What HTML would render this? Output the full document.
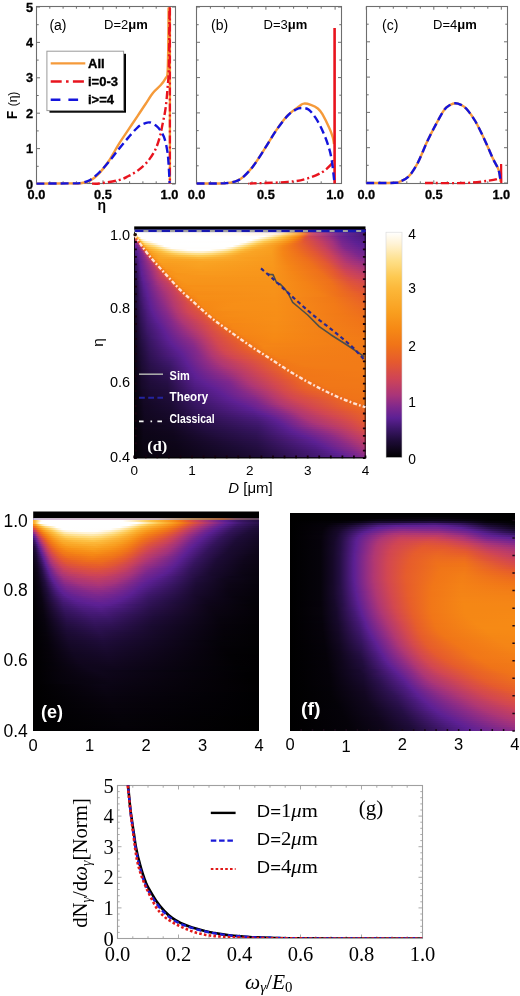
<!DOCTYPE html>
<html><head><meta charset="utf-8"><style>html,body{margin:0;padding:0;background:#fff;width:520px;height:996px;overflow:hidden}svg{display:block}</style></head>
<body><svg width="520" height="996" viewBox="0 0 520 996">
<defs><linearGradient id="d0" gradientUnits="userSpaceOnUse" x1="134.2" x2="365.5"><stop offset="0" stop-color="#ffffff"/><stop offset="0.64" stop-color="#ffffff"/><stop offset="0.644" stop-color="#fffdf9"/><stop offset="0.662" stop-color="#ffeec1"/><stop offset="0.679" stop-color="#fedb7e"/><stop offset="0.692" stop-color="#fdc952"/><stop offset="0.709" stop-color="#fbb031"/><stop offset="0.731" stop-color="#f68c16"/><stop offset="0.744" stop-color="#f07418"/><stop offset="0.756" stop-color="#e35831"/><stop offset="0.774" stop-color="#c5405f"/><stop offset="0.791" stop-color="#b4396f"/><stop offset="0.834" stop-color="#972f82"/><stop offset="0.886" stop-color="#6b2391"/><stop offset="0.916" stop-color="#5b2093"/><stop offset="0.985" stop-color="#4c1b7e"/><stop offset="1" stop-color="#4b1b7d"/></linearGradient>
<linearGradient id="d1" gradientUnits="userSpaceOnUse" x1="134.2" x2="365.5"><stop offset="0" stop-color="#fff3d7"/><stop offset="0.006" stop-color="#ffffff"/><stop offset="0.623" stop-color="#ffffff"/><stop offset="0.644" stop-color="#ffefc4"/><stop offset="0.666" stop-color="#feda7c"/><stop offset="0.683" stop-color="#fdc54c"/><stop offset="0.7" stop-color="#fbb031"/><stop offset="0.722" stop-color="#f79118"/><stop offset="0.735" stop-color="#f27a17"/><stop offset="0.744" stop-color="#eb6921"/><stop offset="0.752" stop-color="#e35832"/><stop offset="0.765" stop-color="#cf4456"/><stop offset="0.778" stop-color="#bd3c67"/><stop offset="0.83" stop-color="#9b3080"/><stop offset="0.881" stop-color="#6e2490"/><stop offset="0.916" stop-color="#5b2093"/><stop offset="0.985" stop-color="#4c1b7e"/><stop offset="1" stop-color="#4b1b7d"/></linearGradient>
<linearGradient id="d2" gradientUnits="userSpaceOnUse" x1="134.2" x2="365.5"><stop offset="0" stop-color="#fcba3c"/><stop offset="0.006" stop-color="#feda7b"/><stop offset="0.011" stop-color="#fff6e1"/><stop offset="0.015" stop-color="#ffffff"/><stop offset="0.597" stop-color="#fffffe"/><stop offset="0.619" stop-color="#fff1cd"/><stop offset="0.644" stop-color="#fedc81"/><stop offset="0.666" stop-color="#fdc64d"/><stop offset="0.688" stop-color="#fbb031"/><stop offset="0.713" stop-color="#f79219"/><stop offset="0.726" stop-color="#f27d17"/><stop offset="0.735" stop-color="#ed6e1d"/><stop offset="0.748" stop-color="#e15636"/><stop offset="0.761" stop-color="#cf4456"/><stop offset="0.778" stop-color="#bd3c67"/><stop offset="0.83" stop-color="#9b3080"/><stop offset="0.881" stop-color="#6e2490"/><stop offset="0.92" stop-color="#5a1f91"/><stop offset="0.989" stop-color="#4c1b7e"/><stop offset="1" stop-color="#4b1b7d"/></linearGradient>
<linearGradient id="d3" gradientUnits="userSpaceOnUse" x1="134.2" x2="365.5"><stop offset="0" stop-color="#f48416"/><stop offset="0.006" stop-color="#f9a121"/><stop offset="0.011" stop-color="#fdc349"/><stop offset="0.015" stop-color="#fee7a5"/><stop offset="0.019" stop-color="#fffbf1"/><stop offset="0.024" stop-color="#ffffff"/><stop offset="0.562" stop-color="#ffffff"/><stop offset="0.593" stop-color="#ffefc7"/><stop offset="0.627" stop-color="#fed775"/><stop offset="0.644" stop-color="#fdc850"/><stop offset="0.67" stop-color="#fbb133"/><stop offset="0.705" stop-color="#f79018"/><stop offset="0.722" stop-color="#f17817"/><stop offset="0.739" stop-color="#e55a2e"/><stop offset="0.756" stop-color="#d14653"/><stop offset="0.8" stop-color="#b4396f"/><stop offset="0.838" stop-color="#9a3080"/><stop offset="0.886" stop-color="#6f2490"/><stop offset="0.925" stop-color="#5b2092"/><stop offset="0.989" stop-color="#4d1b7f"/><stop offset="1" stop-color="#4c1b7f"/></linearGradient>
<linearGradient id="d4" gradientUnits="userSpaceOnUse" x1="134.2" x2="365.5"><stop offset="0" stop-color="#d94e43"/><stop offset="0.006" stop-color="#e96426"/><stop offset="0.011" stop-color="#f58815"/><stop offset="0.015" stop-color="#fbad2f"/><stop offset="0.019" stop-color="#fdd167"/><stop offset="0.024" stop-color="#ffebb4"/><stop offset="0.028" stop-color="#fff8e6"/><stop offset="0.032" stop-color="#ffffff"/><stop offset="0.532" stop-color="#ffffff"/><stop offset="0.593" stop-color="#fedd83"/><stop offset="0.627" stop-color="#fdc34a"/><stop offset="0.657" stop-color="#fbad2f"/><stop offset="0.696" stop-color="#f68d16"/><stop offset="0.718" stop-color="#ef7319"/><stop offset="0.739" stop-color="#de533a"/><stop offset="0.761" stop-color="#d24751"/><stop offset="0.843" stop-color="#a1327d"/><stop offset="0.89" stop-color="#72258f"/><stop offset="0.938" stop-color="#5b2092"/><stop offset="0.994" stop-color="#4e1c82"/><stop offset="1" stop-color="#4e1c81"/></linearGradient>
<linearGradient id="d5" gradientUnits="userSpaceOnUse" x1="134.2" x2="365.5"><stop offset="0" stop-color="#af3773"/><stop offset="0.006" stop-color="#c03e64"/><stop offset="0.011" stop-color="#db5041"/><stop offset="0.015" stop-color="#f07418"/><stop offset="0.019" stop-color="#f89b1d"/><stop offset="0.024" stop-color="#fcba3d"/><stop offset="0.028" stop-color="#fed775"/><stop offset="0.032" stop-color="#fee8a9"/><stop offset="0.037" stop-color="#fff0cc"/><stop offset="0.041" stop-color="#fff6df"/><stop offset="0.054" stop-color="#ffffff"/><stop offset="0.506" stop-color="#ffffff"/><stop offset="0.554" stop-color="#fee18d"/><stop offset="0.597" stop-color="#fdc64d"/><stop offset="0.636" stop-color="#fbae2f"/><stop offset="0.683" stop-color="#f68c16"/><stop offset="0.709" stop-color="#ef7219"/><stop offset="0.735" stop-color="#e05536"/><stop offset="0.791" stop-color="#c8415d"/><stop offset="0.851" stop-color="#a1327d"/><stop offset="0.894" stop-color="#75258f"/><stop offset="0.95" stop-color="#5a1f91"/><stop offset="1" stop-color="#511d85"/></linearGradient>
<linearGradient id="d6" gradientUnits="userSpaceOnUse" x1="134.2" x2="365.5"><stop offset="0" stop-color="#892b88"/><stop offset="0.006" stop-color="#932e83"/><stop offset="0.011" stop-color="#ab3577"/><stop offset="0.015" stop-color="#cb425a"/><stop offset="0.019" stop-color="#e75f2a"/><stop offset="0.024" stop-color="#f58616"/><stop offset="0.028" stop-color="#faa728"/><stop offset="0.032" stop-color="#fdc146"/><stop offset="0.037" stop-color="#fed56f"/><stop offset="0.041" stop-color="#fee18d"/><stop offset="0.045" stop-color="#fee6a3"/><stop offset="0.058" stop-color="#fff0ca"/><stop offset="0.084" stop-color="#ffffff"/><stop offset="0.481" stop-color="#fffefd"/><stop offset="0.502" stop-color="#fff0cb"/><stop offset="0.528" stop-color="#fedf87"/><stop offset="0.562" stop-color="#fdc74f"/><stop offset="0.601" stop-color="#fbb234"/><stop offset="0.666" stop-color="#f68d16"/><stop offset="0.7" stop-color="#ef711b"/><stop offset="0.731" stop-color="#e45930"/><stop offset="0.808" stop-color="#c43f61"/><stop offset="0.856" stop-color="#a4337c"/><stop offset="0.899" stop-color="#76268e"/><stop offset="0.959" stop-color="#5b2093"/><stop offset="1" stop-color="#551e8a"/></linearGradient>
<linearGradient id="d7" gradientUnits="userSpaceOnUse" x1="134.2" x2="365.5"><stop offset="0" stop-color="#71258f"/><stop offset="0.011" stop-color="#80288c"/><stop offset="0.015" stop-color="#972f82"/><stop offset="0.019" stop-color="#b93b6b"/><stop offset="0.024" stop-color="#db5041"/><stop offset="0.028" stop-color="#f07319"/><stop offset="0.032" stop-color="#f7941a"/><stop offset="0.037" stop-color="#fbae2f"/><stop offset="0.045" stop-color="#fdcd5c"/><stop offset="0.05" stop-color="#fed56f"/><stop offset="0.084" stop-color="#ffeec2"/><stop offset="0.106" stop-color="#fffefb"/><stop offset="0.123" stop-color="#ffffff"/><stop offset="0.45" stop-color="#ffffff"/><stop offset="0.468" stop-color="#fff5dc"/><stop offset="0.506" stop-color="#fedb7d"/><stop offset="0.532" stop-color="#fdc74f"/><stop offset="0.562" stop-color="#fcb537"/><stop offset="0.636" stop-color="#f7941a"/><stop offset="0.666" stop-color="#f48116"/><stop offset="0.696" stop-color="#ed6d1e"/><stop offset="0.752" stop-color="#de533a"/><stop offset="0.813" stop-color="#c6405e"/><stop offset="0.86" stop-color="#a6337b"/><stop offset="0.899" stop-color="#7c278d"/><stop offset="0.968" stop-color="#5d2094"/><stop offset="1" stop-color="#591f8f"/></linearGradient>
<linearGradient id="d8" gradientUnits="userSpaceOnUse" x1="134.2" x2="365.5"><stop offset="0" stop-color="#602193"/><stop offset="0.011" stop-color="#6c2490"/><stop offset="0.015" stop-color="#77268e"/><stop offset="0.019" stop-color="#8b2b87"/><stop offset="0.024" stop-color="#ad3676"/><stop offset="0.028" stop-color="#d04554"/><stop offset="0.032" stop-color="#e86128"/><stop offset="0.037" stop-color="#f48116"/><stop offset="0.041" stop-color="#f99d1e"/><stop offset="0.045" stop-color="#fbae2f"/><stop offset="0.054" stop-color="#fdc248"/><stop offset="0.088" stop-color="#fedf89"/><stop offset="0.123" stop-color="#fff8e9"/><stop offset="0.131" stop-color="#fffffe"/><stop offset="0.425" stop-color="#fffffe"/><stop offset="0.45" stop-color="#ffeec3"/><stop offset="0.476" stop-color="#fedd83"/><stop offset="0.506" stop-color="#fdc74e"/><stop offset="0.537" stop-color="#fbb335"/><stop offset="0.61" stop-color="#f89a1d"/><stop offset="0.649" stop-color="#f48416"/><stop offset="0.692" stop-color="#ee6f1c"/><stop offset="0.752" stop-color="#e15635"/><stop offset="0.821" stop-color="#c6405e"/><stop offset="0.869" stop-color="#a3337c"/><stop offset="0.903" stop-color="#7e288c"/><stop offset="0.972" stop-color="#612193"/><stop offset="1" stop-color="#5d2094"/></linearGradient>
<linearGradient id="d9" gradientUnits="userSpaceOnUse" x1="134.2" x2="365.5"><stop offset="0" stop-color="#541e89"/><stop offset="0.011" stop-color="#612193"/><stop offset="0.019" stop-color="#75268e"/><stop offset="0.024" stop-color="#862a89"/><stop offset="0.028" stop-color="#a3327c"/><stop offset="0.032" stop-color="#c23f62"/><stop offset="0.037" stop-color="#de533a"/><stop offset="0.041" stop-color="#ef711a"/><stop offset="0.045" stop-color="#f68b15"/><stop offset="0.05" stop-color="#f99f1f"/><stop offset="0.058" stop-color="#fbb234"/><stop offset="0.088" stop-color="#fdcb57"/><stop offset="0.119" stop-color="#fee498"/><stop offset="0.144" stop-color="#fff5dd"/><stop offset="0.162" stop-color="#fffefd"/><stop offset="0.39" stop-color="#fffefd"/><stop offset="0.416" stop-color="#fff2d1"/><stop offset="0.45" stop-color="#fedc80"/><stop offset="0.481" stop-color="#fdc64d"/><stop offset="0.511" stop-color="#fbb334"/><stop offset="0.554" stop-color="#faa627"/><stop offset="0.601" stop-color="#f89c1e"/><stop offset="0.644" stop-color="#f48416"/><stop offset="0.696" stop-color="#ee6f1c"/><stop offset="0.761" stop-color="#e15635"/><stop offset="0.825" stop-color="#c9425c"/><stop offset="0.877" stop-color="#a0327d"/><stop offset="0.912" stop-color="#7f288c"/><stop offset="0.981" stop-color="#642292"/><stop offset="1" stop-color="#612193"/></linearGradient>
<linearGradient id="d10" gradientUnits="userSpaceOnUse" x1="134.2" x2="365.5"><stop offset="0" stop-color="#4a1b7b"/><stop offset="0.011" stop-color="#581f8f"/><stop offset="0.019" stop-color="#6b2391"/><stop offset="0.028" stop-color="#84298a"/><stop offset="0.032" stop-color="#9b3080"/><stop offset="0.037" stop-color="#b73a6c"/><stop offset="0.041" stop-color="#d4494c"/><stop offset="0.045" stop-color="#e86128"/><stop offset="0.05" stop-color="#f27b17"/><stop offset="0.054" stop-color="#f78f17"/><stop offset="0.063" stop-color="#faa626"/><stop offset="0.101" stop-color="#fdc247"/><stop offset="0.114" stop-color="#fdcc5a"/><stop offset="0.162" stop-color="#ffecbb"/><stop offset="0.183" stop-color="#fff4da"/><stop offset="0.231" stop-color="#ffffff"/><stop offset="0.325" stop-color="#fffffe"/><stop offset="0.377" stop-color="#fff1cd"/><stop offset="0.403" stop-color="#fee7a5"/><stop offset="0.45" stop-color="#fdc84f"/><stop offset="0.481" stop-color="#fcb436"/><stop offset="0.524" stop-color="#faa626"/><stop offset="0.593" stop-color="#f99e1f"/><stop offset="0.644" stop-color="#f48416"/><stop offset="0.705" stop-color="#ee6e1d"/><stop offset="0.769" stop-color="#e15635"/><stop offset="0.834" stop-color="#c9415c"/><stop offset="0.886" stop-color="#9f317e"/><stop offset="0.92" stop-color="#82298b"/><stop offset="0.985" stop-color="#682391"/><stop offset="1" stop-color="#662292"/></linearGradient>
<linearGradient id="d11" gradientUnits="userSpaceOnUse" x1="134.2" x2="365.5"><stop offset="0" stop-color="#411870"/><stop offset="0.015" stop-color="#5b2093"/><stop offset="0.032" stop-color="#84298a"/><stop offset="0.037" stop-color="#962f82"/><stop offset="0.041" stop-color="#ae3774"/><stop offset="0.045" stop-color="#c9425b"/><stop offset="0.05" stop-color="#df5438"/><stop offset="0.054" stop-color="#ed6d1e"/><stop offset="0.058" stop-color="#f48216"/><stop offset="0.067" stop-color="#f89c1e"/><stop offset="0.084" stop-color="#faaa2a"/><stop offset="0.119" stop-color="#fcbc40"/><stop offset="0.14" stop-color="#fdcc5a"/><stop offset="0.17" stop-color="#fede85"/><stop offset="0.231" stop-color="#ffedbe"/><stop offset="0.269" stop-color="#fff2d1"/><stop offset="0.3" stop-color="#fff1ce"/><stop offset="0.338" stop-color="#ffeab1"/><stop offset="0.403" stop-color="#fdd36b"/><stop offset="0.429" stop-color="#fdc349"/><stop offset="0.459" stop-color="#fbb233"/><stop offset="0.506" stop-color="#faa425"/><stop offset="0.593" stop-color="#f99d1e"/><stop offset="0.644" stop-color="#f58516"/><stop offset="0.709" stop-color="#ee6f1c"/><stop offset="0.778" stop-color="#e25734"/><stop offset="0.843" stop-color="#c8415c"/><stop offset="0.899" stop-color="#9a3080"/><stop offset="0.955" stop-color="#78268e"/><stop offset="1" stop-color="#6b2391"/></linearGradient>
<linearGradient id="d12" gradientUnits="userSpaceOnUse" x1="134.2" x2="365.5"><stop offset="0" stop-color="#3a1665"/><stop offset="0.015" stop-color="#561e8c"/><stop offset="0.019" stop-color="#602193"/><stop offset="0.037" stop-color="#852a8a"/><stop offset="0.041" stop-color="#932e83"/><stop offset="0.045" stop-color="#a8347a"/><stop offset="0.05" stop-color="#bd3d66"/><stop offset="0.054" stop-color="#d54a4b"/><stop offset="0.058" stop-color="#e75e2a"/><stop offset="0.063" stop-color="#f07618"/><stop offset="0.067" stop-color="#f58715"/><stop offset="0.075" stop-color="#f89c1e"/><stop offset="0.101" stop-color="#faaa2b"/><stop offset="0.144" stop-color="#fcbc3f"/><stop offset="0.196" stop-color="#fdd268"/><stop offset="0.252" stop-color="#fede86"/><stop offset="0.291" stop-color="#fee08a"/><stop offset="0.334" stop-color="#fed876"/><stop offset="0.412" stop-color="#fcbb3e"/><stop offset="0.468" stop-color="#faa626"/><stop offset="0.593" stop-color="#f89c1e"/><stop offset="0.644" stop-color="#f58516"/><stop offset="0.718" stop-color="#ee6f1c"/><stop offset="0.787" stop-color="#e25733"/><stop offset="0.847" stop-color="#cb425a"/><stop offset="0.903" stop-color="#9f317e"/><stop offset="0.968" stop-color="#79268e"/><stop offset="1" stop-color="#71258f"/></linearGradient>
<linearGradient id="d13" gradientUnits="userSpaceOnUse" x1="134.2" x2="365.5"><stop offset="0" stop-color="#34145c"/><stop offset="0.019" stop-color="#5b2093"/><stop offset="0.041" stop-color="#872a89"/><stop offset="0.05" stop-color="#a3327c"/><stop offset="0.054" stop-color="#b4396f"/><stop offset="0.058" stop-color="#cb425a"/><stop offset="0.067" stop-color="#eb6822"/><stop offset="0.071" stop-color="#f27c17"/><stop offset="0.075" stop-color="#f68b15"/><stop offset="0.084" stop-color="#f89c1e"/><stop offset="0.114" stop-color="#faa92a"/><stop offset="0.183" stop-color="#fcbb3e"/><stop offset="0.274" stop-color="#fdcc59"/><stop offset="0.317" stop-color="#fdc850"/><stop offset="0.446" stop-color="#faa526"/><stop offset="0.597" stop-color="#f89a1d"/><stop offset="0.649" stop-color="#f48416"/><stop offset="0.726" stop-color="#ee6f1c"/><stop offset="0.8" stop-color="#e15635"/><stop offset="0.856" stop-color="#cb425a"/><stop offset="0.907" stop-color="#a3337c"/><stop offset="0.972" stop-color="#7e288c"/><stop offset="1" stop-color="#78268e"/></linearGradient>
<linearGradient id="d14" gradientUnits="userSpaceOnUse" x1="134.2" x2="365.5"><stop offset="0" stop-color="#2f1253"/><stop offset="0.019" stop-color="#571e8d"/><stop offset="0.024" stop-color="#612193"/><stop offset="0.05" stop-color="#932e83"/><stop offset="0.058" stop-color="#ae3674"/><stop offset="0.063" stop-color="#bf3e65"/><stop offset="0.067" stop-color="#d4494d"/><stop offset="0.071" stop-color="#e55a2e"/><stop offset="0.075" stop-color="#ee6f1c"/><stop offset="0.08" stop-color="#f48116"/><stop offset="0.088" stop-color="#f8971b"/><stop offset="0.106" stop-color="#f9a424"/><stop offset="0.287" stop-color="#fcb83b"/><stop offset="0.481" stop-color="#f99f20"/><stop offset="0.597" stop-color="#f8991d"/><stop offset="0.653" stop-color="#f48416"/><stop offset="0.739" stop-color="#ee6f1c"/><stop offset="0.808" stop-color="#e25734"/><stop offset="0.864" stop-color="#ca425b"/><stop offset="0.916" stop-color="#a5337b"/><stop offset="0.981" stop-color="#83298b"/><stop offset="1" stop-color="#80288c"/></linearGradient>
<linearGradient id="d15" gradientUnits="userSpaceOnUse" x1="134.2" x2="365.5"><stop offset="0" stop-color="#2a104c"/><stop offset="0.024" stop-color="#5d2094"/><stop offset="0.054" stop-color="#952e83"/><stop offset="0.063" stop-color="#aa3578"/><stop offset="0.071" stop-color="#ca425b"/><stop offset="0.08" stop-color="#e86228"/><stop offset="0.084" stop-color="#f07618"/><stop offset="0.093" stop-color="#f79018"/><stop offset="0.106" stop-color="#f9a020"/><stop offset="0.3" stop-color="#faab2c"/><stop offset="0.528" stop-color="#f99d1e"/><stop offset="0.597" stop-color="#f8991c"/><stop offset="0.657" stop-color="#f48416"/><stop offset="0.748" stop-color="#ee6f1c"/><stop offset="0.817" stop-color="#e25733"/><stop offset="0.869" stop-color="#cc4359"/><stop offset="0.916" stop-color="#ab3577"/><stop offset="0.985" stop-color="#8a2b87"/><stop offset="1" stop-color="#882a88"/></linearGradient>
<linearGradient id="d16" gradientUnits="userSpaceOnUse" x1="134.2" x2="365.5"><stop offset="0" stop-color="#270f47"/><stop offset="0.024" stop-color="#5a1f91"/><stop offset="0.054" stop-color="#8f2d85"/><stop offset="0.067" stop-color="#a93479"/><stop offset="0.075" stop-color="#c03e64"/><stop offset="0.08" stop-color="#d24751"/><stop offset="0.084" stop-color="#e15636"/><stop offset="0.088" stop-color="#eb6822"/><stop offset="0.093" stop-color="#f27b17"/><stop offset="0.101" stop-color="#f79219"/><stop offset="0.114" stop-color="#f99f1f"/><stop offset="0.321" stop-color="#faa424"/><stop offset="0.597" stop-color="#f8981c"/><stop offset="0.662" stop-color="#f48416"/><stop offset="0.756" stop-color="#ee701c"/><stop offset="0.825" stop-color="#e35832"/><stop offset="0.877" stop-color="#cb425a"/><stop offset="0.92" stop-color="#af3773"/><stop offset="0.994" stop-color="#912d84"/><stop offset="1" stop-color="#912d85"/></linearGradient>
<linearGradient id="d17" gradientUnits="userSpaceOnUse" x1="134.2" x2="365.5"><stop offset="0" stop-color="#240e43"/><stop offset="0.024" stop-color="#581f8e"/><stop offset="0.028" stop-color="#612193"/><stop offset="0.067" stop-color="#9f317e"/><stop offset="0.08" stop-color="#ba3b6a"/><stop offset="0.084" stop-color="#c9415c"/><stop offset="0.093" stop-color="#e55b2d"/><stop offset="0.097" stop-color="#ee6e1d"/><stop offset="0.106" stop-color="#f68a15"/><stop offset="0.119" stop-color="#f89b1e"/><stop offset="0.287" stop-color="#f9a323"/><stop offset="0.597" stop-color="#f8981c"/><stop offset="0.666" stop-color="#f48416"/><stop offset="0.765" stop-color="#ee701b"/><stop offset="0.838" stop-color="#e25734"/><stop offset="0.89" stop-color="#c7415e"/><stop offset="0.946" stop-color="#ab3577"/><stop offset="1" stop-color="#993081"/></linearGradient>
<linearGradient id="d18" gradientUnits="userSpaceOnUse" x1="134.2" x2="365.5"><stop offset="0" stop-color="#220d3f"/><stop offset="0.024" stop-color="#551e8b"/><stop offset="0.028" stop-color="#5e2094"/><stop offset="0.063" stop-color="#922e84"/><stop offset="0.08" stop-color="#ae3774"/><stop offset="0.088" stop-color="#c13e63"/><stop offset="0.093" stop-color="#d04554"/><stop offset="0.101" stop-color="#e86029"/><stop offset="0.106" stop-color="#ef7219"/><stop offset="0.114" stop-color="#f68b16"/><stop offset="0.127" stop-color="#f8991d"/><stop offset="0.282" stop-color="#f9a121"/><stop offset="0.601" stop-color="#f8971b"/><stop offset="0.67" stop-color="#f58516"/><stop offset="0.774" stop-color="#ee701b"/><stop offset="0.843" stop-color="#e35831"/><stop offset="0.907" stop-color="#c23f62"/><stop offset="0.985" stop-color="#a5337b"/><stop offset="1" stop-color="#a2327d"/></linearGradient>
<linearGradient id="d19" gradientUnits="userSpaceOnUse" x1="134.2" x2="365.5"><stop offset="0" stop-color="#200d3b"/><stop offset="0.024" stop-color="#531d88"/><stop offset="0.028" stop-color="#5c2094"/><stop offset="0.067" stop-color="#942e83"/><stop offset="0.088" stop-color="#b5396e"/><stop offset="0.097" stop-color="#c9425b"/><stop offset="0.106" stop-color="#e05536"/><stop offset="0.114" stop-color="#f07518"/><stop offset="0.123" stop-color="#f68b16"/><stop offset="0.136" stop-color="#f8971c"/><stop offset="0.282" stop-color="#f99f20"/><stop offset="0.601" stop-color="#f8961b"/><stop offset="0.679" stop-color="#f48416"/><stop offset="0.782" stop-color="#ee701b"/><stop offset="0.851" stop-color="#e35831"/><stop offset="0.907" stop-color="#c8415c"/><stop offset="0.985" stop-color="#ac3676"/><stop offset="1" stop-color="#aa3578"/></linearGradient>
<linearGradient id="d20" gradientUnits="userSpaceOnUse" x1="134.2" x2="365.5"><stop offset="0" stop-color="#1e0c38"/><stop offset="0.024" stop-color="#511d86"/><stop offset="0.028" stop-color="#5a1f91"/><stop offset="0.058" stop-color="#82298b"/><stop offset="0.088" stop-color="#b03773"/><stop offset="0.101" stop-color="#c54060"/><stop offset="0.11" stop-color="#d94e45"/><stop offset="0.114" stop-color="#e45930"/><stop offset="0.123" stop-color="#f17718"/><stop offset="0.136" stop-color="#f79018"/><stop offset="0.17" stop-color="#f8991c"/><stop offset="0.304" stop-color="#f99d1e"/><stop offset="0.601" stop-color="#f8961b"/><stop offset="0.683" stop-color="#f48416"/><stop offset="0.791" stop-color="#ef711b"/><stop offset="0.86" stop-color="#e35832"/><stop offset="0.912" stop-color="#cd4358"/><stop offset="0.989" stop-color="#b13871"/><stop offset="1" stop-color="#b03772"/></linearGradient>
<linearGradient id="d21" gradientUnits="userSpaceOnUse" x1="134.2" x2="365.5"><stop offset="0" stop-color="#1d0c36"/><stop offset="0.024" stop-color="#4f1c83"/><stop offset="0.032" stop-color="#5e2193"/><stop offset="0.067" stop-color="#8a2b87"/><stop offset="0.093" stop-color="#b23871"/><stop offset="0.11" stop-color="#cb4259"/><stop offset="0.119" stop-color="#dc513e"/><stop offset="0.127" stop-color="#ec6b1f"/><stop offset="0.131" stop-color="#f17917"/><stop offset="0.144" stop-color="#f79018"/><stop offset="0.188" stop-color="#f8991c"/><stop offset="0.334" stop-color="#f89a1d"/><stop offset="0.601" stop-color="#f8951b"/><stop offset="0.688" stop-color="#f58516"/><stop offset="0.8" stop-color="#ef711b"/><stop offset="0.864" stop-color="#e45930"/><stop offset="0.916" stop-color="#d04554"/><stop offset="0.994" stop-color="#b73a6c"/><stop offset="1" stop-color="#b63a6d"/></linearGradient>
<linearGradient id="d22" gradientUnits="userSpaceOnUse" x1="134.2" x2="365.5"><stop offset="0" stop-color="#1b0b33"/><stop offset="0.011" stop-color="#2e1252"/><stop offset="0.024" stop-color="#4d1c80"/><stop offset="0.032" stop-color="#5c2094"/><stop offset="0.071" stop-color="#8d2c86"/><stop offset="0.093" stop-color="#ae3774"/><stop offset="0.119" stop-color="#d04555"/><stop offset="0.127" stop-color="#df543a"/><stop offset="0.136" stop-color="#ee6e1d"/><stop offset="0.144" stop-color="#f58516"/><stop offset="0.157" stop-color="#f79319"/><stop offset="0.282" stop-color="#f89a1d"/><stop offset="0.601" stop-color="#f8951b"/><stop offset="0.696" stop-color="#f48416"/><stop offset="0.813" stop-color="#ee701c"/><stop offset="0.873" stop-color="#e35831"/><stop offset="0.925" stop-color="#d14652"/><stop offset="1" stop-color="#bd3c67"/></linearGradient>
<linearGradient id="d23" gradientUnits="userSpaceOnUse" x1="134.2" x2="365.5"><stop offset="0" stop-color="#1a0a31"/><stop offset="0.011" stop-color="#2c114f"/><stop offset="0.024" stop-color="#4b1b7d"/><stop offset="0.032" stop-color="#5a1f91"/><stop offset="0.054" stop-color="#72258f"/><stop offset="0.08" stop-color="#962f82"/><stop offset="0.101" stop-color="#b4396f"/><stop offset="0.127" stop-color="#d14652"/><stop offset="0.136" stop-color="#e05536"/><stop offset="0.144" stop-color="#ef711b"/><stop offset="0.157" stop-color="#f68d16"/><stop offset="0.179" stop-color="#f8951b"/><stop offset="0.356" stop-color="#f8971b"/><stop offset="0.601" stop-color="#f7951a"/><stop offset="0.705" stop-color="#f48416"/><stop offset="0.821" stop-color="#ee701b"/><stop offset="0.881" stop-color="#e35832"/><stop offset="0.933" stop-color="#d3484f"/><stop offset="1" stop-color="#c33f61"/></linearGradient>
<linearGradient id="d24" gradientUnits="userSpaceOnUse" x1="134.2" x2="365.5"><stop offset="0" stop-color="#190a2f"/><stop offset="0.011" stop-color="#2a104c"/><stop offset="0.024" stop-color="#491a7a"/><stop offset="0.037" stop-color="#5d2094"/><stop offset="0.075" stop-color="#8b2b87"/><stop offset="0.097" stop-color="#ac3577"/><stop offset="0.131" stop-color="#cc4359"/><stop offset="0.14" stop-color="#d94e44"/><stop offset="0.153" stop-color="#f07319"/><stop offset="0.166" stop-color="#f68d16"/><stop offset="0.192" stop-color="#f8951b"/><stop offset="0.601" stop-color="#f7941a"/><stop offset="0.709" stop-color="#f48416"/><stop offset="0.83" stop-color="#ee701b"/><stop offset="0.89" stop-color="#e35832"/><stop offset="0.959" stop-color="#d14652"/><stop offset="1" stop-color="#ca425b"/></linearGradient>
<linearGradient id="d25" gradientUnits="userSpaceOnUse" x1="134.2" x2="365.5"><stop offset="0" stop-color="#180a2c"/><stop offset="0.006" stop-color="#1e0c38"/><stop offset="0.019" stop-color="#3e176b"/><stop offset="0.032" stop-color="#551e8a"/><stop offset="0.041" stop-color="#5f2193"/><stop offset="0.075" stop-color="#862a89"/><stop offset="0.101" stop-color="#ab3577"/><stop offset="0.14" stop-color="#cd4358"/><stop offset="0.149" stop-color="#da4f42"/><stop offset="0.157" stop-color="#ea6723"/><stop offset="0.162" stop-color="#f07518"/><stop offset="0.175" stop-color="#f68d17"/><stop offset="0.205" stop-color="#f7951a"/><stop offset="0.601" stop-color="#f7941a"/><stop offset="0.722" stop-color="#f48316"/><stop offset="0.843" stop-color="#ee701c"/><stop offset="0.925" stop-color="#dc513e"/><stop offset="1" stop-color="#d04555"/></linearGradient>
<linearGradient id="d26" gradientUnits="userSpaceOnUse" x1="134.2" x2="365.5"><stop offset="0" stop-color="#17092a"/><stop offset="0.011" stop-color="#270f47"/><stop offset="0.024" stop-color="#451975"/><stop offset="0.041" stop-color="#5c2094"/><stop offset="0.08" stop-color="#872a89"/><stop offset="0.106" stop-color="#ab3577"/><stop offset="0.144" stop-color="#c7415d"/><stop offset="0.153" stop-color="#d4494e"/><stop offset="0.162" stop-color="#e55b2d"/><stop offset="0.17" stop-color="#f17718"/><stop offset="0.183" stop-color="#f68d17"/><stop offset="0.218" stop-color="#f7941a"/><stop offset="0.606" stop-color="#f79319"/><stop offset="0.735" stop-color="#f48316"/><stop offset="0.847" stop-color="#ef711b"/><stop offset="0.929" stop-color="#df543a"/><stop offset="1" stop-color="#d3484f"/></linearGradient>
<linearGradient id="d27" gradientUnits="userSpaceOnUse" x1="134.2" x2="365.5"><stop offset="0" stop-color="#160929"/><stop offset="0.011" stop-color="#260f45"/><stop offset="0.024" stop-color="#431972"/><stop offset="0.041" stop-color="#5a1f91"/><stop offset="0.063" stop-color="#6e2490"/><stop offset="0.101" stop-color="#a0327e"/><stop offset="0.131" stop-color="#b83b6b"/><stop offset="0.153" stop-color="#c8415c"/><stop offset="0.162" stop-color="#d54a4b"/><stop offset="0.175" stop-color="#ec6b20"/><stop offset="0.179" stop-color="#f17817"/><stop offset="0.192" stop-color="#f68d17"/><stop offset="0.231" stop-color="#f79319"/><stop offset="0.606" stop-color="#f79319"/><stop offset="0.748" stop-color="#f48216"/><stop offset="0.856" stop-color="#ee701b"/><stop offset="0.933" stop-color="#e15636"/><stop offset="1" stop-color="#d64b49"/></linearGradient>
<linearGradient id="d28" gradientUnits="userSpaceOnUse" x1="134.2" x2="365.5"><stop offset="0" stop-color="#150827"/><stop offset="0.011" stop-color="#250e43"/><stop offset="0.024" stop-color="#411870"/><stop offset="0.041" stop-color="#571f8e"/><stop offset="0.05" stop-color="#5f2193"/><stop offset="0.093" stop-color="#8f2d85"/><stop offset="0.119" stop-color="#ac3677"/><stop offset="0.162" stop-color="#ca425a"/><stop offset="0.17" stop-color="#d64b49"/><stop offset="0.183" stop-color="#ed6d1e"/><stop offset="0.192" stop-color="#f48216"/><stop offset="0.205" stop-color="#f78f17"/><stop offset="0.606" stop-color="#f79219"/><stop offset="0.756" stop-color="#f48216"/><stop offset="0.86" stop-color="#ef711b"/><stop offset="0.942" stop-color="#e25734"/><stop offset="1" stop-color="#d94e43"/></linearGradient>
<linearGradient id="d29" gradientUnits="userSpaceOnUse" x1="134.2" x2="365.5"><stop offset="0" stop-color="#140826"/><stop offset="0.011" stop-color="#230e41"/><stop offset="0.024" stop-color="#3f186d"/><stop offset="0.041" stop-color="#551e8b"/><stop offset="0.05" stop-color="#5d2094"/><stop offset="0.093" stop-color="#8b2b87"/><stop offset="0.123" stop-color="#ab3577"/><stop offset="0.166" stop-color="#c7415d"/><stop offset="0.175" stop-color="#d24751"/><stop offset="0.188" stop-color="#e86128"/><stop offset="0.196" stop-color="#f17917"/><stop offset="0.209" stop-color="#f68c16"/><stop offset="0.256" stop-color="#f79118"/><stop offset="0.606" stop-color="#f79219"/><stop offset="0.765" stop-color="#f48116"/><stop offset="0.864" stop-color="#ef711b"/><stop offset="0.95" stop-color="#e35832"/><stop offset="1" stop-color="#dc513e"/></linearGradient>
<linearGradient id="d30" gradientUnits="userSpaceOnUse" x1="134.2" x2="365.5"><stop offset="0" stop-color="#140825"/><stop offset="0.011" stop-color="#220e3f"/><stop offset="0.024" stop-color="#3e176b"/><stop offset="0.041" stop-color="#531d88"/><stop offset="0.054" stop-color="#5e2193"/><stop offset="0.101" stop-color="#912d84"/><stop offset="0.131" stop-color="#ad3675"/><stop offset="0.175" stop-color="#ca425a"/><stop offset="0.183" stop-color="#d4494e"/><stop offset="0.196" stop-color="#e86227"/><stop offset="0.205" stop-color="#f17917"/><stop offset="0.218" stop-color="#f68b15"/><stop offset="0.265" stop-color="#f79018"/><stop offset="0.606" stop-color="#f79219"/><stop offset="0.778" stop-color="#f38116"/><stop offset="0.869" stop-color="#ef711a"/><stop offset="0.963" stop-color="#e35832"/><stop offset="1" stop-color="#df5439"/></linearGradient>
<linearGradient id="d31" gradientUnits="userSpaceOnUse" x1="134.2" x2="365.5"><stop offset="0" stop-color="#130824"/><stop offset="0.011" stop-color="#210d3d"/><stop offset="0.024" stop-color="#3c1769"/><stop offset="0.041" stop-color="#511d86"/><stop offset="0.054" stop-color="#5c2094"/><stop offset="0.106" stop-color="#912d84"/><stop offset="0.14" stop-color="#af3773"/><stop offset="0.183" stop-color="#cd4358"/><stop offset="0.196" stop-color="#db5040"/><stop offset="0.209" stop-color="#ed6e1d"/><stop offset="0.218" stop-color="#f38016"/><stop offset="0.235" stop-color="#f68d17"/><stop offset="0.606" stop-color="#f79219"/><stop offset="0.795" stop-color="#f38016"/><stop offset="0.877" stop-color="#ee701c"/><stop offset="0.985" stop-color="#e35832"/><stop offset="1" stop-color="#e15635"/></linearGradient>
<linearGradient id="d32" gradientUnits="userSpaceOnUse" x1="134.2" x2="365.5"><stop offset="0" stop-color="#130823"/><stop offset="0.011" stop-color="#200d3c"/><stop offset="0.024" stop-color="#3a1666"/><stop offset="0.041" stop-color="#501c83"/><stop offset="0.058" stop-color="#5e2094"/><stop offset="0.11" stop-color="#912d84"/><stop offset="0.149" stop-color="#b23871"/><stop offset="0.192" stop-color="#d04555"/><stop offset="0.205" stop-color="#dc513e"/><stop offset="0.218" stop-color="#ed6d1e"/><stop offset="0.226" stop-color="#f37f17"/><stop offset="0.244" stop-color="#f68c16"/><stop offset="0.606" stop-color="#f79119"/><stop offset="0.808" stop-color="#f37f17"/><stop offset="0.881" stop-color="#ee701b"/><stop offset="1" stop-color="#e45930"/></linearGradient>
<linearGradient id="d33" gradientUnits="userSpaceOnUse" x1="134.2" x2="365.5"><stop offset="0" stop-color="#120722"/><stop offset="0.011" stop-color="#1f0c3a"/><stop offset="0.024" stop-color="#391664"/><stop offset="0.041" stop-color="#4e1c81"/><stop offset="0.058" stop-color="#5c2094"/><stop offset="0.114" stop-color="#912d84"/><stop offset="0.157" stop-color="#b5396e"/><stop offset="0.2" stop-color="#d14652"/><stop offset="0.213" stop-color="#dd523d"/><stop offset="0.231" stop-color="#f07518"/><stop offset="0.244" stop-color="#f58715"/><stop offset="0.278" stop-color="#f68e17"/><stop offset="0.606" stop-color="#f79119"/><stop offset="0.821" stop-color="#f37e17"/><stop offset="0.89" stop-color="#ee6f1c"/><stop offset="1" stop-color="#e65b2d"/></linearGradient>
<linearGradient id="d34" gradientUnits="userSpaceOnUse" x1="134.2" x2="365.5"><stop offset="0" stop-color="#120721"/><stop offset="0.015" stop-color="#281048"/><stop offset="0.028" stop-color="#3e176b"/><stop offset="0.058" stop-color="#5a1f91"/><stop offset="0.11" stop-color="#892b88"/><stop offset="0.157" stop-color="#b23871"/><stop offset="0.213" stop-color="#d54a4a"/><stop offset="0.226" stop-color="#e35831"/><stop offset="0.239" stop-color="#f07418"/><stop offset="0.252" stop-color="#f58516"/><stop offset="0.282" stop-color="#f68d16"/><stop offset="0.61" stop-color="#f79018"/><stop offset="0.86" stop-color="#f17817"/><stop offset="1" stop-color="#e75e2b"/></linearGradient>
<linearGradient id="d35" gradientUnits="userSpaceOnUse" x1="134.2" x2="365.5"><stop offset="0" stop-color="#110720"/><stop offset="0.015" stop-color="#270f47"/><stop offset="0.028" stop-color="#3c1769"/><stop offset="0.058" stop-color="#581f8f"/><stop offset="0.067" stop-color="#602193"/><stop offset="0.123" stop-color="#912d84"/><stop offset="0.166" stop-color="#b63a6d"/><stop offset="0.222" stop-color="#d74c48"/><stop offset="0.239" stop-color="#e75f2a"/><stop offset="0.248" stop-color="#ef711a"/><stop offset="0.261" stop-color="#f48416"/><stop offset="0.287" stop-color="#f68c16"/><stop offset="0.61" stop-color="#f79018"/><stop offset="0.86" stop-color="#f17917"/><stop offset="1" stop-color="#e86029"/></linearGradient>
<linearGradient id="d36" gradientUnits="userSpaceOnUse" x1="134.2" x2="365.5"><stop offset="0" stop-color="#11071f"/><stop offset="0.024" stop-color="#35145e"/><stop offset="0.041" stop-color="#491a7a"/><stop offset="0.067" stop-color="#5e2094"/><stop offset="0.127" stop-color="#912d84"/><stop offset="0.17" stop-color="#b63a6d"/><stop offset="0.218" stop-color="#d24750"/><stop offset="0.239" stop-color="#de533b"/><stop offset="0.252" stop-color="#ea6624"/><stop offset="0.261" stop-color="#f17718"/><stop offset="0.278" stop-color="#f68915"/><stop offset="0.463" stop-color="#f78f17"/><stop offset="0.61" stop-color="#f79018"/><stop offset="0.864" stop-color="#f17917"/><stop offset="1" stop-color="#e96327"/></linearGradient>
<linearGradient id="d37" gradientUnits="userSpaceOnUse" x1="134.2" x2="365.5"><stop offset="0" stop-color="#11071e"/><stop offset="0.024" stop-color="#34145c"/><stop offset="0.045" stop-color="#4b1b7c"/><stop offset="0.067" stop-color="#5c2094"/><stop offset="0.127" stop-color="#8d2c86"/><stop offset="0.17" stop-color="#b33970"/><stop offset="0.222" stop-color="#d24750"/><stop offset="0.248" stop-color="#de533b"/><stop offset="0.261" stop-color="#e96425"/><stop offset="0.269" stop-color="#f17618"/><stop offset="0.287" stop-color="#f68815"/><stop offset="0.433" stop-color="#f78f17"/><stop offset="0.614" stop-color="#f78f18"/><stop offset="0.864" stop-color="#f27a17"/><stop offset="1" stop-color="#ea6525"/></linearGradient>
<linearGradient id="d38" gradientUnits="userSpaceOnUse" x1="134.2" x2="365.5"><stop offset="0" stop-color="#10061e"/><stop offset="0.024" stop-color="#321359"/><stop offset="0.045" stop-color="#491a7a"/><stop offset="0.071" stop-color="#5d2094"/><stop offset="0.131" stop-color="#8c2c86"/><stop offset="0.17" stop-color="#b13872"/><stop offset="0.222" stop-color="#d14652"/><stop offset="0.256" stop-color="#dd523c"/><stop offset="0.269" stop-color="#e96326"/><stop offset="0.278" stop-color="#f07518"/><stop offset="0.295" stop-color="#f58815"/><stop offset="0.412" stop-color="#f78e17"/><stop offset="0.614" stop-color="#f78f18"/><stop offset="0.869" stop-color="#f27a17"/><stop offset="1" stop-color="#eb6723"/></linearGradient>
<linearGradient id="d39" gradientUnits="userSpaceOnUse" x1="134.2" x2="365.5"><stop offset="0" stop-color="#10061d"/><stop offset="0.024" stop-color="#311357"/><stop offset="0.045" stop-color="#471a78"/><stop offset="0.071" stop-color="#5b2093"/><stop offset="0.136" stop-color="#8c2c86"/><stop offset="0.175" stop-color="#b13872"/><stop offset="0.226" stop-color="#d14652"/><stop offset="0.265" stop-color="#dd523c"/><stop offset="0.278" stop-color="#e86227"/><stop offset="0.287" stop-color="#f07319"/><stop offset="0.304" stop-color="#f58715"/><stop offset="0.394" stop-color="#f78e17"/><stop offset="0.614" stop-color="#f78f17"/><stop offset="0.873" stop-color="#f27a17"/><stop offset="1" stop-color="#eb6921"/></linearGradient>
<linearGradient id="d40" gradientUnits="userSpaceOnUse" x1="134.2" x2="365.5"><stop offset="0" stop-color="#0f061c"/><stop offset="0.028" stop-color="#35145e"/><stop offset="0.058" stop-color="#4f1c83"/><stop offset="0.075" stop-color="#5c2094"/><stop offset="0.14" stop-color="#8c2c87"/><stop offset="0.179" stop-color="#b13872"/><stop offset="0.231" stop-color="#d14652"/><stop offset="0.274" stop-color="#de533c"/><stop offset="0.287" stop-color="#e86128"/><stop offset="0.295" stop-color="#ef721a"/><stop offset="0.312" stop-color="#f58715"/><stop offset="0.381" stop-color="#f68d17"/><stop offset="0.614" stop-color="#f78f17"/><stop offset="0.877" stop-color="#f27a17"/><stop offset="1" stop-color="#ec6b20"/></linearGradient>
<linearGradient id="d41" gradientUnits="userSpaceOnUse" x1="134.2" x2="365.5"><stop offset="0" stop-color="#0f061b"/><stop offset="0.028" stop-color="#34145c"/><stop offset="0.058" stop-color="#4e1c81"/><stop offset="0.08" stop-color="#5d2094"/><stop offset="0.14" stop-color="#882a89"/><stop offset="0.183" stop-color="#b13872"/><stop offset="0.235" stop-color="#d14653"/><stop offset="0.282" stop-color="#dd523c"/><stop offset="0.295" stop-color="#e86029"/><stop offset="0.308" stop-color="#f17818"/><stop offset="0.325" stop-color="#f58815"/><stop offset="0.498" stop-color="#f68d17"/><stop offset="0.614" stop-color="#f78e17"/><stop offset="0.881" stop-color="#f27a17"/><stop offset="1" stop-color="#ed6c1e"/></linearGradient>
<linearGradient id="d42" gradientUnits="userSpaceOnUse" x1="134.2" x2="365.5"><stop offset="0" stop-color="#0e061a"/><stop offset="0.028" stop-color="#33135a"/><stop offset="0.058" stop-color="#4c1b7e"/><stop offset="0.084" stop-color="#5d2094"/><stop offset="0.144" stop-color="#872a89"/><stop offset="0.188" stop-color="#b03772"/><stop offset="0.244" stop-color="#d14653"/><stop offset="0.291" stop-color="#dd523c"/><stop offset="0.304" stop-color="#e75f2a"/><stop offset="0.317" stop-color="#f07618"/><stop offset="0.334" stop-color="#f58715"/><stop offset="0.442" stop-color="#f68c16"/><stop offset="0.619" stop-color="#f78e17"/><stop offset="0.89" stop-color="#f17917"/><stop offset="1" stop-color="#ed6e1d"/></linearGradient>
<linearGradient id="d43" gradientUnits="userSpaceOnUse" x1="134.2" x2="365.5"><stop offset="0" stop-color="#0e0619"/><stop offset="0.028" stop-color="#311358"/><stop offset="0.058" stop-color="#4a1b7c"/><stop offset="0.088" stop-color="#5d2094"/><stop offset="0.144" stop-color="#82298b"/><stop offset="0.192" stop-color="#af3773"/><stop offset="0.252" stop-color="#d04554"/><stop offset="0.3" stop-color="#dd523d"/><stop offset="0.317" stop-color="#e96426"/><stop offset="0.325" stop-color="#f07319"/><stop offset="0.343" stop-color="#f58616"/><stop offset="0.407" stop-color="#f68b16"/><stop offset="0.619" stop-color="#f68e17"/><stop offset="0.903" stop-color="#f17917"/><stop offset="1" stop-color="#ee6f1c"/></linearGradient>
<linearGradient id="d44" gradientUnits="userSpaceOnUse" x1="134.2" x2="365.5"><stop offset="0" stop-color="#0d0518"/><stop offset="0.028" stop-color="#301256"/><stop offset="0.058" stop-color="#481a79"/><stop offset="0.093" stop-color="#5d2094"/><stop offset="0.149" stop-color="#82298b"/><stop offset="0.196" stop-color="#ae3675"/><stop offset="0.261" stop-color="#d04554"/><stop offset="0.308" stop-color="#dd523d"/><stop offset="0.325" stop-color="#e86228"/><stop offset="0.338" stop-color="#f17718"/><stop offset="0.36" stop-color="#f58815"/><stop offset="0.61" stop-color="#f78e17"/><stop offset="0.92" stop-color="#f17818"/><stop offset="1" stop-color="#ef711b"/></linearGradient>
<linearGradient id="d45" gradientUnits="userSpaceOnUse" x1="134.2" x2="365.5"><stop offset="0" stop-color="#0d0517"/><stop offset="0.028" stop-color="#2f1254"/><stop offset="0.058" stop-color="#471a77"/><stop offset="0.097" stop-color="#5c2094"/><stop offset="0.153" stop-color="#81288c"/><stop offset="0.205" stop-color="#af3774"/><stop offset="0.274" stop-color="#d04553"/><stop offset="0.321" stop-color="#df5439"/><stop offset="0.338" stop-color="#ea6524"/><stop offset="0.351" stop-color="#f17917"/><stop offset="0.373" stop-color="#f58715"/><stop offset="0.61" stop-color="#f78e17"/><stop offset="0.946" stop-color="#f17618"/><stop offset="1" stop-color="#ef721a"/></linearGradient>
<linearGradient id="d46" gradientUnits="userSpaceOnUse" x1="134.2" x2="365.5"><stop offset="0" stop-color="#0c0517"/><stop offset="0.028" stop-color="#2e1252"/><stop offset="0.058" stop-color="#451975"/><stop offset="0.101" stop-color="#5c2094"/><stop offset="0.162" stop-color="#84298a"/><stop offset="0.209" stop-color="#ad3676"/><stop offset="0.291" stop-color="#d3484f"/><stop offset="0.334" stop-color="#e15636"/><stop offset="0.356" stop-color="#ee6f1c"/><stop offset="0.373" stop-color="#f48216"/><stop offset="0.412" stop-color="#f68915"/><stop offset="0.614" stop-color="#f68d17"/><stop offset="0.989" stop-color="#f07418"/><stop offset="1" stop-color="#f07319"/></linearGradient>
<linearGradient id="d47" gradientUnits="userSpaceOnUse" x1="134.2" x2="365.5"><stop offset="0" stop-color="#0c0516"/><stop offset="0.028" stop-color="#2c1150"/><stop offset="0.058" stop-color="#431972"/><stop offset="0.11" stop-color="#5d2094"/><stop offset="0.175" stop-color="#8a2b88"/><stop offset="0.218" stop-color="#ad3675"/><stop offset="0.304" stop-color="#d4494d"/><stop offset="0.347" stop-color="#e35832"/><stop offset="0.373" stop-color="#f17618"/><stop offset="0.394" stop-color="#f58516"/><stop offset="0.61" stop-color="#f68d17"/><stop offset="1" stop-color="#f07418"/></linearGradient>
<linearGradient id="d48" gradientUnits="userSpaceOnUse" x1="134.2" x2="365.5"><stop offset="0" stop-color="#0c0515"/><stop offset="0.028" stop-color="#2b114e"/><stop offset="0.058" stop-color="#411870"/><stop offset="0.114" stop-color="#5c2094"/><stop offset="0.183" stop-color="#8c2b87"/><stop offset="0.231" stop-color="#af3773"/><stop offset="0.312" stop-color="#d4494c"/><stop offset="0.356" stop-color="#e25733"/><stop offset="0.377" stop-color="#ed6c1e"/><stop offset="0.394" stop-color="#f37f17"/><stop offset="0.429" stop-color="#f58715"/><stop offset="0.614" stop-color="#f68c16"/><stop offset="1" stop-color="#f07518"/></linearGradient>
<linearGradient id="d49" gradientUnits="userSpaceOnUse" x1="134.2" x2="365.5"><stop offset="0" stop-color="#0b0515"/><stop offset="0.028" stop-color="#2a104c"/><stop offset="0.058" stop-color="#40186d"/><stop offset="0.119" stop-color="#5c2094"/><stop offset="0.192" stop-color="#8d2c86"/><stop offset="0.239" stop-color="#af3773"/><stop offset="0.317" stop-color="#d4494d"/><stop offset="0.373" stop-color="#e65c2d"/><stop offset="0.399" stop-color="#f17817"/><stop offset="0.425" stop-color="#f58516"/><stop offset="0.61" stop-color="#f68c16"/><stop offset="1" stop-color="#f17618"/></linearGradient>
<linearGradient id="d50" gradientUnits="userSpaceOnUse" x1="134.2" x2="365.5"><stop offset="0" stop-color="#0b0414"/><stop offset="0.028" stop-color="#29104a"/><stop offset="0.058" stop-color="#3e176b"/><stop offset="0.127" stop-color="#5e2094"/><stop offset="0.2" stop-color="#8f2c85"/><stop offset="0.248" stop-color="#af3774"/><stop offset="0.325" stop-color="#d54a4c"/><stop offset="0.386" stop-color="#e65d2b"/><stop offset="0.412" stop-color="#f17917"/><stop offset="0.438" stop-color="#f58516"/><stop offset="0.61" stop-color="#f68c16"/><stop offset="1" stop-color="#f17718"/></linearGradient>
<linearGradient id="d51" gradientUnits="userSpaceOnUse" x1="134.2" x2="365.5"><stop offset="0" stop-color="#0b0413"/><stop offset="0.028" stop-color="#281048"/><stop offset="0.058" stop-color="#3c1769"/><stop offset="0.131" stop-color="#5e2094"/><stop offset="0.209" stop-color="#902d85"/><stop offset="0.261" stop-color="#b13872"/><stop offset="0.33" stop-color="#d4494d"/><stop offset="0.399" stop-color="#e75e2b"/><stop offset="0.425" stop-color="#f17917"/><stop offset="0.45" stop-color="#f58516"/><stop offset="0.61" stop-color="#f68b16"/><stop offset="1" stop-color="#f17718"/></linearGradient>
<linearGradient id="d52" gradientUnits="userSpaceOnUse" x1="134.2" x2="365.5"><stop offset="0" stop-color="#0b0413"/><stop offset="0.028" stop-color="#270f46"/><stop offset="0.058" stop-color="#3a1666"/><stop offset="0.136" stop-color="#5e2094"/><stop offset="0.218" stop-color="#902d85"/><stop offset="0.282" stop-color="#b83b6b"/><stop offset="0.334" stop-color="#d3484e"/><stop offset="0.412" stop-color="#e75f2a"/><stop offset="0.438" stop-color="#f27a17"/><stop offset="0.463" stop-color="#f58516"/><stop offset="0.61" stop-color="#f68a15"/><stop offset="1" stop-color="#f17817"/></linearGradient>
<linearGradient id="d53" gradientUnits="userSpaceOnUse" x1="134.2" x2="365.5"><stop offset="0" stop-color="#0a0413"/><stop offset="0.032" stop-color="#29104a"/><stop offset="0.071" stop-color="#3f186d"/><stop offset="0.14" stop-color="#5d2094"/><stop offset="0.226" stop-color="#8f2d85"/><stop offset="0.287" stop-color="#b63a6d"/><stop offset="0.338" stop-color="#d3484f"/><stop offset="0.42" stop-color="#e65d2b"/><stop offset="0.446" stop-color="#f17618"/><stop offset="0.472" stop-color="#f48316"/><stop offset="0.606" stop-color="#f68a15"/><stop offset="1" stop-color="#f17917"/></linearGradient>
<linearGradient id="d54" gradientUnits="userSpaceOnUse" x1="134.2" x2="365.5"><stop offset="0" stop-color="#0a0412"/><stop offset="0.032" stop-color="#281048"/><stop offset="0.075" stop-color="#3f186d"/><stop offset="0.144" stop-color="#5d2094"/><stop offset="0.235" stop-color="#8e2c86"/><stop offset="0.291" stop-color="#b4396f"/><stop offset="0.347" stop-color="#d3484e"/><stop offset="0.407" stop-color="#e15635"/><stop offset="0.438" stop-color="#e86128"/><stop offset="0.459" stop-color="#f17718"/><stop offset="0.485" stop-color="#f48216"/><stop offset="0.601" stop-color="#f68915"/><stop offset="1" stop-color="#f27a17"/></linearGradient>
<linearGradient id="d55" gradientUnits="userSpaceOnUse" x1="134.2" x2="365.5"><stop offset="0" stop-color="#0a0412"/><stop offset="0.028" stop-color="#230e41"/><stop offset="0.063" stop-color="#371562"/><stop offset="0.149" stop-color="#5d2094"/><stop offset="0.244" stop-color="#8d2c86"/><stop offset="0.3" stop-color="#b5396e"/><stop offset="0.351" stop-color="#d3484f"/><stop offset="0.412" stop-color="#e15636"/><stop offset="0.446" stop-color="#e75f2a"/><stop offset="0.472" stop-color="#f17718"/><stop offset="0.502" stop-color="#f48216"/><stop offset="0.601" stop-color="#f68815"/><stop offset="1" stop-color="#f27a17"/></linearGradient>
<linearGradient id="d56" gradientUnits="userSpaceOnUse" x1="134.2" x2="365.5"><stop offset="0" stop-color="#0a0411"/><stop offset="0.028" stop-color="#220e3f"/><stop offset="0.063" stop-color="#36155f"/><stop offset="0.157" stop-color="#5e2094"/><stop offset="0.252" stop-color="#8d2c86"/><stop offset="0.308" stop-color="#b73a6d"/><stop offset="0.356" stop-color="#d24750"/><stop offset="0.416" stop-color="#e05537"/><stop offset="0.459" stop-color="#e86029"/><stop offset="0.485" stop-color="#f17718"/><stop offset="0.524" stop-color="#f48316"/><stop offset="0.601" stop-color="#f58715"/><stop offset="1" stop-color="#f27b17"/></linearGradient>
<linearGradient id="d57" gradientUnits="userSpaceOnUse" x1="134.2" x2="365.5"><stop offset="0" stop-color="#090411"/><stop offset="0.028" stop-color="#210d3d"/><stop offset="0.063" stop-color="#35145d"/><stop offset="0.162" stop-color="#5d2094"/><stop offset="0.256" stop-color="#8a2b87"/><stop offset="0.312" stop-color="#b53a6e"/><stop offset="0.364" stop-color="#d3484f"/><stop offset="0.442" stop-color="#e35832"/><stop offset="0.476" stop-color="#e96425"/><stop offset="0.498" stop-color="#f17718"/><stop offset="0.545" stop-color="#f58516"/><stop offset="0.804" stop-color="#f48116"/><stop offset="1" stop-color="#f27b17"/></linearGradient>
<linearGradient id="d58" gradientUnits="userSpaceOnUse" x1="134.2" x2="365.5"><stop offset="0" stop-color="#090411"/><stop offset="0.028" stop-color="#200d3c"/><stop offset="0.067" stop-color="#35145e"/><stop offset="0.17" stop-color="#5d2094"/><stop offset="0.256" stop-color="#852a8a"/><stop offset="0.317" stop-color="#b4396e"/><stop offset="0.369" stop-color="#d24750"/><stop offset="0.459" stop-color="#e55a2e"/><stop offset="0.494" stop-color="#eb6822"/><stop offset="0.515" stop-color="#f17917"/><stop offset="0.562" stop-color="#f58616"/><stop offset="1" stop-color="#f27b17"/></linearGradient>
<linearGradient id="d59" gradientUnits="userSpaceOnUse" x1="134.2" x2="365.5"><stop offset="0" stop-color="#090410"/><stop offset="0.028" stop-color="#1f0c3a"/><stop offset="0.067" stop-color="#34145b"/><stop offset="0.179" stop-color="#5d2094"/><stop offset="0.261" stop-color="#84298a"/><stop offset="0.321" stop-color="#b4396f"/><stop offset="0.373" stop-color="#d14652"/><stop offset="0.472" stop-color="#e55b2d"/><stop offset="0.506" stop-color="#eb6822"/><stop offset="0.524" stop-color="#f17718"/><stop offset="0.558" stop-color="#f48416"/><stop offset="1" stop-color="#f27b17"/></linearGradient>
<linearGradient id="d60" gradientUnits="userSpaceOnUse" x1="134.2" x2="365.5"><stop offset="0" stop-color="#090310"/><stop offset="0.028" stop-color="#1e0c38"/><stop offset="0.063" stop-color="#311357"/><stop offset="0.188" stop-color="#5d2094"/><stop offset="0.265" stop-color="#83298b"/><stop offset="0.325" stop-color="#b33870"/><stop offset="0.381" stop-color="#d24751"/><stop offset="0.485" stop-color="#e55b2d"/><stop offset="0.519" stop-color="#eb6822"/><stop offset="0.537" stop-color="#f17718"/><stop offset="0.567" stop-color="#f48316"/><stop offset="1" stop-color="#f27b17"/></linearGradient>
<linearGradient id="d61" gradientUnits="userSpaceOnUse" x1="134.2" x2="365.5"><stop offset="0" stop-color="#09030f"/><stop offset="0.028" stop-color="#1d0c37"/><stop offset="0.067" stop-color="#311357"/><stop offset="0.196" stop-color="#5d2094"/><stop offset="0.274" stop-color="#862a89"/><stop offset="0.33" stop-color="#b23871"/><stop offset="0.39" stop-color="#d14652"/><stop offset="0.494" stop-color="#e55a2f"/><stop offset="0.528" stop-color="#e96426"/><stop offset="0.55" stop-color="#f17618"/><stop offset="0.58" stop-color="#f48216"/><stop offset="1" stop-color="#f27b17"/></linearGradient>
<linearGradient id="d62" gradientUnits="userSpaceOnUse" x1="134.2" x2="365.5"><stop offset="0" stop-color="#08030f"/><stop offset="0.028" stop-color="#1d0c36"/><stop offset="0.067" stop-color="#301255"/><stop offset="0.205" stop-color="#5e2094"/><stop offset="0.278" stop-color="#852a8a"/><stop offset="0.334" stop-color="#b13772"/><stop offset="0.399" stop-color="#d14653"/><stop offset="0.502" stop-color="#e35832"/><stop offset="0.541" stop-color="#e96326"/><stop offset="0.567" stop-color="#f17917"/><stop offset="0.601" stop-color="#f38116"/><stop offset="1" stop-color="#f27b17"/></linearGradient>
<linearGradient id="d63" gradientUnits="userSpaceOnUse" x1="134.2" x2="365.5"><stop offset="0" stop-color="#08030f"/><stop offset="0.028" stop-color="#1c0b34"/><stop offset="0.067" stop-color="#2e1253"/><stop offset="0.192" stop-color="#561e8c"/><stop offset="0.213" stop-color="#5f2193"/><stop offset="0.287" stop-color="#882a88"/><stop offset="0.338" stop-color="#af3774"/><stop offset="0.412" stop-color="#d04553"/><stop offset="0.55" stop-color="#e75f29"/><stop offset="0.58" stop-color="#f17718"/><stop offset="0.614" stop-color="#f37f16"/><stop offset="1" stop-color="#f27b17"/></linearGradient>
<linearGradient id="d64" gradientUnits="userSpaceOnUse" x1="134.2" x2="365.5"><stop offset="0" stop-color="#08030e"/><stop offset="0.028" stop-color="#1b0b33"/><stop offset="0.067" stop-color="#2d1151"/><stop offset="0.17" stop-color="#4b1b7d"/><stop offset="0.218" stop-color="#5e2193"/><stop offset="0.295" stop-color="#8b2b87"/><stop offset="0.347" stop-color="#af3773"/><stop offset="0.429" stop-color="#d14653"/><stop offset="0.562" stop-color="#e75f2a"/><stop offset="0.593" stop-color="#f17618"/><stop offset="0.631" stop-color="#f37e17"/><stop offset="1" stop-color="#f27b17"/></linearGradient>
<linearGradient id="d65" gradientUnits="userSpaceOnUse" x1="134.2" x2="365.5"><stop offset="0" stop-color="#08030e"/><stop offset="0.028" stop-color="#1b0b32"/><stop offset="0.067" stop-color="#2c114f"/><stop offset="0.166" stop-color="#461a77"/><stop offset="0.222" stop-color="#5e2094"/><stop offset="0.304" stop-color="#8d2c86"/><stop offset="0.356" stop-color="#af3773"/><stop offset="0.45" stop-color="#d14652"/><stop offset="0.575" stop-color="#e75e2a"/><stop offset="0.61" stop-color="#f17818"/><stop offset="0.675" stop-color="#f37d17"/><stop offset="1" stop-color="#f27b17"/></linearGradient>
<linearGradient id="d66" gradientUnits="userSpaceOnUse" x1="134.2" x2="365.5"><stop offset="0" stop-color="#07030d"/><stop offset="0.032" stop-color="#1c0b35"/><stop offset="0.071" stop-color="#2c114f"/><stop offset="0.157" stop-color="#40186e"/><stop offset="0.226" stop-color="#5d2094"/><stop offset="0.312" stop-color="#8e2c86"/><stop offset="0.364" stop-color="#ae3774"/><stop offset="0.472" stop-color="#d24751"/><stop offset="0.588" stop-color="#e75f2a"/><stop offset="0.623" stop-color="#f17718"/><stop offset="0.696" stop-color="#f27d17"/><stop offset="1" stop-color="#f27b17"/></linearGradient>
<linearGradient id="d67" gradientUnits="userSpaceOnUse" x1="134.2" x2="365.5"><stop offset="0" stop-color="#07030d"/><stop offset="0.032" stop-color="#1c0b34"/><stop offset="0.071" stop-color="#2a104c"/><stop offset="0.153" stop-color="#3c1769"/><stop offset="0.231" stop-color="#5d2094"/><stop offset="0.321" stop-color="#8f2c85"/><stop offset="0.377" stop-color="#af3774"/><stop offset="0.494" stop-color="#d3484f"/><stop offset="0.601" stop-color="#e76029"/><stop offset="0.636" stop-color="#f17618"/><stop offset="0.726" stop-color="#f27d17"/><stop offset="1" stop-color="#f27b17"/></linearGradient>
<linearGradient id="d68" gradientUnits="userSpaceOnUse" x1="134.2" x2="365.5"><stop offset="0" stop-color="#07030d"/><stop offset="0.032" stop-color="#1b0b32"/><stop offset="0.071" stop-color="#29104a"/><stop offset="0.153" stop-color="#391665"/><stop offset="0.235" stop-color="#5c2094"/><stop offset="0.33" stop-color="#8f2c85"/><stop offset="0.39" stop-color="#af3774"/><stop offset="0.515" stop-color="#d54a4c"/><stop offset="0.614" stop-color="#e86128"/><stop offset="0.649" stop-color="#f17618"/><stop offset="0.739" stop-color="#f27c17"/><stop offset="1" stop-color="#f27b17"/></linearGradient>
<linearGradient id="d69" gradientUnits="userSpaceOnUse" x1="134.2" x2="365.5"><stop offset="0" stop-color="#07030c"/><stop offset="0.032" stop-color="#1b0b31"/><stop offset="0.071" stop-color="#281048"/><stop offset="0.149" stop-color="#36155f"/><stop offset="0.244" stop-color="#5e2094"/><stop offset="0.343" stop-color="#912d85"/><stop offset="0.407" stop-color="#b03773"/><stop offset="0.528" stop-color="#d54a4b"/><stop offset="0.627" stop-color="#e86227"/><stop offset="0.666" stop-color="#f17718"/><stop offset="0.791" stop-color="#f27b17"/><stop offset="1" stop-color="#f27b17"/></linearGradient>
<linearGradient id="d70" gradientUnits="userSpaceOnUse" x1="134.2" x2="365.5"><stop offset="0" stop-color="#07030c"/><stop offset="0.032" stop-color="#1a0a30"/><stop offset="0.071" stop-color="#270f46"/><stop offset="0.149" stop-color="#34145c"/><stop offset="0.248" stop-color="#5e2094"/><stop offset="0.356" stop-color="#912d84"/><stop offset="0.425" stop-color="#b03772"/><stop offset="0.537" stop-color="#d54a4c"/><stop offset="0.64" stop-color="#e96327"/><stop offset="0.683" stop-color="#f17718"/><stop offset="0.873" stop-color="#f27a17"/><stop offset="1" stop-color="#f27b17"/></linearGradient>
<linearGradient id="d71" gradientUnits="userSpaceOnUse" x1="134.2" x2="365.5"><stop offset="0" stop-color="#06030c"/><stop offset="0.032" stop-color="#1a0a30"/><stop offset="0.071" stop-color="#260f44"/><stop offset="0.149" stop-color="#321358"/><stop offset="0.252" stop-color="#5d2094"/><stop offset="0.369" stop-color="#902d85"/><stop offset="0.455" stop-color="#b63a6d"/><stop offset="0.545" stop-color="#d4494d"/><stop offset="0.636" stop-color="#e75e2b"/><stop offset="0.675" stop-color="#ed6c1f"/><stop offset="0.7" stop-color="#f17817"/><stop offset="1" stop-color="#f27a17"/></linearGradient>
<linearGradient id="d72" gradientUnits="userSpaceOnUse" x1="134.2" x2="365.5"><stop offset="0" stop-color="#06030b"/><stop offset="0.032" stop-color="#190a2f"/><stop offset="0.071" stop-color="#240e42"/><stop offset="0.144" stop-color="#2e1253"/><stop offset="0.235" stop-color="#531d88"/><stop offset="0.261" stop-color="#5e2094"/><stop offset="0.381" stop-color="#8f2c85"/><stop offset="0.476" stop-color="#ba3b69"/><stop offset="0.558" stop-color="#d4494c"/><stop offset="0.644" stop-color="#e65d2c"/><stop offset="0.683" stop-color="#eb6922"/><stop offset="0.713" stop-color="#f17718"/><stop offset="1" stop-color="#f27a17"/></linearGradient>
<linearGradient id="d73" gradientUnits="userSpaceOnUse" x1="134.2" x2="365.5"><stop offset="0" stop-color="#06020b"/><stop offset="0.032" stop-color="#190a2e"/><stop offset="0.071" stop-color="#230e41"/><stop offset="0.144" stop-color="#2c1150"/><stop offset="0.235" stop-color="#511d86"/><stop offset="0.265" stop-color="#5d2094"/><stop offset="0.394" stop-color="#8d2c86"/><stop offset="0.476" stop-color="#b63a6d"/><stop offset="0.567" stop-color="#d4494d"/><stop offset="0.649" stop-color="#e55b2d"/><stop offset="0.696" stop-color="#eb6822"/><stop offset="0.726" stop-color="#f17618"/><stop offset="1" stop-color="#f27a17"/></linearGradient>
<linearGradient id="d74" gradientUnits="userSpaceOnUse" x1="134.2" x2="365.5"><stop offset="0" stop-color="#06020b"/><stop offset="0.032" stop-color="#180a2d"/><stop offset="0.071" stop-color="#220d3f"/><stop offset="0.144" stop-color="#2b104d"/><stop offset="0.269" stop-color="#5c2094"/><stop offset="0.407" stop-color="#8c2c87"/><stop offset="0.476" stop-color="#b13871"/><stop offset="0.58" stop-color="#d4494d"/><stop offset="0.657" stop-color="#e55a2f"/><stop offset="0.709" stop-color="#eb6723"/><stop offset="0.744" stop-color="#f17718"/><stop offset="1" stop-color="#f17917"/></linearGradient>
<linearGradient id="d75" gradientUnits="userSpaceOnUse" x1="134.2" x2="365.5"><stop offset="0" stop-color="#06020b"/><stop offset="0.032" stop-color="#18092c"/><stop offset="0.071" stop-color="#210d3d"/><stop offset="0.144" stop-color="#29104a"/><stop offset="0.265" stop-color="#581f8e"/><stop offset="0.291" stop-color="#5f2193"/><stop offset="0.407" stop-color="#85298a"/><stop offset="0.485" stop-color="#b13872"/><stop offset="0.606" stop-color="#d84d46"/><stop offset="0.679" stop-color="#e55b2d"/><stop offset="0.731" stop-color="#ec6b20"/><stop offset="0.765" stop-color="#f17718"/><stop offset="1" stop-color="#f17817"/></linearGradient>
<linearGradient id="d76" gradientUnits="userSpaceOnUse" x1="134.2" x2="365.5"><stop offset="0" stop-color="#06020a"/><stop offset="0.032" stop-color="#17092b"/><stop offset="0.071" stop-color="#200d3b"/><stop offset="0.144" stop-color="#270f47"/><stop offset="0.261" stop-color="#541e89"/><stop offset="0.3" stop-color="#5e2193"/><stop offset="0.412" stop-color="#80288c"/><stop offset="0.494" stop-color="#b03773"/><stop offset="0.61" stop-color="#d64b49"/><stop offset="0.692" stop-color="#e65c2c"/><stop offset="0.752" stop-color="#ee6e1d"/><stop offset="0.795" stop-color="#f17818"/><stop offset="1" stop-color="#f17817"/></linearGradient>
<linearGradient id="d77" gradientUnits="userSpaceOnUse" x1="134.2" x2="365.5"><stop offset="0" stop-color="#06020a"/><stop offset="0.032" stop-color="#17092a"/><stop offset="0.071" stop-color="#1f0c39"/><stop offset="0.144" stop-color="#250f44"/><stop offset="0.261" stop-color="#511d85"/><stop offset="0.312" stop-color="#5e2094"/><stop offset="0.416" stop-color="#7d278d"/><stop offset="0.498" stop-color="#ad3676"/><stop offset="0.61" stop-color="#d4494e"/><stop offset="0.7" stop-color="#e65c2c"/><stop offset="0.769" stop-color="#ee6f1d"/><stop offset="0.817" stop-color="#f17718"/><stop offset="1" stop-color="#f17818"/></linearGradient>
<linearGradient id="d78" gradientUnits="userSpaceOnUse" x1="134.2" x2="365.5"><stop offset="0" stop-color="#05020a"/><stop offset="0.032" stop-color="#160929"/><stop offset="0.067" stop-color="#1d0c37"/><stop offset="0.144" stop-color="#240e42"/><stop offset="0.261" stop-color="#4f1c82"/><stop offset="0.325" stop-color="#5e2094"/><stop offset="0.42" stop-color="#7a278d"/><stop offset="0.511" stop-color="#ad3676"/><stop offset="0.614" stop-color="#d24750"/><stop offset="0.713" stop-color="#e65d2b"/><stop offset="0.782" stop-color="#ed6d1e"/><stop offset="0.825" stop-color="#f17718"/><stop offset="1" stop-color="#f17718"/></linearGradient>
<linearGradient id="d79" gradientUnits="userSpaceOnUse" x1="134.2" x2="365.5"><stop offset="0" stop-color="#05020a"/><stop offset="0.032" stop-color="#150928"/><stop offset="0.071" stop-color="#1d0c36"/><stop offset="0.144" stop-color="#230e3f"/><stop offset="0.261" stop-color="#4c1b7e"/><stop offset="0.343" stop-color="#5e2094"/><stop offset="0.429" stop-color="#7a278d"/><stop offset="0.524" stop-color="#ac3676"/><stop offset="0.627" stop-color="#d3484e"/><stop offset="0.722" stop-color="#e65d2c"/><stop offset="0.795" stop-color="#ec6a20"/><stop offset="0.838" stop-color="#f07618"/><stop offset="1" stop-color="#f17718"/></linearGradient>
<linearGradient id="d80" gradientUnits="userSpaceOnUse" x1="134.2" x2="365.5"><stop offset="0" stop-color="#050209"/><stop offset="0.032" stop-color="#150826"/><stop offset="0.071" stop-color="#1c0b34"/><stop offset="0.144" stop-color="#210d3d"/><stop offset="0.261" stop-color="#491a7b"/><stop offset="0.356" stop-color="#5e2094"/><stop offset="0.442" stop-color="#7b278d"/><stop offset="0.545" stop-color="#ae3774"/><stop offset="0.644" stop-color="#d54a4b"/><stop offset="0.735" stop-color="#e65c2c"/><stop offset="0.808" stop-color="#eb6822"/><stop offset="0.856" stop-color="#f07518"/><stop offset="1" stop-color="#f17618"/></linearGradient>
<linearGradient id="d81" gradientUnits="userSpaceOnUse" x1="134.2" x2="365.5"><stop offset="0" stop-color="#050209"/><stop offset="0.037" stop-color="#150928"/><stop offset="0.075" stop-color="#1b0b33"/><stop offset="0.144" stop-color="#200d3b"/><stop offset="0.261" stop-color="#471a77"/><stop offset="0.369" stop-color="#5e2094"/><stop offset="0.463" stop-color="#80288c"/><stop offset="0.571" stop-color="#b33970"/><stop offset="0.649" stop-color="#d3484e"/><stop offset="0.744" stop-color="#e55a2e"/><stop offset="0.821" stop-color="#ea6524"/><stop offset="0.873" stop-color="#f07518"/><stop offset="1" stop-color="#f07618"/></linearGradient>
<linearGradient id="d82" gradientUnits="userSpaceOnUse" x1="134.2" x2="365.5"><stop offset="0" stop-color="#050209"/><stop offset="0.037" stop-color="#150827"/><stop offset="0.075" stop-color="#1b0b32"/><stop offset="0.149" stop-color="#200d3b"/><stop offset="0.261" stop-color="#441973"/><stop offset="0.381" stop-color="#5e2094"/><stop offset="0.489" stop-color="#852a8a"/><stop offset="0.584" stop-color="#b4396f"/><stop offset="0.657" stop-color="#d24750"/><stop offset="0.752" stop-color="#e35832"/><stop offset="0.834" stop-color="#e96326"/><stop offset="0.89" stop-color="#f07418"/><stop offset="1" stop-color="#f07518"/></linearGradient>
<linearGradient id="d83" gradientUnits="userSpaceOnUse" x1="134.2" x2="365.5"><stop offset="0" stop-color="#050209"/><stop offset="0.037" stop-color="#140825"/><stop offset="0.08" stop-color="#1a0a30"/><stop offset="0.149" stop-color="#1e0c39"/><stop offset="0.261" stop-color="#411870"/><stop offset="0.394" stop-color="#5e2094"/><stop offset="0.515" stop-color="#8a2b88"/><stop offset="0.601" stop-color="#b73a6d"/><stop offset="0.67" stop-color="#d24750"/><stop offset="0.765" stop-color="#e15635"/><stop offset="0.851" stop-color="#e96327"/><stop offset="0.907" stop-color="#f07319"/><stop offset="1" stop-color="#f07518"/></linearGradient>
<linearGradient id="d84" gradientUnits="userSpaceOnUse" x1="134.2" x2="365.5"><stop offset="0" stop-color="#050209"/><stop offset="0.037" stop-color="#140824"/><stop offset="0.08" stop-color="#190a2f"/><stop offset="0.153" stop-color="#1e0c38"/><stop offset="0.261" stop-color="#3f176c"/><stop offset="0.407" stop-color="#5e2193"/><stop offset="0.519" stop-color="#84298a"/><stop offset="0.606" stop-color="#b4396f"/><stop offset="0.683" stop-color="#d24751"/><stop offset="0.787" stop-color="#e05536"/><stop offset="0.869" stop-color="#e96326"/><stop offset="0.929" stop-color="#f07319"/><stop offset="1" stop-color="#f07418"/></linearGradient>
<linearGradient id="d85" gradientUnits="userSpaceOnUse" x1="134.2" x2="365.5"><stop offset="0" stop-color="#050208"/><stop offset="0.041" stop-color="#140825"/><stop offset="0.088" stop-color="#190a2e"/><stop offset="0.157" stop-color="#1e0c38"/><stop offset="0.261" stop-color="#3c1769"/><stop offset="0.42" stop-color="#5e2094"/><stop offset="0.524" stop-color="#7f288c"/><stop offset="0.614" stop-color="#b23871"/><stop offset="0.7" stop-color="#d24751"/><stop offset="0.864" stop-color="#e75e2b"/><stop offset="0.95" stop-color="#ef7319"/><stop offset="1" stop-color="#f07418"/></linearGradient>
<linearGradient id="d86" gradientUnits="userSpaceOnUse" x1="134.2" x2="365.5"><stop offset="0" stop-color="#050208"/><stop offset="0.041" stop-color="#140824"/><stop offset="0.093" stop-color="#180a2d"/><stop offset="0.157" stop-color="#1d0c36"/><stop offset="0.265" stop-color="#3b1667"/><stop offset="0.438" stop-color="#5e2094"/><stop offset="0.528" stop-color="#7a278d"/><stop offset="0.623" stop-color="#b13872"/><stop offset="0.718" stop-color="#d24751"/><stop offset="0.899" stop-color="#e96326"/><stop offset="0.985" stop-color="#f07319"/><stop offset="1" stop-color="#f07418"/></linearGradient>
<linearGradient id="d87" gradientUnits="userSpaceOnUse" x1="134.2" x2="365.5"><stop offset="0" stop-color="#040208"/><stop offset="0.041" stop-color="#130823"/><stop offset="0.093" stop-color="#17092c"/><stop offset="0.157" stop-color="#1c0b34"/><stop offset="0.265" stop-color="#381563"/><stop offset="0.459" stop-color="#5e2094"/><stop offset="0.537" stop-color="#78268e"/><stop offset="0.631" stop-color="#af3774"/><stop offset="0.739" stop-color="#d24750"/><stop offset="0.907" stop-color="#e86227"/><stop offset="1" stop-color="#ef7219"/></linearGradient>
<linearGradient id="d88" gradientUnits="userSpaceOnUse" x1="134.2" x2="365.5"><stop offset="0" stop-color="#040208"/><stop offset="0.041" stop-color="#130722"/><stop offset="0.093" stop-color="#17092a"/><stop offset="0.157" stop-color="#1b0b32"/><stop offset="0.269" stop-color="#371561"/><stop offset="0.481" stop-color="#5e2094"/><stop offset="0.562" stop-color="#7e278d"/><stop offset="0.649" stop-color="#af3773"/><stop offset="0.756" stop-color="#d24750"/><stop offset="0.907" stop-color="#e75f2a"/><stop offset="1" stop-color="#ee6f1c"/></linearGradient>
<linearGradient id="d89" gradientUnits="userSpaceOnUse" x1="134.2" x2="365.5"><stop offset="0" stop-color="#040207"/><stop offset="0.041" stop-color="#120721"/><stop offset="0.093" stop-color="#160929"/><stop offset="0.157" stop-color="#1a0a31"/><stop offset="0.269" stop-color="#35145e"/><stop offset="0.502" stop-color="#5e2094"/><stop offset="0.597" stop-color="#882a89"/><stop offset="0.662" stop-color="#ad3675"/><stop offset="0.769" stop-color="#d14652"/><stop offset="0.916" stop-color="#e65d2b"/><stop offset="1" stop-color="#ec6a21"/></linearGradient>
<linearGradient id="d90" gradientUnits="userSpaceOnUse" x1="134.2" x2="365.5"><stop offset="0" stop-color="#040207"/><stop offset="0.041" stop-color="#120721"/><stop offset="0.093" stop-color="#150928"/><stop offset="0.157" stop-color="#190a2f"/><stop offset="0.269" stop-color="#33135a"/><stop offset="0.511" stop-color="#5b2093"/><stop offset="0.606" stop-color="#83298b"/><stop offset="0.683" stop-color="#ae3774"/><stop offset="0.782" stop-color="#d04554"/><stop offset="0.933" stop-color="#e65c2c"/><stop offset="1" stop-color="#ea6624"/></linearGradient>
<linearGradient id="d91" gradientUnits="userSpaceOnUse" x1="134.2" x2="365.5"><stop offset="0" stop-color="#040207"/><stop offset="0.045" stop-color="#120722"/><stop offset="0.157" stop-color="#180a2d"/><stop offset="0.269" stop-color="#311357"/><stop offset="0.515" stop-color="#571e8d"/><stop offset="0.541" stop-color="#5f2193"/><stop offset="0.627" stop-color="#852a8a"/><stop offset="0.705" stop-color="#b13872"/><stop offset="0.804" stop-color="#d04554"/><stop offset="0.959" stop-color="#e65d2b"/><stop offset="1" stop-color="#e96326"/></linearGradient>
<linearGradient id="d92" gradientUnits="userSpaceOnUse" x1="134.2" x2="365.5"><stop offset="0" stop-color="#040106"/><stop offset="0.045" stop-color="#120721"/><stop offset="0.157" stop-color="#17092b"/><stop offset="0.269" stop-color="#2f1253"/><stop offset="0.519" stop-color="#531d87"/><stop offset="0.558" stop-color="#5e2094"/><stop offset="0.649" stop-color="#872a89"/><stop offset="0.718" stop-color="#b03773"/><stop offset="0.825" stop-color="#d14653"/><stop offset="0.985" stop-color="#e75f2a"/><stop offset="1" stop-color="#e86128"/></linearGradient>
<linearGradient id="d93" gradientUnits="userSpaceOnUse" x1="134.2" x2="365.5"><stop offset="0" stop-color="#030106"/><stop offset="0.045" stop-color="#110720"/><stop offset="0.162" stop-color="#17092b"/><stop offset="0.269" stop-color="#2d1150"/><stop offset="0.524" stop-color="#4e1c82"/><stop offset="0.58" stop-color="#5e2094"/><stop offset="0.67" stop-color="#892b88"/><stop offset="0.726" stop-color="#ad3675"/><stop offset="0.851" stop-color="#d14652"/><stop offset="1" stop-color="#e75f2a"/></linearGradient>
<linearGradient id="d94" gradientUnits="userSpaceOnUse" x1="134.2" x2="365.5"><stop offset="0" stop-color="#030106"/><stop offset="0.045" stop-color="#11071f"/><stop offset="0.162" stop-color="#160929"/><stop offset="0.274" stop-color="#2b114d"/><stop offset="0.528" stop-color="#4a1b7c"/><stop offset="0.601" stop-color="#5f2193"/><stop offset="0.683" stop-color="#892b88"/><stop offset="0.739" stop-color="#ac3676"/><stop offset="0.877" stop-color="#d24751"/><stop offset="1" stop-color="#e65d2b"/></linearGradient>
<linearGradient id="d95" gradientUnits="userSpaceOnUse" x1="134.2" x2="365.5"><stop offset="0" stop-color="#030106"/><stop offset="0.045" stop-color="#11071e"/><stop offset="0.162" stop-color="#150827"/><stop offset="0.274" stop-color="#29104a"/><stop offset="0.532" stop-color="#471a77"/><stop offset="0.614" stop-color="#5e2094"/><stop offset="0.692" stop-color="#862a89"/><stop offset="0.752" stop-color="#ab3577"/><stop offset="0.899" stop-color="#d24751"/><stop offset="1" stop-color="#e65b2d"/></linearGradient>
<linearGradient id="d96" gradientUnits="userSpaceOnUse" x1="134.2" x2="365.5"><stop offset="0" stop-color="#030106"/><stop offset="0.045" stop-color="#10061e"/><stop offset="0.162" stop-color="#140826"/><stop offset="0.278" stop-color="#270f47"/><stop offset="0.537" stop-color="#431973"/><stop offset="0.627" stop-color="#5e2094"/><stop offset="0.705" stop-color="#872a89"/><stop offset="0.769" stop-color="#ab3577"/><stop offset="0.942" stop-color="#d74c48"/><stop offset="1" stop-color="#e4592f"/></linearGradient>
<linearGradient id="d97" gradientUnits="userSpaceOnUse" x1="134.2" x2="365.5"><stop offset="0" stop-color="#030106"/><stop offset="0.045" stop-color="#10061d"/><stop offset="0.162" stop-color="#130824"/><stop offset="0.287" stop-color="#260f45"/><stop offset="0.537" stop-color="#40186e"/><stop offset="0.627" stop-color="#591f90"/><stop offset="0.644" stop-color="#5f2193"/><stop offset="0.731" stop-color="#8f2c85"/><stop offset="0.795" stop-color="#ad3676"/><stop offset="0.942" stop-color="#d4494d"/><stop offset="1" stop-color="#e25733"/></linearGradient>
<linearGradient id="d98" gradientUnits="userSpaceOnUse" x1="134.2" x2="365.5"><stop offset="0" stop-color="#030106"/><stop offset="0.041" stop-color="#0e061b"/><stop offset="0.123" stop-color="#10061e"/><stop offset="0.192" stop-color="#17092b"/><stop offset="0.308" stop-color="#260f45"/><stop offset="0.537" stop-color="#3c1769"/><stop offset="0.636" stop-color="#571f8e"/><stop offset="0.657" stop-color="#602193"/><stop offset="0.756" stop-color="#932e84"/><stop offset="0.83" stop-color="#b03773"/><stop offset="0.95" stop-color="#d3484e"/><stop offset="1" stop-color="#df5438"/></linearGradient>
<linearGradient id="d99" gradientUnits="userSpaceOnUse" x1="134.2" x2="365.5"><stop offset="0" stop-color="#030106"/><stop offset="0.041" stop-color="#0e061a"/><stop offset="0.166" stop-color="#120722"/><stop offset="0.3" stop-color="#230e40"/><stop offset="0.537" stop-color="#391664"/><stop offset="0.649" stop-color="#581f8e"/><stop offset="0.67" stop-color="#602193"/><stop offset="0.787" stop-color="#962f82"/><stop offset="0.86" stop-color="#b23871"/><stop offset="0.968" stop-color="#d4494c"/><stop offset="1" stop-color="#dc513e"/></linearGradient>
<linearGradient id="d100" gradientUnits="userSpaceOnUse" x1="134.2" x2="365.5"><stop offset="0" stop-color="#030105"/><stop offset="0.041" stop-color="#0e0519"/><stop offset="0.166" stop-color="#110720"/><stop offset="0.304" stop-color="#210d3e"/><stop offset="0.532" stop-color="#36145f"/><stop offset="0.657" stop-color="#561e8c"/><stop offset="0.679" stop-color="#5e2094"/><stop offset="0.8" stop-color="#912d84"/><stop offset="0.886" stop-color="#b33970"/><stop offset="0.994" stop-color="#d84d46"/><stop offset="1" stop-color="#d94e44"/></linearGradient>
<linearGradient id="d101" gradientUnits="userSpaceOnUse" x1="134.2" x2="365.5"><stop offset="0" stop-color="#030105"/><stop offset="0.041" stop-color="#0d0518"/><stop offset="0.166" stop-color="#11071e"/><stop offset="0.312" stop-color="#200d3c"/><stop offset="0.532" stop-color="#33145b"/><stop offset="0.679" stop-color="#591f90"/><stop offset="0.705" stop-color="#622193"/><stop offset="0.821" stop-color="#902d85"/><stop offset="0.916" stop-color="#b83b6b"/><stop offset="1" stop-color="#d54a4b"/></linearGradient>
<linearGradient id="d102" gradientUnits="userSpaceOnUse" x1="134.2" x2="365.5"><stop offset="0" stop-color="#030105"/><stop offset="0.041" stop-color="#0d0517"/><stop offset="0.166" stop-color="#10061d"/><stop offset="0.33" stop-color="#200d3b"/><stop offset="0.528" stop-color="#301356"/><stop offset="0.696" stop-color="#591f90"/><stop offset="0.726" stop-color="#632292"/><stop offset="0.838" stop-color="#8e2c86"/><stop offset="0.925" stop-color="#b63a6d"/><stop offset="1" stop-color="#d24751"/></linearGradient>
<linearGradient id="d103" gradientUnits="userSpaceOnUse" x1="134.2" x2="365.5"><stop offset="0" stop-color="#030105"/><stop offset="0.041" stop-color="#0c0517"/><stop offset="0.17" stop-color="#0f061c"/><stop offset="0.36" stop-color="#210d3d"/><stop offset="0.528" stop-color="#2e1252"/><stop offset="0.731" stop-color="#5d2094"/><stop offset="0.851" stop-color="#8b2b87"/><stop offset="0.929" stop-color="#b23871"/><stop offset="1" stop-color="#cd4358"/></linearGradient>
<linearGradient id="d104" gradientUnits="userSpaceOnUse" x1="134.2" x2="365.5"><stop offset="0" stop-color="#030105"/><stop offset="0.041" stop-color="#0c0516"/><stop offset="0.17" stop-color="#0f061b"/><stop offset="0.394" stop-color="#220d3e"/><stop offset="0.528" stop-color="#2c114f"/><stop offset="0.752" stop-color="#5d2094"/><stop offset="0.864" stop-color="#892b88"/><stop offset="0.942" stop-color="#b13872"/><stop offset="1" stop-color="#c7415d"/></linearGradient>
<linearGradient id="d105" gradientUnits="userSpaceOnUse" x1="134.2" x2="365.5"><stop offset="0" stop-color="#030105"/><stop offset="0.037" stop-color="#0b0515"/><stop offset="0.175" stop-color="#0e061b"/><stop offset="0.42" stop-color="#220d3e"/><stop offset="0.528" stop-color="#2a104b"/><stop offset="0.774" stop-color="#5f2193"/><stop offset="0.881" stop-color="#8b2b87"/><stop offset="0.959" stop-color="#b23870"/><stop offset="1" stop-color="#c23f62"/></linearGradient>
<linearGradient id="d106" gradientUnits="userSpaceOnUse" x1="134.2" x2="365.5"><stop offset="0" stop-color="#030105"/><stop offset="0.037" stop-color="#0b0414"/><stop offset="0.175" stop-color="#0e0619"/><stop offset="0.433" stop-color="#200d3c"/><stop offset="0.532" stop-color="#281049"/><stop offset="0.782" stop-color="#5c2094"/><stop offset="0.89" stop-color="#882a89"/><stop offset="0.972" stop-color="#b23871"/><stop offset="1" stop-color="#bc3c67"/></linearGradient>
<linearGradient id="d107" gradientUnits="userSpaceOnUse" x1="134.2" x2="365.5"><stop offset="0" stop-color="#030105"/><stop offset="0.037" stop-color="#0b0413"/><stop offset="0.179" stop-color="#0e0519"/><stop offset="0.433" stop-color="#1f0c39"/><stop offset="0.532" stop-color="#260f46"/><stop offset="0.782" stop-color="#571f8e"/><stop offset="0.808" stop-color="#5f2193"/><stop offset="0.912" stop-color="#8b2b87"/><stop offset="0.989" stop-color="#b4396f"/><stop offset="1" stop-color="#b73a6c"/></linearGradient>
<linearGradient id="d108" gradientUnits="userSpaceOnUse" x1="134.2" x2="365.5"><stop offset="0" stop-color="#030105"/><stop offset="0.041" stop-color="#0b0414"/><stop offset="0.179" stop-color="#0d0518"/><stop offset="0.438" stop-color="#1d0c37"/><stop offset="0.532" stop-color="#250e43"/><stop offset="0.782" stop-color="#531d88"/><stop offset="0.821" stop-color="#5f2193"/><stop offset="0.929" stop-color="#8d2c86"/><stop offset="0.994" stop-color="#b03772"/><stop offset="1" stop-color="#b23871"/></linearGradient>
<linearGradient id="d109" gradientUnits="userSpaceOnUse" x1="134.2" x2="365.5"><stop offset="0" stop-color="#030105"/><stop offset="0.041" stop-color="#0b0413"/><stop offset="0.179" stop-color="#0d0517"/><stop offset="0.442" stop-color="#1c0b35"/><stop offset="0.532" stop-color="#230e40"/><stop offset="0.787" stop-color="#501c84"/><stop offset="0.834" stop-color="#5e2094"/><stop offset="0.938" stop-color="#892b88"/><stop offset="1" stop-color="#ac3676"/></linearGradient>
<linearGradient id="d110" gradientUnits="userSpaceOnUse" x1="134.2" x2="365.5"><stop offset="0" stop-color="#030105"/><stop offset="0.041" stop-color="#0a0412"/><stop offset="0.183" stop-color="#0c0516"/><stop offset="0.446" stop-color="#1b0b33"/><stop offset="0.532" stop-color="#210d3d"/><stop offset="0.787" stop-color="#4c1b7e"/><stop offset="0.851" stop-color="#5e2193"/><stop offset="0.946" stop-color="#862a89"/><stop offset="1" stop-color="#a7347b"/></linearGradient>
<linearGradient id="d111" gradientUnits="userSpaceOnUse" x1="134.2" x2="365.5"><stop offset="0" stop-color="#030105"/><stop offset="0.041" stop-color="#0a0412"/><stop offset="0.188" stop-color="#0c0516"/><stop offset="0.455" stop-color="#1a0b31"/><stop offset="0.541" stop-color="#210d3c"/><stop offset="0.791" stop-color="#4a1b7b"/><stop offset="0.864" stop-color="#5d2094"/><stop offset="0.95" stop-color="#80288c"/><stop offset="1" stop-color="#9f317e"/></linearGradient>
<linearGradient id="d112" gradientUnits="userSpaceOnUse" x1="134.2" x2="365.5"><stop offset="0" stop-color="#030105"/><stop offset="0.041" stop-color="#0a0412"/><stop offset="0.192" stop-color="#0c0516"/><stop offset="0.459" stop-color="#1a0a30"/><stop offset="0.55" stop-color="#200d3c"/><stop offset="0.795" stop-color="#481a78"/><stop offset="0.886" stop-color="#5e2193"/><stop offset="0.959" stop-color="#7d278d"/><stop offset="1" stop-color="#972f82"/></linearGradient>
<linearGradient id="d113" gradientUnits="userSpaceOnUse" x1="134.2" x2="365.5"><stop offset="0" stop-color="#030105"/><stop offset="0.041" stop-color="#090411"/><stop offset="0.196" stop-color="#0c0515"/><stop offset="0.468" stop-color="#190a2e"/><stop offset="0.558" stop-color="#200d3b"/><stop offset="0.804" stop-color="#471a77"/><stop offset="0.907" stop-color="#5e2193"/><stop offset="0.972" stop-color="#7e278d"/><stop offset="1" stop-color="#8f2d85"/></linearGradient>
<linearGradient id="d114" gradientUnits="userSpaceOnUse" x1="134.2" x2="365.5"><stop offset="0" stop-color="#030105"/><stop offset="0.041" stop-color="#090411"/><stop offset="0.2" stop-color="#0c0515"/><stop offset="0.485" stop-color="#190a2e"/><stop offset="0.601" stop-color="#250f44"/><stop offset="0.83" stop-color="#4a1b7c"/><stop offset="0.925" stop-color="#5e2193"/><stop offset="0.989" stop-color="#83298b"/><stop offset="1" stop-color="#892b88"/></linearGradient>
<linearGradient id="dline" gradientUnits="userSpaceOnUse" x1="134.2" x2="365.5"><stop offset="0" stop-color="#fff" stop-opacity="1"/><stop offset="0.45" stop-color="#fffaf0" stop-opacity="0.95"/><stop offset="0.6" stop-color="#ffe8d0" stop-opacity="0.55"/><stop offset="0.75" stop-color="#ffd0b0" stop-opacity="0.15"/><stop offset="1" stop-color="#ffb080" stop-opacity="0"/></linearGradient>
<linearGradient id="cbar" x1="0" y1="0" x2="0" y2="1"><stop offset="0.000" stop-color="#ffffff"/><stop offset="0.025" stop-color="#fff9ea"/><stop offset="0.050" stop-color="#fff3d6"/><stop offset="0.075" stop-color="#ffedbd"/><stop offset="0.100" stop-color="#fee6a3"/><stop offset="0.125" stop-color="#fee08a"/><stop offset="0.150" stop-color="#fed877"/><stop offset="0.175" stop-color="#fdd063"/><stop offset="0.200" stop-color="#fdc850"/><stop offset="0.225" stop-color="#fcc045"/><stop offset="0.250" stop-color="#fcb83a"/><stop offset="0.275" stop-color="#fbb233"/><stop offset="0.300" stop-color="#faac2d"/><stop offset="0.325" stop-color="#faa627"/><stop offset="0.350" stop-color="#f9a020"/><stop offset="0.375" stop-color="#f8991c"/><stop offset="0.400" stop-color="#f79119"/><stop offset="0.425" stop-color="#f68a15"/><stop offset="0.450" stop-color="#f48316"/><stop offset="0.475" stop-color="#f27b17"/><stop offset="0.500" stop-color="#f07418"/><stop offset="0.525" stop-color="#ec6b1f"/><stop offset="0.550" stop-color="#e96327"/><stop offset="0.575" stop-color="#e55a2e"/><stop offset="0.600" stop-color="#de533b"/><stop offset="0.625" stop-color="#d64b49"/><stop offset="0.650" stop-color="#cf4456"/><stop offset="0.675" stop-color="#c23f62"/><stop offset="0.700" stop-color="#b5396e"/><stop offset="0.725" stop-color="#a8347a"/><stop offset="0.750" stop-color="#942e83"/><stop offset="0.775" stop-color="#80288c"/><stop offset="0.800" stop-color="#6e2490"/><stop offset="0.825" stop-color="#5c2094"/><stop offset="0.850" stop-color="#4b1b7d"/><stop offset="0.875" stop-color="#3a1666"/><stop offset="0.900" stop-color="#2c114f"/><stop offset="0.925" stop-color="#1e0c38"/><stop offset="0.950" stop-color="#140825"/><stop offset="0.975" stop-color="#0a0412"/><stop offset="1.000" stop-color="#000000"/></linearGradient>
<linearGradient id="e0" gradientUnits="userSpaceOnUse" x1="33.2" x2="259.0"><stop offset="0" stop-color="#4a1b7c"/><stop offset="0.015" stop-color="#5b2092"/><stop offset="0.042" stop-color="#76268e"/><stop offset="0.069" stop-color="#75268e"/><stop offset="0.1" stop-color="#76268e"/><stop offset="0.166" stop-color="#7e288c"/><stop offset="0.347" stop-color="#78268e"/><stop offset="0.476" stop-color="#602193"/><stop offset="0.507" stop-color="#581f8e"/><stop offset="0.639" stop-color="#321359"/><stop offset="0.723" stop-color="#1c0b35"/><stop offset="0.887" stop-color="#0c0515"/><stop offset="1" stop-color="#07030d"/></linearGradient>
<linearGradient id="e1" gradientUnits="userSpaceOnUse" x1="33.2" x2="259.0"><stop offset="0" stop-color="#fbad2e"/><stop offset="0.007" stop-color="#fcb537"/><stop offset="0.011" stop-color="#fdc248"/><stop offset="0.02" stop-color="#fedd84"/><stop offset="0.029" stop-color="#fff0cb"/><stop offset="0.033" stop-color="#fff8e6"/><stop offset="0.038" stop-color="#fffefb"/><stop offset="0.051" stop-color="#ffffff"/><stop offset="0.396" stop-color="#ffffff"/><stop offset="0.436" stop-color="#fff2d2"/><stop offset="0.489" stop-color="#fed878"/><stop offset="0.52" stop-color="#fdc54c"/><stop offset="0.555" stop-color="#fbb233"/><stop offset="0.617" stop-color="#f78f18"/><stop offset="0.653" stop-color="#f07418"/><stop offset="0.688" stop-color="#e15636"/><stop offset="0.728" stop-color="#c7415d"/><stop offset="0.781" stop-color="#972f82"/><stop offset="0.825" stop-color="#6e2490"/><stop offset="0.852" stop-color="#5a1f91"/><stop offset="0.909" stop-color="#3b1667"/><stop offset="0.989" stop-color="#250f44"/><stop offset="1" stop-color="#240e42"/></linearGradient>
<linearGradient id="e2" gradientUnits="userSpaceOnUse" x1="33.2" x2="259.0"><stop offset="0" stop-color="#fbac2d"/><stop offset="0.007" stop-color="#fcb537"/><stop offset="0.011" stop-color="#fdc44b"/><stop offset="0.02" stop-color="#fee396"/><stop offset="0.024" stop-color="#ffeec3"/><stop offset="0.029" stop-color="#fff8e9"/><stop offset="0.033" stop-color="#ffffff"/><stop offset="0.458" stop-color="#ffffff"/><stop offset="0.471" stop-color="#fff9ea"/><stop offset="0.52" stop-color="#fedd82"/><stop offset="0.555" stop-color="#fdc54b"/><stop offset="0.586" stop-color="#fbb133"/><stop offset="0.635" stop-color="#f79018"/><stop offset="0.666" stop-color="#f07618"/><stop offset="0.706" stop-color="#e05537"/><stop offset="0.746" stop-color="#c6405e"/><stop offset="0.794" stop-color="#9a3080"/><stop offset="0.838" stop-color="#702490"/><stop offset="0.865" stop-color="#5b2093"/><stop offset="0.927" stop-color="#3b1667"/><stop offset="0.993" stop-color="#29104a"/><stop offset="1" stop-color="#291049"/></linearGradient>
<linearGradient id="e3" gradientUnits="userSpaceOnUse" x1="33.2" x2="259.0"><stop offset="0" stop-color="#f48416"/><stop offset="0.011" stop-color="#f89c1e"/><stop offset="0.024" stop-color="#fdc045"/><stop offset="0.033" stop-color="#fed979"/><stop offset="0.042" stop-color="#ffeab2"/><stop offset="0.051" stop-color="#fff4da"/><stop offset="0.064" stop-color="#fffcf5"/><stop offset="0.073" stop-color="#ffffff"/><stop offset="0.423" stop-color="#ffffff"/><stop offset="0.449" stop-color="#fff0cb"/><stop offset="0.48" stop-color="#fedc81"/><stop offset="0.511" stop-color="#fdc64e"/><stop offset="0.546" stop-color="#fbb234"/><stop offset="0.613" stop-color="#f78e17"/><stop offset="0.648" stop-color="#f07418"/><stop offset="0.684" stop-color="#e15635"/><stop offset="0.728" stop-color="#c33f61"/><stop offset="0.777" stop-color="#972f82"/><stop offset="0.821" stop-color="#6e2490"/><stop offset="0.847" stop-color="#5b2092"/><stop offset="0.905" stop-color="#3b1668"/><stop offset="0.985" stop-color="#250f44"/><stop offset="1" stop-color="#230e41"/></linearGradient>
<linearGradient id="e4" gradientUnits="userSpaceOnUse" x1="33.2" x2="259.0"><stop offset="0" stop-color="#e86029"/><stop offset="0.011" stop-color="#f17917"/><stop offset="0.02" stop-color="#f7931a"/><stop offset="0.038" stop-color="#fcbb3e"/><stop offset="0.055" stop-color="#fed97a"/><stop offset="0.104" stop-color="#fffffe"/><stop offset="0.383" stop-color="#ffffff"/><stop offset="0.414" stop-color="#fff2d3"/><stop offset="0.454" stop-color="#fed979"/><stop offset="0.476" stop-color="#fdc74f"/><stop offset="0.507" stop-color="#fbb335"/><stop offset="0.569" stop-color="#f8971b"/><stop offset="0.604" stop-color="#f48316"/><stop offset="0.631" stop-color="#ef721a"/><stop offset="0.666" stop-color="#e15636"/><stop offset="0.71" stop-color="#c23f62"/><stop offset="0.754" stop-color="#9b3080"/><stop offset="0.799" stop-color="#71258f"/><stop offset="0.83" stop-color="#5a2092"/><stop offset="0.896" stop-color="#371561"/><stop offset="0.985" stop-color="#200d3c"/><stop offset="1" stop-color="#1f0c39"/></linearGradient>
<linearGradient id="e5" gradientUnits="userSpaceOnUse" x1="33.2" x2="259.0"><stop offset="0" stop-color="#d04554"/><stop offset="0.011" stop-color="#e55a2f"/><stop offset="0.02" stop-color="#f17618"/><stop offset="0.029" stop-color="#f68d17"/><stop offset="0.042" stop-color="#faa929"/><stop offset="0.064" stop-color="#fdc74e"/><stop offset="0.091" stop-color="#fee396"/><stop offset="0.113" stop-color="#fff5dc"/><stop offset="0.126" stop-color="#fffdfa"/><stop offset="0.135" stop-color="#ffffff"/><stop offset="0.343" stop-color="#fffefd"/><stop offset="0.383" stop-color="#fff1cd"/><stop offset="0.431" stop-color="#fed773"/><stop offset="0.454" stop-color="#fdc54c"/><stop offset="0.48" stop-color="#fbb233"/><stop offset="0.529" stop-color="#f89a1d"/><stop offset="0.577" stop-color="#f48316"/><stop offset="0.613" stop-color="#ee6f1c"/><stop offset="0.648" stop-color="#e15635"/><stop offset="0.692" stop-color="#c23f62"/><stop offset="0.737" stop-color="#9b3080"/><stop offset="0.781" stop-color="#72258f"/><stop offset="0.812" stop-color="#5b2093"/><stop offset="0.887" stop-color="#34145c"/><stop offset="0.98" stop-color="#1e0c37"/><stop offset="1" stop-color="#1c0b34"/></linearGradient>
<linearGradient id="e6" gradientUnits="userSpaceOnUse" x1="33.2" x2="259.0"><stop offset="0" stop-color="#ad3675"/><stop offset="0.011" stop-color="#cf4456"/><stop offset="0.02" stop-color="#e65b2d"/><stop offset="0.029" stop-color="#f07518"/><stop offset="0.038" stop-color="#f68915"/><stop offset="0.055" stop-color="#faa728"/><stop offset="0.082" stop-color="#fdc54c"/><stop offset="0.108" stop-color="#fee292"/><stop offset="0.131" stop-color="#fff1d0"/><stop offset="0.148" stop-color="#fff8e7"/><stop offset="0.215" stop-color="#ffffff"/><stop offset="0.285" stop-color="#fffefd"/><stop offset="0.338" stop-color="#fff3d5"/><stop offset="0.383" stop-color="#fee396"/><stop offset="0.431" stop-color="#fdc54c"/><stop offset="0.458" stop-color="#fbb233"/><stop offset="0.502" stop-color="#f8991c"/><stop offset="0.546" stop-color="#f48416"/><stop offset="0.591" stop-color="#ee701c"/><stop offset="0.631" stop-color="#e25734"/><stop offset="0.67" stop-color="#c8415c"/><stop offset="0.719" stop-color="#9d317f"/><stop offset="0.763" stop-color="#73258f"/><stop offset="0.799" stop-color="#5a1f91"/><stop offset="0.874" stop-color="#33145b"/><stop offset="0.962" stop-color="#1d0c37"/><stop offset="1" stop-color="#1a0a30"/></linearGradient>
<linearGradient id="e7" gradientUnits="userSpaceOnUse" x1="33.2" x2="259.0"><stop offset="0" stop-color="#862a8a"/><stop offset="0.011" stop-color="#b03772"/><stop offset="0.02" stop-color="#d3484e"/><stop offset="0.029" stop-color="#e75e2b"/><stop offset="0.038" stop-color="#f07518"/><stop offset="0.051" stop-color="#f68d17"/><stop offset="0.073" stop-color="#faab2c"/><stop offset="0.095" stop-color="#fdc248"/><stop offset="0.108" stop-color="#fdd166"/><stop offset="0.139" stop-color="#fee8a9"/><stop offset="0.162" stop-color="#ffedbe"/><stop offset="0.228" stop-color="#fff4d8"/><stop offset="0.268" stop-color="#fff5db"/><stop offset="0.299" stop-color="#fff0cb"/><stop offset="0.347" stop-color="#fee499"/><stop offset="0.414" stop-color="#fdc349"/><stop offset="0.458" stop-color="#faa727"/><stop offset="0.507" stop-color="#f68a15"/><stop offset="0.564" stop-color="#ef711b"/><stop offset="0.613" stop-color="#e25733"/><stop offset="0.657" stop-color="#c8415d"/><stop offset="0.706" stop-color="#9c3080"/><stop offset="0.75" stop-color="#73258f"/><stop offset="0.781" stop-color="#5c2094"/><stop offset="0.865" stop-color="#321358"/><stop offset="0.949" stop-color="#1d0c36"/><stop offset="1" stop-color="#180a2c"/></linearGradient>
<linearGradient id="e8" gradientUnits="userSpaceOnUse" x1="33.2" x2="259.0"><stop offset="0" stop-color="#672292"/><stop offset="0.007" stop-color="#77268e"/><stop offset="0.015" stop-color="#aa3578"/><stop offset="0.024" stop-color="#ce4457"/><stop offset="0.033" stop-color="#e25734"/><stop offset="0.046" stop-color="#f07418"/><stop offset="0.06" stop-color="#f68b15"/><stop offset="0.086" stop-color="#faac2d"/><stop offset="0.108" stop-color="#fdc146"/><stop offset="0.139" stop-color="#feda7b"/><stop offset="0.184" stop-color="#fee398"/><stop offset="0.254" stop-color="#fee9af"/><stop offset="0.285" stop-color="#fee7a6"/><stop offset="0.356" stop-color="#fdd36a"/><stop offset="0.387" stop-color="#fdc44b"/><stop offset="0.458" stop-color="#f89c1e"/><stop offset="0.493" stop-color="#f58516"/><stop offset="0.542" stop-color="#ee6f1c"/><stop offset="0.595" stop-color="#e25733"/><stop offset="0.644" stop-color="#c8415c"/><stop offset="0.692" stop-color="#9b3080"/><stop offset="0.741" stop-color="#702490"/><stop offset="0.768" stop-color="#5c2094"/><stop offset="0.852" stop-color="#321359"/><stop offset="0.931" stop-color="#1d0c37"/><stop offset="1" stop-color="#160929"/></linearGradient>
<linearGradient id="e9" gradientUnits="userSpaceOnUse" x1="33.2" x2="259.0"><stop offset="0" stop-color="#501c83"/><stop offset="0.007" stop-color="#5e2094"/><stop offset="0.015" stop-color="#8b2b87"/><stop offset="0.02" stop-color="#a5337b"/><stop offset="0.029" stop-color="#c7415d"/><stop offset="0.042" stop-color="#e55a2f"/><stop offset="0.055" stop-color="#f07518"/><stop offset="0.069" stop-color="#f68a15"/><stop offset="0.095" stop-color="#faa929"/><stop offset="0.144" stop-color="#fdcd5c"/><stop offset="0.197" stop-color="#fed876"/><stop offset="0.263" stop-color="#fedd84"/><stop offset="0.303" stop-color="#fed774"/><stop offset="0.383" stop-color="#fcb93c"/><stop offset="0.449" stop-color="#f8981c"/><stop offset="0.48" stop-color="#f48316"/><stop offset="0.52" stop-color="#ee6f1d"/><stop offset="0.577" stop-color="#e25734"/><stop offset="0.631" stop-color="#c8415c"/><stop offset="0.679" stop-color="#9d317f"/><stop offset="0.723" stop-color="#74258f"/><stop offset="0.759" stop-color="#5a2092"/><stop offset="0.838" stop-color="#33135a"/><stop offset="0.914" stop-color="#1e0c38"/><stop offset="1" stop-color="#150827"/></linearGradient>
<linearGradient id="e10" gradientUnits="userSpaceOnUse" x1="33.2" x2="259.0"><stop offset="0" stop-color="#3e176b"/><stop offset="0.011" stop-color="#5d2094"/><stop offset="0.02" stop-color="#892b88"/><stop offset="0.024" stop-color="#a1327d"/><stop offset="0.038" stop-color="#d04554"/><stop offset="0.051" stop-color="#e65d2b"/><stop offset="0.064" stop-color="#f17718"/><stop offset="0.082" stop-color="#f78f18"/><stop offset="0.117" stop-color="#fbb031"/><stop offset="0.157" stop-color="#fdc349"/><stop offset="0.259" stop-color="#fdd064"/><stop offset="0.299" stop-color="#fdcb58"/><stop offset="0.423" stop-color="#f99f20"/><stop offset="0.462" stop-color="#f58516"/><stop offset="0.498" stop-color="#ee701b"/><stop offset="0.564" stop-color="#df5438"/><stop offset="0.617" stop-color="#c9415c"/><stop offset="0.666" stop-color="#a0327e"/><stop offset="0.71" stop-color="#75268e"/><stop offset="0.746" stop-color="#5c2094"/><stop offset="0.825" stop-color="#34145c"/><stop offset="0.905" stop-color="#1d0c37"/><stop offset="1" stop-color="#140824"/></linearGradient>
<linearGradient id="e11" gradientUnits="userSpaceOnUse" x1="33.2" x2="259.0"><stop offset="0" stop-color="#311357"/><stop offset="0.007" stop-color="#3b1668"/><stop offset="0.015" stop-color="#5f2193"/><stop offset="0.024" stop-color="#882b88"/><stop offset="0.033" stop-color="#b13872"/><stop offset="0.042" stop-color="#cc4358"/><stop offset="0.055" stop-color="#e4592f"/><stop offset="0.069" stop-color="#ef721a"/><stop offset="0.091" stop-color="#f78e17"/><stop offset="0.126" stop-color="#faab2c"/><stop offset="0.179" stop-color="#fcba3d"/><stop offset="0.268" stop-color="#fdc44a"/><stop offset="0.378" stop-color="#faa92a"/><stop offset="0.436" stop-color="#f68e17"/><stop offset="0.48" stop-color="#ef711a"/><stop offset="0.542" stop-color="#e05538"/><stop offset="0.604" stop-color="#c9415c"/><stop offset="0.657" stop-color="#9e317e"/><stop offset="0.701" stop-color="#74258f"/><stop offset="0.737" stop-color="#5b2092"/><stop offset="0.816" stop-color="#33145b"/><stop offset="0.896" stop-color="#1d0c36"/><stop offset="1" stop-color="#120722"/></linearGradient>
<linearGradient id="e12" gradientUnits="userSpaceOnUse" x1="33.2" x2="259.0"><stop offset="0" stop-color="#280f48"/><stop offset="0.011" stop-color="#3e176b"/><stop offset="0.015" stop-color="#4f1c83"/><stop offset="0.02" stop-color="#612193"/><stop offset="0.033" stop-color="#9e317f"/><stop offset="0.046" stop-color="#c9425c"/><stop offset="0.064" stop-color="#e75e2b"/><stop offset="0.077" stop-color="#f07418"/><stop offset="0.104" stop-color="#f79018"/><stop offset="0.135" stop-color="#faa727"/><stop offset="0.223" stop-color="#fcb637"/><stop offset="0.299" stop-color="#fcb537"/><stop offset="0.392" stop-color="#f89c1e"/><stop offset="0.436" stop-color="#f58516"/><stop offset="0.471" stop-color="#ee6f1d"/><stop offset="0.524" stop-color="#df5439"/><stop offset="0.591" stop-color="#c8415d"/><stop offset="0.644" stop-color="#a2327d"/><stop offset="0.688" stop-color="#76268e"/><stop offset="0.728" stop-color="#5a1f91"/><stop offset="0.808" stop-color="#33135a"/><stop offset="0.892" stop-color="#1c0b34"/><stop offset="1" stop-color="#110720"/></linearGradient>
<linearGradient id="e13" gradientUnits="userSpaceOnUse" x1="33.2" x2="259.0"><stop offset="0" stop-color="#200d3b"/><stop offset="0.011" stop-color="#34145c"/><stop offset="0.02" stop-color="#531d88"/><stop offset="0.024" stop-color="#642292"/><stop offset="0.038" stop-color="#9d317f"/><stop offset="0.051" stop-color="#c7415e"/><stop offset="0.064" stop-color="#df5439"/><stop offset="0.073" stop-color="#e86227"/><stop offset="0.086" stop-color="#f07518"/><stop offset="0.113" stop-color="#f78e17"/><stop offset="0.148" stop-color="#f9a323"/><stop offset="0.268" stop-color="#fbb031"/><stop offset="0.361" stop-color="#f99f20"/><stop offset="0.427" stop-color="#f48216"/><stop offset="0.458" stop-color="#ee6f1c"/><stop offset="0.507" stop-color="#df5439"/><stop offset="0.577" stop-color="#c6405e"/><stop offset="0.635" stop-color="#a0327d"/><stop offset="0.684" stop-color="#72258f"/><stop offset="0.715" stop-color="#5c2094"/><stop offset="0.794" stop-color="#34145c"/><stop offset="0.883" stop-color="#1c0b34"/><stop offset="1" stop-color="#11071e"/></linearGradient>
<linearGradient id="e14" gradientUnits="userSpaceOnUse" x1="33.2" x2="259.0"><stop offset="0" stop-color="#1b0b32"/><stop offset="0.007" stop-color="#210d3d"/><stop offset="0.02" stop-color="#471a77"/><stop offset="0.024" stop-color="#571e8d"/><stop offset="0.029" stop-color="#672292"/><stop offset="0.042" stop-color="#9c307f"/><stop offset="0.055" stop-color="#c5405f"/><stop offset="0.064" stop-color="#d74c48"/><stop offset="0.077" stop-color="#e75f2a"/><stop offset="0.095" stop-color="#f07518"/><stop offset="0.126" stop-color="#f78f17"/><stop offset="0.17" stop-color="#f99e1f"/><stop offset="0.281" stop-color="#faa727"/><stop offset="0.361" stop-color="#f8961b"/><stop offset="0.414" stop-color="#f48216"/><stop offset="0.445" stop-color="#ee701b"/><stop offset="0.502" stop-color="#db5041"/><stop offset="0.577" stop-color="#be3d66"/><stop offset="0.622" stop-color="#a3337c"/><stop offset="0.675" stop-color="#72258f"/><stop offset="0.706" stop-color="#5c2094"/><stop offset="0.79" stop-color="#321359"/><stop offset="0.878" stop-color="#1b0b32"/><stop offset="1" stop-color="#10061d"/></linearGradient>
<linearGradient id="e15" gradientUnits="userSpaceOnUse" x1="33.2" x2="259.0"><stop offset="0" stop-color="#17092b"/><stop offset="0.011" stop-color="#250e43"/><stop offset="0.024" stop-color="#4b1b7d"/><stop offset="0.029" stop-color="#5a1f91"/><stop offset="0.042" stop-color="#8b2b87"/><stop offset="0.051" stop-color="#ac3676"/><stop offset="0.064" stop-color="#cf4456"/><stop offset="0.082" stop-color="#e55b2d"/><stop offset="0.104" stop-color="#f07418"/><stop offset="0.144" stop-color="#f78e17"/><stop offset="0.259" stop-color="#f9a020"/><stop offset="0.338" stop-color="#f7951a"/><stop offset="0.396" stop-color="#f48216"/><stop offset="0.431" stop-color="#ef711b"/><stop offset="0.476" stop-color="#e15636"/><stop offset="0.524" stop-color="#ce4457"/><stop offset="0.608" stop-color="#a5337b"/><stop offset="0.666" stop-color="#72258f"/><stop offset="0.697" stop-color="#5b2093"/><stop offset="0.781" stop-color="#321359"/><stop offset="0.869" stop-color="#1b0b32"/><stop offset="1" stop-color="#0f061b"/></linearGradient>
<linearGradient id="e16" gradientUnits="userSpaceOnUse" x1="33.2" x2="259.0"><stop offset="0" stop-color="#140825"/><stop offset="0.011" stop-color="#1f0c3a"/><stop offset="0.029" stop-color="#4f1c82"/><stop offset="0.033" stop-color="#5d2094"/><stop offset="0.046" stop-color="#8c2c87"/><stop offset="0.055" stop-color="#ac3676"/><stop offset="0.069" stop-color="#cd4358"/><stop offset="0.086" stop-color="#e35832"/><stop offset="0.117" stop-color="#f17618"/><stop offset="0.157" stop-color="#f68915"/><stop offset="0.272" stop-color="#f8971c"/><stop offset="0.361" stop-color="#f58616"/><stop offset="0.418" stop-color="#ef711b"/><stop offset="0.462" stop-color="#e25734"/><stop offset="0.511" stop-color="#cc4358"/><stop offset="0.6" stop-color="#a3327c"/><stop offset="0.662" stop-color="#6f2490"/><stop offset="0.688" stop-color="#5b2093"/><stop offset="0.772" stop-color="#32135a"/><stop offset="0.865" stop-color="#1a0b31"/><stop offset="0.993" stop-color="#0e061a"/><stop offset="1" stop-color="#0e061a"/></linearGradient>
<linearGradient id="e17" gradientUnits="userSpaceOnUse" x1="33.2" x2="259.0"><stop offset="0" stop-color="#110720"/><stop offset="0.011" stop-color="#1b0b33"/><stop offset="0.029" stop-color="#451975"/><stop offset="0.033" stop-color="#531d87"/><stop offset="0.038" stop-color="#602193"/><stop offset="0.051" stop-color="#8d2c86"/><stop offset="0.06" stop-color="#ac3676"/><stop offset="0.077" stop-color="#d24750"/><stop offset="0.1" stop-color="#e65d2c"/><stop offset="0.131" stop-color="#f17718"/><stop offset="0.192" stop-color="#f58715"/><stop offset="0.285" stop-color="#f78e17"/><stop offset="0.383" stop-color="#f17817"/><stop offset="0.427" stop-color="#e96426"/><stop offset="0.454" stop-color="#e05536"/><stop offset="0.502" stop-color="#c9425c"/><stop offset="0.591" stop-color="#a0327e"/><stop offset="0.653" stop-color="#6f2490"/><stop offset="0.679" stop-color="#5c2093"/><stop offset="0.763" stop-color="#33135a"/><stop offset="0.856" stop-color="#1b0b31"/><stop offset="0.989" stop-color="#0e0619"/><stop offset="1" stop-color="#0d0519"/></linearGradient>
<linearGradient id="e18" gradientUnits="userSpaceOnUse" x1="33.2" x2="259.0"><stop offset="0" stop-color="#0f061c"/><stop offset="0.015" stop-color="#1f0c39"/><stop offset="0.033" stop-color="#491a7a"/><stop offset="0.038" stop-color="#561e8b"/><stop offset="0.042" stop-color="#632292"/><stop offset="0.055" stop-color="#8f2c85"/><stop offset="0.064" stop-color="#ac3676"/><stop offset="0.082" stop-color="#d04554"/><stop offset="0.108" stop-color="#e65d2c"/><stop offset="0.144" stop-color="#f07518"/><stop offset="0.259" stop-color="#f58715"/><stop offset="0.343" stop-color="#f27c17"/><stop offset="0.387" stop-color="#ee6f1c"/><stop offset="0.436" stop-color="#e35831"/><stop offset="0.498" stop-color="#c33f61"/><stop offset="0.582" stop-color="#9c317f"/><stop offset="0.653" stop-color="#682391"/><stop offset="0.67" stop-color="#5c2094"/><stop offset="0.754" stop-color="#33135a"/><stop offset="0.843" stop-color="#1b0b33"/><stop offset="0.967" stop-color="#0e061a"/><stop offset="1" stop-color="#0d0517"/></linearGradient>
<linearGradient id="e19" gradientUnits="userSpaceOnUse" x1="33.2" x2="259.0"><stop offset="0" stop-color="#0d0518"/><stop offset="0.015" stop-color="#1b0b33"/><stop offset="0.033" stop-color="#40186f"/><stop offset="0.042" stop-color="#581f8f"/><stop offset="0.051" stop-color="#73258f"/><stop offset="0.069" stop-color="#ac3676"/><stop offset="0.086" stop-color="#ce4357"/><stop offset="0.117" stop-color="#e65c2c"/><stop offset="0.153" stop-color="#ee6f1c"/><stop offset="0.268" stop-color="#f37f16"/><stop offset="0.356" stop-color="#ef721a"/><stop offset="0.423" stop-color="#e45931"/><stop offset="0.48" stop-color="#c7415e"/><stop offset="0.546" stop-color="#a7347a"/><stop offset="0.639" stop-color="#6c2490"/><stop offset="0.662" stop-color="#5c2094"/><stop offset="0.741" stop-color="#35145d"/><stop offset="0.83" stop-color="#1c0b35"/><stop offset="0.949" stop-color="#0f061b"/><stop offset="1" stop-color="#0c0516"/></linearGradient>
<linearGradient id="e20" gradientUnits="userSpaceOnUse" x1="33.2" x2="259.0"><stop offset="0" stop-color="#0c0515"/><stop offset="0.015" stop-color="#190a2e"/><stop offset="0.038" stop-color="#441973"/><stop offset="0.046" stop-color="#5b2093"/><stop offset="0.064" stop-color="#912d84"/><stop offset="0.073" stop-color="#ac3577"/><stop offset="0.095" stop-color="#d04555"/><stop offset="0.126" stop-color="#e55a2e"/><stop offset="0.17" stop-color="#ec6b1f"/><stop offset="0.259" stop-color="#f17817"/><stop offset="0.338" stop-color="#ee6f1c"/><stop offset="0.409" stop-color="#e35832"/><stop offset="0.467" stop-color="#c8415c"/><stop offset="0.524" stop-color="#a93479"/><stop offset="0.631" stop-color="#6c2490"/><stop offset="0.657" stop-color="#5a1f91"/><stop offset="0.728" stop-color="#361560"/><stop offset="0.816" stop-color="#1d0c36"/><stop offset="0.936" stop-color="#0f061c"/><stop offset="1" stop-color="#0c0515"/></linearGradient>
<linearGradient id="e21" gradientUnits="userSpaceOnUse" x1="33.2" x2="259.0"><stop offset="0" stop-color="#0a0413"/><stop offset="0.015" stop-color="#160929"/><stop offset="0.033" stop-color="#33145b"/><stop offset="0.051" stop-color="#5e2094"/><stop offset="0.069" stop-color="#922d84"/><stop offset="0.077" stop-color="#aa3578"/><stop offset="0.104" stop-color="#d04554"/><stop offset="0.139" stop-color="#e55a2e"/><stop offset="0.237" stop-color="#ed6e1d"/><stop offset="0.308" stop-color="#ed6e1d"/><stop offset="0.392" stop-color="#e35832"/><stop offset="0.454" stop-color="#ca425a"/><stop offset="0.511" stop-color="#a8347a"/><stop offset="0.635" stop-color="#632292"/><stop offset="0.648" stop-color="#5a2092"/><stop offset="0.719" stop-color="#371561"/><stop offset="0.812" stop-color="#1c0b35"/><stop offset="0.931" stop-color="#0f061b"/><stop offset="1" stop-color="#0b0414"/></linearGradient>
<linearGradient id="e22" gradientUnits="userSpaceOnUse" x1="33.2" x2="259.0"><stop offset="0" stop-color="#090410"/><stop offset="0.02" stop-color="#190a2e"/><stop offset="0.042" stop-color="#3f186d"/><stop offset="0.051" stop-color="#551e8b"/><stop offset="0.055" stop-color="#612193"/><stop offset="0.077" stop-color="#9e317e"/><stop offset="0.091" stop-color="#b63a6d"/><stop offset="0.117" stop-color="#d3484e"/><stop offset="0.148" stop-color="#e15634"/><stop offset="0.215" stop-color="#e96326"/><stop offset="0.294" stop-color="#eb6822"/><stop offset="0.374" stop-color="#e25733"/><stop offset="0.44" stop-color="#cb4359"/><stop offset="0.502" stop-color="#a4337c"/><stop offset="0.613" stop-color="#6b2391"/><stop offset="0.639" stop-color="#5b2092"/><stop offset="0.715" stop-color="#35145e"/><stop offset="0.808" stop-color="#1c0b34"/><stop offset="0.931" stop-color="#0e061a"/><stop offset="1" stop-color="#0b0413"/></linearGradient>
<linearGradient id="e23" gradientUnits="userSpaceOnUse" x1="33.2" x2="259.0"><stop offset="0" stop-color="#08030f"/><stop offset="0.02" stop-color="#17092a"/><stop offset="0.038" stop-color="#311357"/><stop offset="0.055" stop-color="#581f8e"/><stop offset="0.06" stop-color="#632292"/><stop offset="0.086" stop-color="#a6337b"/><stop offset="0.122" stop-color="#d04554"/><stop offset="0.153" stop-color="#dc513e"/><stop offset="0.223" stop-color="#e65d2b"/><stop offset="0.303" stop-color="#e76029"/><stop offset="0.356" stop-color="#e15635"/><stop offset="0.431" stop-color="#c9425b"/><stop offset="0.498" stop-color="#9d317f"/><stop offset="0.591" stop-color="#71258f"/><stop offset="0.631" stop-color="#5b2092"/><stop offset="0.71" stop-color="#34145c"/><stop offset="0.803" stop-color="#1b0b33"/><stop offset="0.931" stop-color="#0d0518"/><stop offset="1" stop-color="#0a0412"/></linearGradient>
<linearGradient id="e24" gradientUnits="userSpaceOnUse" x1="33.2" x2="259.0"><stop offset="0" stop-color="#07030d"/><stop offset="0.02" stop-color="#150826"/><stop offset="0.038" stop-color="#2c114f"/><stop offset="0.06" stop-color="#5a2092"/><stop offset="0.077" stop-color="#852a8a"/><stop offset="0.095" stop-color="#aa3578"/><stop offset="0.131" stop-color="#cf4456"/><stop offset="0.17" stop-color="#da4f42"/><stop offset="0.268" stop-color="#e55a2e"/><stop offset="0.33" stop-color="#e15636"/><stop offset="0.414" stop-color="#cc4359"/><stop offset="0.493" stop-color="#972f81"/><stop offset="0.569" stop-color="#74258f"/><stop offset="0.622" stop-color="#5a2092"/><stop offset="0.706" stop-color="#33135a"/><stop offset="0.799" stop-color="#1b0b32"/><stop offset="0.927" stop-color="#0d0518"/><stop offset="1" stop-color="#0a0411"/></linearGradient>
<linearGradient id="e25" gradientUnits="userSpaceOnUse" x1="33.2" x2="259.0"><stop offset="0" stop-color="#06030b"/><stop offset="0.02" stop-color="#130722"/><stop offset="0.038" stop-color="#280f48"/><stop offset="0.06" stop-color="#521d87"/><stop offset="0.064" stop-color="#5c2094"/><stop offset="0.1" stop-color="#a6337b"/><stop offset="0.139" stop-color="#cc4359"/><stop offset="0.219" stop-color="#db503f"/><stop offset="0.29" stop-color="#df5438"/><stop offset="0.365" stop-color="#d54a4c"/><stop offset="0.414" stop-color="#c43f60"/><stop offset="0.476" stop-color="#9c307f"/><stop offset="0.524" stop-color="#7e288c"/><stop offset="0.613" stop-color="#5a1f91"/><stop offset="0.701" stop-color="#311358"/><stop offset="0.794" stop-color="#1a0b31"/><stop offset="0.927" stop-color="#0c0517"/><stop offset="1" stop-color="#090410"/></linearGradient>
<linearGradient id="e26" gradientUnits="userSpaceOnUse" x1="33.2" x2="259.0"><stop offset="0" stop-color="#06020a"/><stop offset="0.02" stop-color="#11071f"/><stop offset="0.038" stop-color="#230e41"/><stop offset="0.06" stop-color="#4b1b7d"/><stop offset="0.069" stop-color="#5e2094"/><stop offset="0.104" stop-color="#a1327d"/><stop offset="0.135" stop-color="#c03e64"/><stop offset="0.179" stop-color="#d14653"/><stop offset="0.277" stop-color="#da4f42"/><stop offset="0.347" stop-color="#d3484e"/><stop offset="0.405" stop-color="#c03e64"/><stop offset="0.458" stop-color="#a2327d"/><stop offset="0.507" stop-color="#7f288c"/><stop offset="0.6" stop-color="#5b2093"/><stop offset="0.697" stop-color="#301356"/><stop offset="0.79" stop-color="#1a0a30"/><stop offset="0.927" stop-color="#0c0516"/><stop offset="1" stop-color="#090310"/></linearGradient>
<linearGradient id="e27" gradientUnits="userSpaceOnUse" x1="33.2" x2="259.0"><stop offset="0" stop-color="#050209"/><stop offset="0.02" stop-color="#0f061c"/><stop offset="0.042" stop-color="#260f45"/><stop offset="0.064" stop-color="#4d1c80"/><stop offset="0.073" stop-color="#5f2193"/><stop offset="0.108" stop-color="#9c317f"/><stop offset="0.126" stop-color="#b13872"/><stop offset="0.166" stop-color="#c5405f"/><stop offset="0.241" stop-color="#d3484f"/><stop offset="0.303" stop-color="#d4494d"/><stop offset="0.365" stop-color="#c8415c"/><stop offset="0.44" stop-color="#a7347a"/><stop offset="0.502" stop-color="#7a278d"/><stop offset="0.591" stop-color="#5a1f91"/><stop offset="0.697" stop-color="#2e1252"/><stop offset="0.785" stop-color="#190a2f"/><stop offset="0.923" stop-color="#0c0515"/><stop offset="1" stop-color="#08030f"/></linearGradient>
<linearGradient id="e28" gradientUnits="userSpaceOnUse" x1="33.2" x2="259.0"><stop offset="0" stop-color="#050208"/><stop offset="0.024" stop-color="#110720"/><stop offset="0.042" stop-color="#220e3f"/><stop offset="0.069" stop-color="#4f1c83"/><stop offset="0.073" stop-color="#581f8e"/><stop offset="0.077" stop-color="#602193"/><stop offset="0.122" stop-color="#a4337c"/><stop offset="0.153" stop-color="#b83b6b"/><stop offset="0.254" stop-color="#cf4456"/><stop offset="0.321" stop-color="#cd4358"/><stop offset="0.423" stop-color="#aa3578"/><stop offset="0.493" stop-color="#77268e"/><stop offset="0.573" stop-color="#5b2093"/><stop offset="0.706" stop-color="#29104a"/><stop offset="0.794" stop-color="#17092b"/><stop offset="0.936" stop-color="#0a0413"/><stop offset="1" stop-color="#08030e"/></linearGradient>
<linearGradient id="e29" gradientUnits="userSpaceOnUse" x1="33.2" x2="259.0"><stop offset="0" stop-color="#040207"/><stop offset="0.024" stop-color="#10061d"/><stop offset="0.046" stop-color="#250e43"/><stop offset="0.077" stop-color="#581f8f"/><stop offset="0.086" stop-color="#672292"/><stop offset="0.135" stop-color="#a7347a"/><stop offset="0.201" stop-color="#be3d66"/><stop offset="0.29" stop-color="#c8415c"/><stop offset="0.374" stop-color="#b63a6d"/><stop offset="0.423" stop-color="#a1327d"/><stop offset="0.489" stop-color="#73258f"/><stop offset="0.56" stop-color="#5a1f91"/><stop offset="0.648" stop-color="#391664"/><stop offset="0.741" stop-color="#1e0c38"/><stop offset="0.878" stop-color="#0d0519"/><stop offset="1" stop-color="#08030e"/></linearGradient>
<linearGradient id="e30" gradientUnits="userSpaceOnUse" x1="33.2" x2="259.0"><stop offset="0" stop-color="#040107"/><stop offset="0.024" stop-color="#0f061b"/><stop offset="0.046" stop-color="#210d3d"/><stop offset="0.082" stop-color="#581f8f"/><stop offset="0.086" stop-color="#5f2193"/><stop offset="0.135" stop-color="#9c307f"/><stop offset="0.162" stop-color="#ab3577"/><stop offset="0.272" stop-color="#c13e63"/><stop offset="0.343" stop-color="#b83b6b"/><stop offset="0.409" stop-color="#a0327e"/><stop offset="0.485" stop-color="#6f2490"/><stop offset="0.538" stop-color="#5b2093"/><stop offset="0.622" stop-color="#40186e"/><stop offset="0.719" stop-color="#210d3e"/><stop offset="0.838" stop-color="#10071e"/><stop offset="1" stop-color="#07030d"/></linearGradient>
<linearGradient id="e31" gradientUnits="userSpaceOnUse" x1="33.2" x2="259.0"><stop offset="0" stop-color="#030106"/><stop offset="0.024" stop-color="#0d0518"/><stop offset="0.051" stop-color="#230e41"/><stop offset="0.086" stop-color="#571f8e"/><stop offset="0.091" stop-color="#5d2094"/><stop offset="0.139" stop-color="#952e83"/><stop offset="0.188" stop-color="#ab3577"/><stop offset="0.285" stop-color="#b93b6a"/><stop offset="0.369" stop-color="#aa3578"/><stop offset="0.445" stop-color="#80288c"/><stop offset="0.511" stop-color="#5e2094"/><stop offset="0.608" stop-color="#411870"/><stop offset="0.719" stop-color="#200d3b"/><stop offset="0.847" stop-color="#0f061b"/><stop offset="1" stop-color="#07030c"/></linearGradient>
<linearGradient id="e32" gradientUnits="userSpaceOnUse" x1="33.2" x2="259.0"><stop offset="0" stop-color="#030105"/><stop offset="0.029" stop-color="#0f061b"/><stop offset="0.051" stop-color="#200d3b"/><stop offset="0.091" stop-color="#561e8c"/><stop offset="0.095" stop-color="#5c2093"/><stop offset="0.139" stop-color="#8b2b87"/><stop offset="0.201" stop-color="#a7347b"/><stop offset="0.29" stop-color="#b23871"/><stop offset="0.361" stop-color="#a5337c"/><stop offset="0.48" stop-color="#652292"/><stop offset="0.507" stop-color="#5a1f91"/><stop offset="0.622" stop-color="#391664"/><stop offset="0.723" stop-color="#1d0c36"/><stop offset="0.865" stop-color="#0d0517"/><stop offset="1" stop-color="#07030c"/></linearGradient>
<linearGradient id="e33" gradientUnits="userSpaceOnUse" x1="33.2" x2="259.0"><stop offset="0" stop-color="#030105"/><stop offset="0.029" stop-color="#0e0519"/><stop offset="0.055" stop-color="#220e3f"/><stop offset="0.091" stop-color="#501c83"/><stop offset="0.104" stop-color="#5f2193"/><stop offset="0.144" stop-color="#84298a"/><stop offset="0.219" stop-color="#a1327d"/><stop offset="0.29" stop-color="#ab3577"/><stop offset="0.343" stop-color="#a1327d"/><stop offset="0.445" stop-color="#72258f"/><stop offset="0.489" stop-color="#5b2093"/><stop offset="0.631" stop-color="#33145b"/><stop offset="0.723" stop-color="#1c0b34"/><stop offset="0.869" stop-color="#0c0515"/><stop offset="1" stop-color="#06020b"/></linearGradient>
<linearGradient id="e34" gradientUnits="userSpaceOnUse" x1="33.2" x2="259.0"><stop offset="0" stop-color="#020104"/><stop offset="0.029" stop-color="#0c0517"/><stop offset="0.055" stop-color="#1f0c3a"/><stop offset="0.091" stop-color="#4a1b7b"/><stop offset="0.108" stop-color="#5d2094"/><stop offset="0.144" stop-color="#7b278d"/><stop offset="0.228" stop-color="#993081"/><stop offset="0.294" stop-color="#a2327d"/><stop offset="0.365" stop-color="#902d85"/><stop offset="0.476" stop-color="#5c2093"/><stop offset="0.542" stop-color="#471a78"/><stop offset="0.631" stop-color="#311357"/><stop offset="0.719" stop-color="#1b0b33"/><stop offset="0.865" stop-color="#0c0515"/><stop offset="1" stop-color="#06020b"/></linearGradient>
<linearGradient id="e35" gradientUnits="userSpaceOnUse" x1="33.2" x2="259.0"><stop offset="0" stop-color="#020104"/><stop offset="0.033" stop-color="#0e0619"/><stop offset="0.06" stop-color="#210d3d"/><stop offset="0.095" stop-color="#491a7a"/><stop offset="0.113" stop-color="#5a1f92"/><stop offset="0.148" stop-color="#76268e"/><stop offset="0.25" stop-color="#952e83"/><stop offset="0.308" stop-color="#972f82"/><stop offset="0.4" stop-color="#7a278d"/><stop offset="0.467" stop-color="#5a2092"/><stop offset="0.529" stop-color="#461a76"/><stop offset="0.626" stop-color="#301255"/><stop offset="0.715" stop-color="#1b0b32"/><stop offset="0.865" stop-color="#0b0414"/><stop offset="1" stop-color="#06020a"/></linearGradient>
<linearGradient id="e36" gradientUnits="userSpaceOnUse" x1="33.2" x2="259.0"><stop offset="0" stop-color="#020103"/><stop offset="0.033" stop-color="#0d0517"/><stop offset="0.064" stop-color="#230e40"/><stop offset="0.1" stop-color="#471a78"/><stop offset="0.122" stop-color="#5c2094"/><stop offset="0.162" stop-color="#73258f"/><stop offset="0.272" stop-color="#8f2c85"/><stop offset="0.334" stop-color="#892b88"/><stop offset="0.445" stop-color="#5f2193"/><stop offset="0.467" stop-color="#551e8b"/><stop offset="0.529" stop-color="#421871"/><stop offset="0.626" stop-color="#2d1151"/><stop offset="0.715" stop-color="#1a0a30"/><stop offset="0.865" stop-color="#0b0413"/><stop offset="1" stop-color="#05020a"/></linearGradient>
<linearGradient id="e37" gradientUnits="userSpaceOnUse" x1="33.2" x2="259.0"><stop offset="0" stop-color="#020103"/><stop offset="0.033" stop-color="#0c0515"/><stop offset="0.064" stop-color="#200d3b"/><stop offset="0.1" stop-color="#421871"/><stop offset="0.131" stop-color="#5c2094"/><stop offset="0.184" stop-color="#73258f"/><stop offset="0.285" stop-color="#872a89"/><stop offset="0.356" stop-color="#7b278d"/><stop offset="0.44" stop-color="#5c2093"/><stop offset="0.511" stop-color="#421871"/><stop offset="0.626" stop-color="#2b114d"/><stop offset="0.715" stop-color="#190a2e"/><stop offset="0.869" stop-color="#0a0412"/><stop offset="1" stop-color="#050209"/></linearGradient>
<linearGradient id="e38" gradientUnits="userSpaceOnUse" x1="33.2" x2="259.0"><stop offset="0" stop-color="#020103"/><stop offset="0.033" stop-color="#0b0413"/><stop offset="0.064" stop-color="#1d0c37"/><stop offset="0.104" stop-color="#41186f"/><stop offset="0.139" stop-color="#5b2093"/><stop offset="0.223" stop-color="#76268e"/><stop offset="0.299" stop-color="#7e288c"/><stop offset="0.387" stop-color="#6a2391"/><stop offset="0.431" stop-color="#5a1f91"/><stop offset="0.511" stop-color="#3e176b"/><stop offset="0.626" stop-color="#281049"/><stop offset="0.715" stop-color="#18092c"/><stop offset="0.874" stop-color="#090411"/><stop offset="1" stop-color="#050209"/></linearGradient>
<linearGradient id="e39" gradientUnits="userSpaceOnUse" x1="33.2" x2="259.0"><stop offset="0" stop-color="#010102"/><stop offset="0.038" stop-color="#0c0515"/><stop offset="0.073" stop-color="#230e40"/><stop offset="0.122" stop-color="#4a1b7b"/><stop offset="0.153" stop-color="#5b2093"/><stop offset="0.263" stop-color="#76268e"/><stop offset="0.33" stop-color="#73258f"/><stop offset="0.414" stop-color="#5b2093"/><stop offset="0.511" stop-color="#3a1666"/><stop offset="0.626" stop-color="#260f46"/><stop offset="0.728" stop-color="#150827"/><stop offset="0.892" stop-color="#08030e"/><stop offset="1" stop-color="#050208"/></linearGradient>
<linearGradient id="e40" gradientUnits="userSpaceOnUse" x1="33.2" x2="259.0"><stop offset="0" stop-color="#010002"/><stop offset="0.038" stop-color="#0b0414"/><stop offset="0.077" stop-color="#240e41"/><stop offset="0.131" stop-color="#4a1b7c"/><stop offset="0.175" stop-color="#5c2094"/><stop offset="0.285" stop-color="#70258f"/><stop offset="0.361" stop-color="#652292"/><stop offset="0.4" stop-color="#5a1f91"/><stop offset="0.511" stop-color="#371561"/><stop offset="0.631" stop-color="#230e41"/><stop offset="0.75" stop-color="#120721"/><stop offset="0.918" stop-color="#07030c"/><stop offset="1" stop-color="#040208"/></linearGradient>
<linearGradient id="e41" gradientUnits="userSpaceOnUse" x1="33.2" x2="259.0"><stop offset="0" stop-color="#010002"/><stop offset="0.038" stop-color="#0a0412"/><stop offset="0.082" stop-color="#240e42"/><stop offset="0.135" stop-color="#481a79"/><stop offset="0.197" stop-color="#5c2093"/><stop offset="0.294" stop-color="#6a2391"/><stop offset="0.378" stop-color="#5b2093"/><stop offset="0.511" stop-color="#34145c"/><stop offset="0.631" stop-color="#210d3d"/><stop offset="0.768" stop-color="#0f061c"/><stop offset="0.949" stop-color="#05020a"/><stop offset="1" stop-color="#040208"/></linearGradient>
<linearGradient id="e42" gradientUnits="userSpaceOnUse" x1="33.2" x2="259.0"><stop offset="0" stop-color="#010002"/><stop offset="0.042" stop-color="#0b0414"/><stop offset="0.131" stop-color="#40186e"/><stop offset="0.184" stop-color="#531d88"/><stop offset="0.241" stop-color="#5e2094"/><stop offset="0.316" stop-color="#622193"/><stop offset="0.361" stop-color="#5a1f91"/><stop offset="0.515" stop-color="#311357"/><stop offset="0.631" stop-color="#1f0d3a"/><stop offset="0.781" stop-color="#0e0519"/><stop offset="0.976" stop-color="#040208"/><stop offset="1" stop-color="#040207"/></linearGradient>
<linearGradient id="e43" gradientUnits="userSpaceOnUse" x1="33.2" x2="259.0"><stop offset="0" stop-color="#010002"/><stop offset="0.042" stop-color="#0a0412"/><stop offset="0.135" stop-color="#3e176b"/><stop offset="0.201" stop-color="#511d86"/><stop offset="0.281" stop-color="#5d2094"/><stop offset="0.338" stop-color="#591f90"/><stop offset="0.454" stop-color="#3b1668"/><stop offset="0.533" stop-color="#2c114f"/><stop offset="0.763" stop-color="#0e061a"/><stop offset="0.954" stop-color="#050208"/><stop offset="1" stop-color="#040207"/></linearGradient>
<linearGradient id="e44" gradientUnits="userSpaceOnUse" x1="33.2" x2="259.0"><stop offset="0" stop-color="#010001"/><stop offset="0.042" stop-color="#090411"/><stop offset="0.135" stop-color="#391665"/><stop offset="0.206" stop-color="#4d1c80"/><stop offset="0.294" stop-color="#581f8f"/><stop offset="0.374" stop-color="#4d1c80"/><stop offset="0.52" stop-color="#2b114e"/><stop offset="0.777" stop-color="#0d0517"/><stop offset="0.98" stop-color="#040207"/><stop offset="1" stop-color="#040107"/></linearGradient>
<linearGradient id="e45" gradientUnits="userSpaceOnUse" x1="33.2" x2="259.0"><stop offset="0" stop-color="#010001"/><stop offset="0.042" stop-color="#090310"/><stop offset="0.139" stop-color="#371562"/><stop offset="0.223" stop-color="#4b1b7d"/><stop offset="0.303" stop-color="#531d87"/><stop offset="0.4" stop-color="#421871"/><stop offset="0.52" stop-color="#29104a"/><stop offset="0.785" stop-color="#0c0515"/><stop offset="1" stop-color="#040106"/></linearGradient>
<linearGradient id="e46" gradientUnits="userSpaceOnUse" x1="33.2" x2="259.0"><stop offset="0" stop-color="#010001"/><stop offset="0.046" stop-color="#0a0411"/><stop offset="0.139" stop-color="#34145c"/><stop offset="0.228" stop-color="#471a78"/><stop offset="0.303" stop-color="#4e1c81"/><stop offset="0.405" stop-color="#3d176a"/><stop offset="0.52" stop-color="#270f46"/><stop offset="0.794" stop-color="#0b0413"/><stop offset="1" stop-color="#030106"/></linearGradient>
<linearGradient id="e47" gradientUnits="userSpaceOnUse" x1="33.2" x2="259.0"><stop offset="0" stop-color="#010001"/><stop offset="0.046" stop-color="#090410"/><stop offset="0.144" stop-color="#321359"/><stop offset="0.246" stop-color="#451975"/><stop offset="0.316" stop-color="#481a79"/><stop offset="0.436" stop-color="#33145b"/><stop offset="0.529" stop-color="#240e41"/><stop offset="0.799" stop-color="#0a0412"/><stop offset="1" stop-color="#030106"/></linearGradient>
<linearGradient id="e48" gradientUnits="userSpaceOnUse" x1="33.2" x2="259.0"><stop offset="0" stop-color="#010001"/><stop offset="0.046" stop-color="#08030f"/><stop offset="0.144" stop-color="#2f1254"/><stop offset="0.25" stop-color="#411870"/><stop offset="0.321" stop-color="#441973"/><stop offset="0.449" stop-color="#2e1252"/><stop offset="0.542" stop-color="#200d3c"/><stop offset="0.808" stop-color="#090410"/><stop offset="1" stop-color="#030106"/></linearGradient>
<linearGradient id="e49" gradientUnits="userSpaceOnUse" x1="33.2" x2="259.0"><stop offset="0" stop-color="#000001"/><stop offset="0.046" stop-color="#08030e"/><stop offset="0.148" stop-color="#2d1151"/><stop offset="0.263" stop-color="#3f176c"/><stop offset="0.33" stop-color="#3e176c"/><stop offset="0.533" stop-color="#1f0c3a"/><stop offset="0.816" stop-color="#08030f"/><stop offset="1" stop-color="#030105"/></linearGradient>
<linearGradient id="e50" gradientUnits="userSpaceOnUse" x1="33.2" x2="259.0"><stop offset="0" stop-color="#000001"/><stop offset="0.051" stop-color="#08030f"/><stop offset="0.148" stop-color="#2a104c"/><stop offset="0.268" stop-color="#3b1667"/><stop offset="0.338" stop-color="#391665"/><stop offset="0.529" stop-color="#1e0c38"/><stop offset="0.825" stop-color="#07030d"/><stop offset="1" stop-color="#030105"/></linearGradient>
<linearGradient id="e51" gradientUnits="userSpaceOnUse" x1="33.2" x2="259.0"><stop offset="0" stop-color="#000001"/><stop offset="0.051" stop-color="#08030e"/><stop offset="0.148" stop-color="#270f48"/><stop offset="0.272" stop-color="#381562"/><stop offset="0.343" stop-color="#36155f"/><stop offset="0.529" stop-color="#1d0b35"/><stop offset="0.825" stop-color="#07030d"/><stop offset="1" stop-color="#030105"/></linearGradient>
<linearGradient id="e52" gradientUnits="userSpaceOnUse" x1="33.2" x2="259.0"><stop offset="0" stop-color="#000001"/><stop offset="0.051" stop-color="#07030d"/><stop offset="0.148" stop-color="#250e43"/><stop offset="0.272" stop-color="#35145d"/><stop offset="0.343" stop-color="#33135a"/><stop offset="0.524" stop-color="#1c0b34"/><stop offset="0.83" stop-color="#07030c"/><stop offset="1" stop-color="#030105"/></linearGradient>
<linearGradient id="e53" gradientUnits="userSpaceOnUse" x1="33.2" x2="259.0"><stop offset="0" stop-color="#000001"/><stop offset="0.051" stop-color="#07030c"/><stop offset="0.148" stop-color="#220e3f"/><stop offset="0.277" stop-color="#321359"/><stop offset="0.352" stop-color="#2f1254"/><stop offset="0.524" stop-color="#1a0b31"/><stop offset="0.834" stop-color="#06020b"/><stop offset="1" stop-color="#020104"/></linearGradient>
<linearGradient id="e54" gradientUnits="userSpaceOnUse" x1="33.2" x2="259.0"><stop offset="0" stop-color="#000000"/><stop offset="0.055" stop-color="#07030d"/><stop offset="0.148" stop-color="#200d3b"/><stop offset="0.277" stop-color="#2f1254"/><stop offset="0.356" stop-color="#2c114f"/><stop offset="0.524" stop-color="#190a2f"/><stop offset="0.838" stop-color="#06020a"/><stop offset="1" stop-color="#020104"/></linearGradient>
<linearGradient id="e55" gradientUnits="userSpaceOnUse" x1="33.2" x2="259.0"><stop offset="0" stop-color="#000000"/><stop offset="0.055" stop-color="#07030c"/><stop offset="0.148" stop-color="#1e0c38"/><stop offset="0.281" stop-color="#2d1150"/><stop offset="0.365" stop-color="#29104a"/><stop offset="0.529" stop-color="#180a2d"/><stop offset="0.838" stop-color="#05020a"/><stop offset="1" stop-color="#020104"/></linearGradient>
<linearGradient id="e56" gradientUnits="userSpaceOnUse" x1="33.2" x2="259.0"><stop offset="0" stop-color="#000000"/><stop offset="0.055" stop-color="#06030c"/><stop offset="0.148" stop-color="#1c0b35"/><stop offset="0.29" stop-color="#2a104d"/><stop offset="0.396" stop-color="#230e40"/><stop offset="0.538" stop-color="#17092a"/><stop offset="0.843" stop-color="#050209"/><stop offset="1" stop-color="#020104"/></linearGradient>
<linearGradient id="e57" gradientUnits="userSpaceOnUse" x1="33.2" x2="259.0"><stop offset="0" stop-color="#000000"/><stop offset="0.055" stop-color="#06020b"/><stop offset="0.148" stop-color="#1b0b32"/><stop offset="0.294" stop-color="#281049"/><stop offset="0.414" stop-color="#1f0c3a"/><stop offset="0.56" stop-color="#150827"/><stop offset="0.838" stop-color="#050209"/><stop offset="1" stop-color="#020104"/></linearGradient>
<linearGradient id="e58" gradientUnits="userSpaceOnUse" x1="33.2" x2="259.0"><stop offset="0" stop-color="#000000"/><stop offset="0.06" stop-color="#07030c"/><stop offset="0.153" stop-color="#1a0a31"/><stop offset="0.303" stop-color="#260f45"/><stop offset="0.56" stop-color="#140825"/><stop offset="0.843" stop-color="#050208"/><stop offset="1" stop-color="#020103"/></linearGradient>
<linearGradient id="e59" gradientUnits="userSpaceOnUse" x1="33.2" x2="259.0"><stop offset="0" stop-color="#000000"/><stop offset="0.06" stop-color="#06020b"/><stop offset="0.153" stop-color="#190a2e"/><stop offset="0.303" stop-color="#240e41"/><stop offset="0.569" stop-color="#130823"/><stop offset="0.843" stop-color="#040208"/><stop offset="1" stop-color="#020103"/></linearGradient>
<linearGradient id="e60" gradientUnits="userSpaceOnUse" x1="33.2" x2="259.0"><stop offset="0" stop-color="#000000"/><stop offset="0.06" stop-color="#06020a"/><stop offset="0.157" stop-color="#180a2d"/><stop offset="0.308" stop-color="#210d3e"/><stop offset="0.577" stop-color="#120721"/><stop offset="0.847" stop-color="#040207"/><stop offset="1" stop-color="#020103"/></linearGradient>
<linearGradient id="e61" gradientUnits="userSpaceOnUse" x1="33.2" x2="259.0"><stop offset="0" stop-color="#000000"/><stop offset="0.064" stop-color="#06030b"/><stop offset="0.157" stop-color="#17092a"/><stop offset="0.312" stop-color="#1f0c3a"/><stop offset="0.794" stop-color="#05020a"/><stop offset="1" stop-color="#020103"/></linearGradient>
<linearGradient id="e62" gradientUnits="userSpaceOnUse" x1="33.2" x2="259.0"><stop offset="0" stop-color="#000000"/><stop offset="0.064" stop-color="#06020b"/><stop offset="0.162" stop-color="#160929"/><stop offset="0.312" stop-color="#1e0c37"/><stop offset="0.821" stop-color="#040208"/><stop offset="1" stop-color="#020103"/></linearGradient>
<linearGradient id="e63" gradientUnits="userSpaceOnUse" x1="33.2" x2="259.0"><stop offset="0" stop-color="#000000"/><stop offset="0.064" stop-color="#05020a"/><stop offset="0.162" stop-color="#150827"/><stop offset="0.316" stop-color="#1c0b35"/><stop offset="0.821" stop-color="#040208"/><stop offset="1" stop-color="#020103"/></linearGradient>
<linearGradient id="e64" gradientUnits="userSpaceOnUse" x1="33.2" x2="259.0"><stop offset="0" stop-color="#000000"/><stop offset="0.069" stop-color="#06020b"/><stop offset="0.166" stop-color="#140826"/><stop offset="0.316" stop-color="#1b0b32"/><stop offset="0.834" stop-color="#040107"/><stop offset="1" stop-color="#010103"/></linearGradient>
<linearGradient id="e65" gradientUnits="userSpaceOnUse" x1="33.2" x2="259.0"><stop offset="0" stop-color="#000000"/><stop offset="0.069" stop-color="#06020a"/><stop offset="0.17" stop-color="#140824"/><stop offset="0.321" stop-color="#1a0a30"/><stop offset="0.838" stop-color="#030106"/><stop offset="1" stop-color="#010102"/></linearGradient>
<linearGradient id="e66" gradientUnits="userSpaceOnUse" x1="33.2" x2="259.0"><stop offset="0" stop-color="#000000"/><stop offset="0.069" stop-color="#050209"/><stop offset="0.175" stop-color="#130823"/><stop offset="0.325" stop-color="#180a2d"/><stop offset="0.847" stop-color="#030106"/><stop offset="1" stop-color="#010102"/></linearGradient>
<linearGradient id="e67" gradientUnits="userSpaceOnUse" x1="33.2" x2="259.0"><stop offset="0" stop-color="#000000"/><stop offset="0.073" stop-color="#06020a"/><stop offset="0.179" stop-color="#120722"/><stop offset="0.325" stop-color="#17092b"/><stop offset="0.861" stop-color="#030105"/><stop offset="1" stop-color="#010102"/></linearGradient>
<linearGradient id="e68" gradientUnits="userSpaceOnUse" x1="33.2" x2="259.0"><stop offset="0" stop-color="#000000"/><stop offset="0.073" stop-color="#050209"/><stop offset="0.179" stop-color="#110720"/><stop offset="0.33" stop-color="#160929"/><stop offset="0.869" stop-color="#020104"/><stop offset="1" stop-color="#010002"/></linearGradient>
<linearGradient id="e69" gradientUnits="userSpaceOnUse" x1="33.2" x2="259.0"><stop offset="0" stop-color="#000000"/><stop offset="0.077" stop-color="#06020a"/><stop offset="0.188" stop-color="#110720"/><stop offset="0.334" stop-color="#150827"/><stop offset="0.878" stop-color="#020104"/><stop offset="1" stop-color="#010002"/></linearGradient>
<linearGradient id="e70" gradientUnits="userSpaceOnUse" x1="33.2" x2="259.0"><stop offset="0" stop-color="#000000"/><stop offset="0.077" stop-color="#050209"/><stop offset="0.192" stop-color="#11071e"/><stop offset="0.334" stop-color="#140825"/><stop offset="0.883" stop-color="#020104"/><stop offset="1" stop-color="#010002"/></linearGradient>
<linearGradient id="e71" gradientUnits="userSpaceOnUse" x1="33.2" x2="259.0"><stop offset="0" stop-color="#000000"/><stop offset="0.082" stop-color="#06020a"/><stop offset="0.201" stop-color="#10061e"/><stop offset="0.338" stop-color="#130823"/><stop offset="0.892" stop-color="#020103"/><stop offset="1" stop-color="#010002"/></linearGradient>
<linearGradient id="e72" gradientUnits="userSpaceOnUse" x1="33.2" x2="259.0"><stop offset="0" stop-color="#000000"/><stop offset="0.082" stop-color="#050209"/><stop offset="0.206" stop-color="#10061d"/><stop offset="0.343" stop-color="#120721"/><stop offset="0.896" stop-color="#020103"/><stop offset="1" stop-color="#010002"/></linearGradient>
<linearGradient id="e73" gradientUnits="userSpaceOnUse" x1="33.2" x2="259.0"><stop offset="0" stop-color="#000000"/><stop offset="0.086" stop-color="#05020a"/><stop offset="0.219" stop-color="#0f061c"/><stop offset="0.352" stop-color="#11071f"/><stop offset="0.905" stop-color="#020103"/><stop offset="1" stop-color="#010002"/></linearGradient>
<linearGradient id="e74" gradientUnits="userSpaceOnUse" x1="33.2" x2="259.0"><stop offset="0" stop-color="#000000"/><stop offset="0.091" stop-color="#06020a"/><stop offset="0.232" stop-color="#0f061c"/><stop offset="0.365" stop-color="#10061d"/><stop offset="0.909" stop-color="#010103"/><stop offset="1" stop-color="#010002"/></linearGradient>
<linearGradient id="e75" gradientUnits="userSpaceOnUse" x1="33.2" x2="259.0"><stop offset="0" stop-color="#000000"/><stop offset="0.095" stop-color="#06020a"/><stop offset="0.25" stop-color="#0f061c"/><stop offset="0.387" stop-color="#0e061b"/><stop offset="0.923" stop-color="#010102"/><stop offset="1" stop-color="#010002"/></linearGradient>
<linearGradient id="e76" gradientUnits="userSpaceOnUse" x1="33.2" x2="259.0"><stop offset="0" stop-color="#000000"/><stop offset="0.1" stop-color="#06020a"/><stop offset="0.272" stop-color="#0f061c"/><stop offset="0.657" stop-color="#06030c"/><stop offset="1" stop-color="#010001"/></linearGradient>
<linearGradient id="e77" gradientUnits="userSpaceOnUse" x1="33.2" x2="259.0"><stop offset="0" stop-color="#000000"/><stop offset="0.104" stop-color="#06020b"/><stop offset="0.294" stop-color="#0f061b"/><stop offset="0.949" stop-color="#010002"/><stop offset="1" stop-color="#010001"/></linearGradient>
<linearGradient id="e78" gradientUnits="userSpaceOnUse" x1="33.2" x2="259.0"><stop offset="0" stop-color="#000000"/><stop offset="0.108" stop-color="#06020b"/><stop offset="0.308" stop-color="#0e061a"/><stop offset="0.945" stop-color="#010002"/><stop offset="1" stop-color="#010001"/></linearGradient>
<linearGradient id="e79" gradientUnits="userSpaceOnUse" x1="33.2" x2="259.0"><stop offset="0" stop-color="#000000"/><stop offset="0.113" stop-color="#06020b"/><stop offset="0.321" stop-color="#0e0519"/><stop offset="0.949" stop-color="#010002"/><stop offset="1" stop-color="#010001"/></linearGradient>
<linearGradient id="e80" gradientUnits="userSpaceOnUse" x1="33.2" x2="259.0"><stop offset="0" stop-color="#000000"/><stop offset="0.117" stop-color="#06020b"/><stop offset="0.33" stop-color="#0d0517"/><stop offset="0.958" stop-color="#010001"/><stop offset="1" stop-color="#010001"/></linearGradient>
<linearGradient id="e81" gradientUnits="userSpaceOnUse" x1="33.2" x2="259.0"><stop offset="0" stop-color="#000000"/><stop offset="0.126" stop-color="#06030c"/><stop offset="0.338" stop-color="#0c0516"/><stop offset="0.967" stop-color="#010001"/><stop offset="1" stop-color="#010001"/></linearGradient>
<linearGradient id="e82" gradientUnits="userSpaceOnUse" x1="33.2" x2="259.0"><stop offset="0" stop-color="#000000"/><stop offset="0.144" stop-color="#07030d"/><stop offset="0.347" stop-color="#0b0515"/><stop offset="0.976" stop-color="#010001"/><stop offset="1" stop-color="#010001"/></linearGradient>
<linearGradient id="e83" gradientUnits="userSpaceOnUse" x1="33.2" x2="259.0"><stop offset="0" stop-color="#000000"/><stop offset="0.308" stop-color="#0b0515"/><stop offset="0.993" stop-color="#010001"/><stop offset="1" stop-color="#010001"/></linearGradient>
<linearGradient id="e84" gradientUnits="userSpaceOnUse" x1="33.2" x2="259.0"><stop offset="0" stop-color="#000000"/><stop offset="0.312" stop-color="#0b0414"/><stop offset="1" stop-color="#010001"/></linearGradient>
<linearGradient id="e85" gradientUnits="userSpaceOnUse" x1="33.2" x2="259.0"><stop offset="0" stop-color="#000000"/><stop offset="0.316" stop-color="#0a0413"/><stop offset="1" stop-color="#010001"/></linearGradient>
<linearGradient id="e86" gradientUnits="userSpaceOnUse" x1="33.2" x2="259.0"><stop offset="0" stop-color="#000000"/><stop offset="0.321" stop-color="#0a0412"/><stop offset="1" stop-color="#010001"/></linearGradient>
<linearGradient id="e87" gradientUnits="userSpaceOnUse" x1="33.2" x2="259.0"><stop offset="0" stop-color="#000000"/><stop offset="0.325" stop-color="#090411"/><stop offset="1" stop-color="#000001"/></linearGradient>
<linearGradient id="e88" gradientUnits="userSpaceOnUse" x1="33.2" x2="259.0"><stop offset="0" stop-color="#000000"/><stop offset="0.33" stop-color="#090410"/><stop offset="1" stop-color="#000001"/></linearGradient>
<linearGradient id="e89" gradientUnits="userSpaceOnUse" x1="33.2" x2="259.0"><stop offset="0" stop-color="#000000"/><stop offset="0.334" stop-color="#08030f"/><stop offset="1" stop-color="#000001"/></linearGradient>
<linearGradient id="e90" gradientUnits="userSpaceOnUse" x1="33.2" x2="259.0"><stop offset="0" stop-color="#000000"/><stop offset="0.338" stop-color="#08030e"/><stop offset="1" stop-color="#000001"/></linearGradient>
<linearGradient id="e91" gradientUnits="userSpaceOnUse" x1="33.2" x2="259.0"><stop offset="0" stop-color="#000000"/><stop offset="0.343" stop-color="#08030e"/><stop offset="1" stop-color="#000001"/></linearGradient>
<linearGradient id="e92" gradientUnits="userSpaceOnUse" x1="33.2" x2="259.0"><stop offset="0" stop-color="#000000"/><stop offset="0.347" stop-color="#07030d"/><stop offset="1" stop-color="#000001"/></linearGradient>
<linearGradient id="e93" gradientUnits="userSpaceOnUse" x1="33.2" x2="259.0"><stop offset="0" stop-color="#000000"/><stop offset="0.352" stop-color="#07030c"/><stop offset="1" stop-color="#000001"/></linearGradient>
<linearGradient id="e94" gradientUnits="userSpaceOnUse" x1="33.2" x2="259.0"><stop offset="0" stop-color="#000000"/><stop offset="0.356" stop-color="#07030c"/><stop offset="1" stop-color="#000001"/></linearGradient>
<linearGradient id="e95" gradientUnits="userSpaceOnUse" x1="33.2" x2="259.0"><stop offset="0" stop-color="#000000"/><stop offset="0.361" stop-color="#06020b"/><stop offset="1" stop-color="#000001"/></linearGradient>
<linearGradient id="e96" gradientUnits="userSpaceOnUse" x1="33.2" x2="259.0"><stop offset="0" stop-color="#000000"/><stop offset="0.365" stop-color="#06020b"/><stop offset="1" stop-color="#000001"/></linearGradient>
<linearGradient id="e97" gradientUnits="userSpaceOnUse" x1="33.2" x2="259.0"><stop offset="0" stop-color="#000000"/><stop offset="0.369" stop-color="#06020a"/><stop offset="1" stop-color="#000001"/></linearGradient>
<linearGradient id="e98" gradientUnits="userSpaceOnUse" x1="33.2" x2="259.0"><stop offset="0" stop-color="#000000"/><stop offset="0.374" stop-color="#050209"/><stop offset="1" stop-color="#000001"/></linearGradient>
<linearGradient id="e99" gradientUnits="userSpaceOnUse" x1="33.2" x2="259.0"><stop offset="0" stop-color="#000000"/><stop offset="0.378" stop-color="#050209"/><stop offset="1" stop-color="#000000"/></linearGradient>
<linearGradient id="e100" gradientUnits="userSpaceOnUse" x1="33.2" x2="259.0"><stop offset="0" stop-color="#000000"/><stop offset="0.383" stop-color="#050208"/><stop offset="1" stop-color="#000000"/></linearGradient>
<linearGradient id="e101" gradientUnits="userSpaceOnUse" x1="33.2" x2="259.0"><stop offset="0" stop-color="#000000"/><stop offset="0.392" stop-color="#040208"/><stop offset="1" stop-color="#000000"/></linearGradient>
<linearGradient id="e102" gradientUnits="userSpaceOnUse" x1="33.2" x2="259.0"><stop offset="0" stop-color="#000000"/><stop offset="0.396" stop-color="#040207"/><stop offset="1" stop-color="#000000"/></linearGradient>
<linearGradient id="e103" gradientUnits="userSpaceOnUse" x1="33.2" x2="259.0"><stop offset="0" stop-color="#000000"/><stop offset="0.4" stop-color="#040207"/><stop offset="1" stop-color="#000000"/></linearGradient>
<linearGradient id="e104" gradientUnits="userSpaceOnUse" x1="33.2" x2="259.0"><stop offset="0" stop-color="#000000"/><stop offset="0.405" stop-color="#040107"/><stop offset="1" stop-color="#000000"/></linearGradient>
<linearGradient id="e105" gradientUnits="userSpaceOnUse" x1="33.2" x2="259.0"><stop offset="0" stop-color="#000000"/><stop offset="0.414" stop-color="#030106"/><stop offset="1" stop-color="#000000"/></linearGradient>
<linearGradient id="e106" gradientUnits="userSpaceOnUse" x1="33.2" x2="259.0"><stop offset="0" stop-color="#000000"/><stop offset="0.418" stop-color="#030106"/><stop offset="1" stop-color="#000000"/></linearGradient>
<linearGradient id="eline" gradientUnits="userSpaceOnUse" x1="33.2" x2="259.0"><stop offset="0" stop-color="#ffffff"/><stop offset="0.55" stop-color="#fff8e0"/><stop offset="0.7" stop-color="#fbc070"/><stop offset="0.84" stop-color="#e88850"/><stop offset="0.9" stop-color="#b07088"/><stop offset="1" stop-color="#806080"/></linearGradient>
<linearGradient id="f0" gradientUnits="userSpaceOnUse" x1="290.0" x2="514.8"><stop offset="0" stop-color="#000000"/><stop offset="0.829" stop-color="#000001"/><stop offset="1" stop-color="#000000"/></linearGradient>
<linearGradient id="f1" gradientUnits="userSpaceOnUse" x1="290.0" x2="514.8"><stop offset="0" stop-color="#000000"/><stop offset="0.358" stop-color="#020104"/><stop offset="0.789" stop-color="#020104"/><stop offset="1" stop-color="#000000"/></linearGradient>
<linearGradient id="f2" gradientUnits="userSpaceOnUse" x1="290.0" x2="514.8"><stop offset="0" stop-color="#000000"/><stop offset="0.327" stop-color="#020103"/><stop offset="0.629" stop-color="#07030c"/><stop offset="0.811" stop-color="#030105"/><stop offset="0.971" stop-color="#000000"/><stop offset="1" stop-color="#000000"/></linearGradient>
<linearGradient id="f3" gradientUnits="userSpaceOnUse" x1="290.0" x2="514.8"><stop offset="0" stop-color="#000000"/><stop offset="0.318" stop-color="#030105"/><stop offset="0.398" stop-color="#090411"/><stop offset="0.687" stop-color="#0d0517"/><stop offset="0.802" stop-color="#07030c"/><stop offset="0.896" stop-color="#010002"/><stop offset="1" stop-color="#000000"/></linearGradient>
<linearGradient id="f4" gradientUnits="userSpaceOnUse" x1="290.0" x2="514.8"><stop offset="0" stop-color="#000000"/><stop offset="0.229" stop-color="#040208"/><stop offset="0.318" stop-color="#0c0517"/><stop offset="0.38" stop-color="#17092b"/><stop offset="0.629" stop-color="#210d3d"/><stop offset="0.776" stop-color="#17092b"/><stop offset="0.873" stop-color="#07030d"/><stop offset="1" stop-color="#020103"/></linearGradient>
<linearGradient id="f5" gradientUnits="userSpaceOnUse" x1="290.0" x2="514.8"><stop offset="0" stop-color="#000000"/><stop offset="0.171" stop-color="#050209"/><stop offset="0.273" stop-color="#120722"/><stop offset="0.331" stop-color="#220d3e"/><stop offset="0.398" stop-color="#36155f"/><stop offset="0.518" stop-color="#441974"/><stop offset="0.647" stop-color="#481a79"/><stop offset="0.758" stop-color="#35145e"/><stop offset="0.864" stop-color="#150827"/><stop offset="0.989" stop-color="#06020b"/><stop offset="1" stop-color="#06020a"/></linearGradient>
<linearGradient id="f6" gradientUnits="userSpaceOnUse" x1="290.0" x2="514.8"><stop offset="0" stop-color="#000000"/><stop offset="0.158" stop-color="#05020a"/><stop offset="0.247" stop-color="#150827"/><stop offset="0.313" stop-color="#2b114d"/><stop offset="0.393" stop-color="#4d1c7f"/><stop offset="0.469" stop-color="#5d2094"/><stop offset="0.642" stop-color="#632292"/><stop offset="0.7" stop-color="#5a1f91"/><stop offset="0.78" stop-color="#441973"/><stop offset="0.878" stop-color="#1e0c38"/><stop offset="1" stop-color="#0b0414"/></linearGradient>
<linearGradient id="f7" gradientUnits="userSpaceOnUse" x1="290.0" x2="514.8"><stop offset="0" stop-color="#000000"/><stop offset="0.149" stop-color="#06020a"/><stop offset="0.233" stop-color="#17092a"/><stop offset="0.296" stop-color="#301255"/><stop offset="0.389" stop-color="#5c2094"/><stop offset="0.482" stop-color="#74258f"/><stop offset="0.656" stop-color="#73258f"/><stop offset="0.762" stop-color="#5b2093"/><stop offset="0.887" stop-color="#29104a"/><stop offset="0.98" stop-color="#140826"/><stop offset="1" stop-color="#120721"/></linearGradient>
<linearGradient id="f8" gradientUnits="userSpaceOnUse" x1="290.0" x2="514.8"><stop offset="0" stop-color="#000000"/><stop offset="0.144" stop-color="#06020a"/><stop offset="0.22" stop-color="#17092a"/><stop offset="0.273" stop-color="#2e1253"/><stop offset="0.344" stop-color="#531d88"/><stop offset="0.367" stop-color="#5f2193"/><stop offset="0.442" stop-color="#7e288c"/><stop offset="0.504" stop-color="#8a2b88"/><stop offset="0.664" stop-color="#82298b"/><stop offset="0.78" stop-color="#642292"/><stop offset="0.802" stop-color="#5b2092"/><stop offset="0.9" stop-color="#33135a"/><stop offset="1" stop-color="#1a0b31"/></linearGradient>
<linearGradient id="f9" gradientUnits="userSpaceOnUse" x1="290.0" x2="514.8"><stop offset="0" stop-color="#000000"/><stop offset="0.144" stop-color="#06030b"/><stop offset="0.216" stop-color="#18092c"/><stop offset="0.273" stop-color="#35145e"/><stop offset="0.331" stop-color="#581f8f"/><stop offset="0.344" stop-color="#5f2193"/><stop offset="0.433" stop-color="#8d2c86"/><stop offset="0.496" stop-color="#9f317e"/><stop offset="0.66" stop-color="#982f81"/><stop offset="0.784" stop-color="#73258f"/><stop offset="0.833" stop-color="#5c2094"/><stop offset="0.949" stop-color="#321359"/><stop offset="1" stop-color="#260f46"/></linearGradient>
<linearGradient id="f10" gradientUnits="userSpaceOnUse" x1="290.0" x2="514.8"><stop offset="0" stop-color="#000000"/><stop offset="0.14" stop-color="#06020b"/><stop offset="0.207" stop-color="#160929"/><stop offset="0.251" stop-color="#2d1151"/><stop offset="0.318" stop-color="#5b2092"/><stop offset="0.398" stop-color="#8d2c86"/><stop offset="0.464" stop-color="#ac3577"/><stop offset="0.562" stop-color="#b13871"/><stop offset="0.678" stop-color="#ab3577"/><stop offset="0.78" stop-color="#872a89"/><stop offset="0.869" stop-color="#5b2092"/><stop offset="1" stop-color="#361560"/></linearGradient>
<linearGradient id="f11" gradientUnits="userSpaceOnUse" x1="290.0" x2="514.8"><stop offset="0" stop-color="#000000"/><stop offset="0.14" stop-color="#07030c"/><stop offset="0.207" stop-color="#17092c"/><stop offset="0.247" stop-color="#2e1252"/><stop offset="0.309" stop-color="#5d2094"/><stop offset="0.38" stop-color="#8f2c85"/><stop offset="0.433" stop-color="#ad3675"/><stop offset="0.5" stop-color="#be3d66"/><stop offset="0.656" stop-color="#be3d66"/><stop offset="0.767" stop-color="#a1327d"/><stop offset="0.856" stop-color="#6f2490"/><stop offset="0.918" stop-color="#5a2092"/><stop offset="1" stop-color="#491b7b"/></linearGradient>
<linearGradient id="f12" gradientUnits="userSpaceOnUse" x1="290.0" x2="514.8"><stop offset="0" stop-color="#000000"/><stop offset="0.14" stop-color="#07030c"/><stop offset="0.202" stop-color="#17092a"/><stop offset="0.233" stop-color="#270f47"/><stop offset="0.3" stop-color="#5b2093"/><stop offset="0.367" stop-color="#8d2c86"/><stop offset="0.411" stop-color="#ac3676"/><stop offset="0.491" stop-color="#c7415e"/><stop offset="0.642" stop-color="#cd4357"/><stop offset="0.767" stop-color="#b03773"/><stop offset="0.811" stop-color="#992f81"/><stop offset="0.873" stop-color="#77268e"/><stop offset="0.989" stop-color="#5c2094"/><stop offset="1" stop-color="#5c2093"/></linearGradient>
<linearGradient id="f13" gradientUnits="userSpaceOnUse" x1="290.0" x2="514.8"><stop offset="0" stop-color="#000000"/><stop offset="0.136" stop-color="#06020b"/><stop offset="0.198" stop-color="#160929"/><stop offset="0.229" stop-color="#250f44"/><stop offset="0.296" stop-color="#5b2092"/><stop offset="0.358" stop-color="#8c2c87"/><stop offset="0.398" stop-color="#ac3676"/><stop offset="0.487" stop-color="#cd4358"/><stop offset="0.629" stop-color="#d54a4b"/><stop offset="0.718" stop-color="#ca425b"/><stop offset="0.811" stop-color="#aa3578"/><stop offset="0.878" stop-color="#872a89"/><stop offset="0.984" stop-color="#6d2490"/><stop offset="1" stop-color="#6c2490"/></linearGradient>
<linearGradient id="f14" gradientUnits="userSpaceOnUse" x1="290.0" x2="514.8"><stop offset="0" stop-color="#000000"/><stop offset="0.136" stop-color="#06020b"/><stop offset="0.193" stop-color="#150827"/><stop offset="0.224" stop-color="#230e40"/><stop offset="0.291" stop-color="#591f90"/><stop offset="0.3" stop-color="#602193"/><stop offset="0.358" stop-color="#912d84"/><stop offset="0.393" stop-color="#ae3774"/><stop offset="0.482" stop-color="#d04554"/><stop offset="0.611" stop-color="#db5041"/><stop offset="0.691" stop-color="#d64b49"/><stop offset="0.771" stop-color="#c7415e"/><stop offset="0.869" stop-color="#9c307f"/><stop offset="0.976" stop-color="#7e278d"/><stop offset="1" stop-color="#7b278d"/></linearGradient>
<linearGradient id="f15" gradientUnits="userSpaceOnUse" x1="290.0" x2="514.8"><stop offset="0" stop-color="#000000"/><stop offset="0.136" stop-color="#06020b"/><stop offset="0.193" stop-color="#150827"/><stop offset="0.224" stop-color="#230e41"/><stop offset="0.287" stop-color="#561e8c"/><stop offset="0.296" stop-color="#5e2094"/><stop offset="0.353" stop-color="#912d84"/><stop offset="0.389" stop-color="#b03773"/><stop offset="0.469" stop-color="#d04553"/><stop offset="0.602" stop-color="#df5438"/><stop offset="0.687" stop-color="#dc513e"/><stop offset="0.789" stop-color="#cc4359"/><stop offset="0.887" stop-color="#a7347a"/><stop offset="0.993" stop-color="#8a2b87"/><stop offset="1" stop-color="#8a2b88"/></linearGradient>
<linearGradient id="f16" gradientUnits="userSpaceOnUse" x1="290.0" x2="514.8"><stop offset="0" stop-color="#000000"/><stop offset="0.136" stop-color="#06020b"/><stop offset="0.193" stop-color="#150928"/><stop offset="0.224" stop-color="#240e42"/><stop offset="0.287" stop-color="#571f8d"/><stop offset="0.296" stop-color="#5f2193"/><stop offset="0.349" stop-color="#902d85"/><stop offset="0.384" stop-color="#b03773"/><stop offset="0.46" stop-color="#d14653"/><stop offset="0.598" stop-color="#e35831"/><stop offset="0.687" stop-color="#e15635"/><stop offset="0.784" stop-color="#d54a4c"/><stop offset="0.882" stop-color="#b3396f"/><stop offset="1" stop-color="#982f81"/></linearGradient>
<linearGradient id="f17" gradientUnits="userSpaceOnUse" x1="290.0" x2="514.8"><stop offset="0" stop-color="#000000"/><stop offset="0.136" stop-color="#06020b"/><stop offset="0.193" stop-color="#160928"/><stop offset="0.224" stop-color="#240e43"/><stop offset="0.287" stop-color="#581f8f"/><stop offset="0.291" stop-color="#5c2094"/><stop offset="0.349" stop-color="#922d84"/><stop offset="0.384" stop-color="#b23871"/><stop offset="0.456" stop-color="#d14652"/><stop offset="0.589" stop-color="#e55b2d"/><stop offset="0.704" stop-color="#e45930"/><stop offset="0.784" stop-color="#da4f41"/><stop offset="0.882" stop-color="#bd3d66"/><stop offset="1" stop-color="#a5337b"/></linearGradient>
<linearGradient id="f18" gradientUnits="userSpaceOnUse" x1="290.0" x2="514.8"><stop offset="0" stop-color="#000000"/><stop offset="0.136" stop-color="#06030b"/><stop offset="0.193" stop-color="#160929"/><stop offset="0.224" stop-color="#250e43"/><stop offset="0.287" stop-color="#591f90"/><stop offset="0.296" stop-color="#612193"/><stop offset="0.349" stop-color="#942e83"/><stop offset="0.38" stop-color="#b13772"/><stop offset="0.447" stop-color="#d14653"/><stop offset="0.576" stop-color="#e65c2c"/><stop offset="0.682" stop-color="#e75f2a"/><stop offset="0.771" stop-color="#e25734"/><stop offset="0.887" stop-color="#c5405f"/><stop offset="1" stop-color="#ae3674"/></linearGradient>
<linearGradient id="f19" gradientUnits="userSpaceOnUse" x1="290.0" x2="514.8"><stop offset="0" stop-color="#000000"/><stop offset="0.136" stop-color="#06030b"/><stop offset="0.193" stop-color="#160929"/><stop offset="0.224" stop-color="#250f44"/><stop offset="0.287" stop-color="#5a1f91"/><stop offset="0.327" stop-color="#80288c"/><stop offset="0.376" stop-color="#af3774"/><stop offset="0.442" stop-color="#d14653"/><stop offset="0.562" stop-color="#e65c2c"/><stop offset="0.664" stop-color="#e96326"/><stop offset="0.784" stop-color="#e4592f"/><stop offset="0.891" stop-color="#cc4359"/><stop offset="1" stop-color="#b5396e"/></linearGradient>
<linearGradient id="f20" gradientUnits="userSpaceOnUse" x1="290.0" x2="514.8"><stop offset="0" stop-color="#000000"/><stop offset="0.136" stop-color="#06030b"/><stop offset="0.193" stop-color="#160929"/><stop offset="0.224" stop-color="#260f45"/><stop offset="0.287" stop-color="#5b2092"/><stop offset="0.336" stop-color="#8b2b87"/><stop offset="0.376" stop-color="#b03773"/><stop offset="0.442" stop-color="#d14651"/><stop offset="0.553" stop-color="#e65d2c"/><stop offset="0.656" stop-color="#ea6624"/><stop offset="0.78" stop-color="#e75f29"/><stop offset="0.829" stop-color="#de533a"/><stop offset="0.918" stop-color="#cd4358"/><stop offset="1" stop-color="#bc3c68"/></linearGradient>
<linearGradient id="f21" gradientUnits="userSpaceOnUse" x1="290.0" x2="514.8"><stop offset="0" stop-color="#000000"/><stop offset="0.136" stop-color="#06030b"/><stop offset="0.189" stop-color="#150827"/><stop offset="0.22" stop-color="#230e40"/><stop offset="0.278" stop-color="#531d88"/><stop offset="0.287" stop-color="#5c2093"/><stop offset="0.34" stop-color="#912d84"/><stop offset="0.371" stop-color="#ae3774"/><stop offset="0.438" stop-color="#d14652"/><stop offset="0.544" stop-color="#e65c2c"/><stop offset="0.651" stop-color="#eb6921"/><stop offset="0.78" stop-color="#e96425"/><stop offset="0.838" stop-color="#e05536"/><stop offset="0.949" stop-color="#cc4359"/><stop offset="1" stop-color="#c23f62"/></linearGradient>
<linearGradient id="f22" gradientUnits="userSpaceOnUse" x1="290.0" x2="514.8"><stop offset="0" stop-color="#000000"/><stop offset="0.136" stop-color="#06030b"/><stop offset="0.189" stop-color="#150827"/><stop offset="0.22" stop-color="#230e40"/><stop offset="0.278" stop-color="#541e89"/><stop offset="0.287" stop-color="#5c2094"/><stop offset="0.34" stop-color="#922d84"/><stop offset="0.376" stop-color="#b23871"/><stop offset="0.438" stop-color="#d24751"/><stop offset="0.54" stop-color="#e65d2c"/><stop offset="0.651" stop-color="#ec6b20"/><stop offset="0.776" stop-color="#ec6a21"/><stop offset="0.851" stop-color="#e15635"/><stop offset="1" stop-color="#c8415d"/></linearGradient>
<linearGradient id="f23" gradientUnits="userSpaceOnUse" x1="290.0" x2="514.8"><stop offset="0" stop-color="#000000"/><stop offset="0.136" stop-color="#06030b"/><stop offset="0.189" stop-color="#150827"/><stop offset="0.22" stop-color="#230e41"/><stop offset="0.278" stop-color="#541e89"/><stop offset="0.287" stop-color="#5d2094"/><stop offset="0.336" stop-color="#8e2c86"/><stop offset="0.371" stop-color="#b03773"/><stop offset="0.433" stop-color="#d14652"/><stop offset="0.531" stop-color="#e65c2c"/><stop offset="0.647" stop-color="#ed6d1e"/><stop offset="0.776" stop-color="#ed6e1d"/><stop offset="0.887" stop-color="#de533a"/><stop offset="1" stop-color="#ce4457"/></linearGradient>
<linearGradient id="f24" gradientUnits="userSpaceOnUse" x1="290.0" x2="514.8"><stop offset="0" stop-color="#000000"/><stop offset="0.136" stop-color="#06030b"/><stop offset="0.189" stop-color="#150827"/><stop offset="0.22" stop-color="#230e41"/><stop offset="0.282" stop-color="#591f8f"/><stop offset="0.291" stop-color="#612193"/><stop offset="0.34" stop-color="#932e83"/><stop offset="0.376" stop-color="#b33870"/><stop offset="0.438" stop-color="#d34850"/><stop offset="0.531" stop-color="#e65d2c"/><stop offset="0.651" stop-color="#ee6f1c"/><stop offset="0.776" stop-color="#ef711b"/><stop offset="0.922" stop-color="#dd523d"/><stop offset="1" stop-color="#d24750"/></linearGradient>
<linearGradient id="f25" gradientUnits="userSpaceOnUse" x1="290.0" x2="514.8"><stop offset="0" stop-color="#000000"/><stop offset="0.136" stop-color="#06030b"/><stop offset="0.189" stop-color="#150827"/><stop offset="0.22" stop-color="#230e41"/><stop offset="0.282" stop-color="#591f8f"/><stop offset="0.291" stop-color="#612193"/><stop offset="0.34" stop-color="#932e83"/><stop offset="0.376" stop-color="#b33870"/><stop offset="0.433" stop-color="#d24751"/><stop offset="0.527" stop-color="#e65c2c"/><stop offset="0.656" stop-color="#ef711b"/><stop offset="0.776" stop-color="#f07418"/><stop offset="0.94" stop-color="#de533b"/><stop offset="1" stop-color="#d64b49"/></linearGradient>
<linearGradient id="f26" gradientUnits="userSpaceOnUse" x1="290.0" x2="514.8"><stop offset="0" stop-color="#000000"/><stop offset="0.136" stop-color="#06030b"/><stop offset="0.189" stop-color="#150827"/><stop offset="0.22" stop-color="#230e41"/><stop offset="0.282" stop-color="#591f8f"/><stop offset="0.291" stop-color="#612193"/><stop offset="0.34" stop-color="#932e83"/><stop offset="0.376" stop-color="#b33870"/><stop offset="0.433" stop-color="#d24751"/><stop offset="0.522" stop-color="#e65c2c"/><stop offset="0.66" stop-color="#ef7219"/><stop offset="0.78" stop-color="#f07518"/><stop offset="0.962" stop-color="#df5439"/><stop offset="1" stop-color="#da4f41"/></linearGradient>
<linearGradient id="f27" gradientUnits="userSpaceOnUse" x1="290.0" x2="514.8"><stop offset="0" stop-color="#000000"/><stop offset="0.136" stop-color="#06030b"/><stop offset="0.189" stop-color="#150827"/><stop offset="0.22" stop-color="#230e41"/><stop offset="0.282" stop-color="#591f8f"/><stop offset="0.291" stop-color="#612193"/><stop offset="0.34" stop-color="#932e83"/><stop offset="0.376" stop-color="#b33870"/><stop offset="0.433" stop-color="#d24751"/><stop offset="0.522" stop-color="#e65c2c"/><stop offset="0.673" stop-color="#f07518"/><stop offset="0.78" stop-color="#f17818"/><stop offset="0.967" stop-color="#e25733"/><stop offset="1" stop-color="#df5439"/></linearGradient>
<linearGradient id="f28" gradientUnits="userSpaceOnUse" x1="290.0" x2="514.8"><stop offset="0" stop-color="#000000"/><stop offset="0.136" stop-color="#06030b"/><stop offset="0.189" stop-color="#150827"/><stop offset="0.22" stop-color="#230e41"/><stop offset="0.282" stop-color="#591f8f"/><stop offset="0.291" stop-color="#612193"/><stop offset="0.34" stop-color="#932e83"/><stop offset="0.376" stop-color="#b33870"/><stop offset="0.433" stop-color="#d24751"/><stop offset="0.518" stop-color="#e65c2c"/><stop offset="0.669" stop-color="#f07618"/><stop offset="0.78" stop-color="#f17917"/><stop offset="0.864" stop-color="#ec6b20"/><stop offset="1" stop-color="#e35831"/></linearGradient>
<linearGradient id="f29" gradientUnits="userSpaceOnUse" x1="290.0" x2="514.8"><stop offset="0" stop-color="#000000"/><stop offset="0.136" stop-color="#06030b"/><stop offset="0.189" stop-color="#150827"/><stop offset="0.22" stop-color="#230e41"/><stop offset="0.282" stop-color="#591f8f"/><stop offset="0.291" stop-color="#612193"/><stop offset="0.34" stop-color="#932e83"/><stop offset="0.376" stop-color="#b33870"/><stop offset="0.433" stop-color="#d24751"/><stop offset="0.518" stop-color="#e65c2c"/><stop offset="0.664" stop-color="#f17618"/><stop offset="0.776" stop-color="#f27b17"/><stop offset="0.873" stop-color="#ed6d1e"/><stop offset="1" stop-color="#e65d2b"/></linearGradient>
<linearGradient id="f30" gradientUnits="userSpaceOnUse" x1="290.0" x2="514.8"><stop offset="0" stop-color="#000000"/><stop offset="0.136" stop-color="#06030b"/><stop offset="0.189" stop-color="#150827"/><stop offset="0.22" stop-color="#230e41"/><stop offset="0.282" stop-color="#591f8f"/><stop offset="0.291" stop-color="#612193"/><stop offset="0.34" stop-color="#932e83"/><stop offset="0.371" stop-color="#b03773"/><stop offset="0.433" stop-color="#d24751"/><stop offset="0.518" stop-color="#e65d2c"/><stop offset="0.66" stop-color="#f17618"/><stop offset="0.771" stop-color="#f27d17"/><stop offset="0.896" stop-color="#ed6d1e"/><stop offset="1" stop-color="#e86227"/></linearGradient>
<linearGradient id="f31" gradientUnits="userSpaceOnUse" x1="290.0" x2="514.8"><stop offset="0" stop-color="#000000"/><stop offset="0.136" stop-color="#06030b"/><stop offset="0.189" stop-color="#150827"/><stop offset="0.22" stop-color="#230e41"/><stop offset="0.282" stop-color="#591f8f"/><stop offset="0.291" stop-color="#612193"/><stop offset="0.34" stop-color="#932e83"/><stop offset="0.371" stop-color="#b03773"/><stop offset="0.433" stop-color="#d24751"/><stop offset="0.513" stop-color="#e65c2d"/><stop offset="0.656" stop-color="#f17618"/><stop offset="0.771" stop-color="#f37e17"/><stop offset="0.931" stop-color="#ed6d1e"/><stop offset="1" stop-color="#ea6624"/></linearGradient>
<linearGradient id="f32" gradientUnits="userSpaceOnUse" x1="290.0" x2="514.8"><stop offset="0" stop-color="#000000"/><stop offset="0.136" stop-color="#06030b"/><stop offset="0.189" stop-color="#150827"/><stop offset="0.22" stop-color="#230e41"/><stop offset="0.282" stop-color="#581f8f"/><stop offset="0.291" stop-color="#612193"/><stop offset="0.34" stop-color="#932e83"/><stop offset="0.376" stop-color="#b33870"/><stop offset="0.433" stop-color="#d24751"/><stop offset="0.513" stop-color="#e65c2d"/><stop offset="0.651" stop-color="#f17618"/><stop offset="0.767" stop-color="#f37f16"/><stop offset="0.958" stop-color="#ed6e1d"/><stop offset="1" stop-color="#ec6a20"/></linearGradient>
<linearGradient id="f33" gradientUnits="userSpaceOnUse" x1="290.0" x2="514.8"><stop offset="0" stop-color="#000000"/><stop offset="0.136" stop-color="#06030b"/><stop offset="0.189" stop-color="#150827"/><stop offset="0.22" stop-color="#230e41"/><stop offset="0.278" stop-color="#541e89"/><stop offset="0.287" stop-color="#5c2094"/><stop offset="0.336" stop-color="#8e2c86"/><stop offset="0.371" stop-color="#af3773"/><stop offset="0.433" stop-color="#d24751"/><stop offset="0.518" stop-color="#e65d2c"/><stop offset="0.647" stop-color="#f17618"/><stop offset="0.767" stop-color="#f38016"/><stop offset="0.984" stop-color="#ee6f1c"/><stop offset="1" stop-color="#ed6e1d"/></linearGradient>
<linearGradient id="f34" gradientUnits="userSpaceOnUse" x1="290.0" x2="514.8"><stop offset="0" stop-color="#000000"/><stop offset="0.136" stop-color="#06030b"/><stop offset="0.189" stop-color="#150827"/><stop offset="0.22" stop-color="#230e41"/><stop offset="0.278" stop-color="#531d88"/><stop offset="0.287" stop-color="#5c2093"/><stop offset="0.336" stop-color="#8d2c86"/><stop offset="0.371" stop-color="#ae3774"/><stop offset="0.438" stop-color="#d3484f"/><stop offset="0.518" stop-color="#e65d2c"/><stop offset="0.642" stop-color="#f17618"/><stop offset="0.767" stop-color="#f38016"/><stop offset="1" stop-color="#ef711a"/></linearGradient>
<linearGradient id="f35" gradientUnits="userSpaceOnUse" x1="290.0" x2="514.8"><stop offset="0" stop-color="#000000"/><stop offset="0.136" stop-color="#06030b"/><stop offset="0.189" stop-color="#150827"/><stop offset="0.22" stop-color="#230e40"/><stop offset="0.278" stop-color="#521d87"/><stop offset="0.291" stop-color="#5f2193"/><stop offset="0.344" stop-color="#942e83"/><stop offset="0.376" stop-color="#b03772"/><stop offset="0.438" stop-color="#d24750"/><stop offset="0.518" stop-color="#e65c2c"/><stop offset="0.638" stop-color="#f17618"/><stop offset="0.762" stop-color="#f48116"/><stop offset="1" stop-color="#f07418"/></linearGradient>
<linearGradient id="f36" gradientUnits="userSpaceOnUse" x1="290.0" x2="514.8"><stop offset="0" stop-color="#000000"/><stop offset="0.136" stop-color="#06030b"/><stop offset="0.193" stop-color="#17092a"/><stop offset="0.224" stop-color="#260f45"/><stop offset="0.287" stop-color="#5a1f91"/><stop offset="0.304" stop-color="#6b2391"/><stop offset="0.349" stop-color="#972f82"/><stop offset="0.38" stop-color="#b23871"/><stop offset="0.442" stop-color="#d3484f"/><stop offset="0.522" stop-color="#e65d2b"/><stop offset="0.633" stop-color="#f17618"/><stop offset="0.762" stop-color="#f48216"/><stop offset="1" stop-color="#f17718"/></linearGradient>
<linearGradient id="f37" gradientUnits="userSpaceOnUse" x1="290.0" x2="514.8"><stop offset="0" stop-color="#000000"/><stop offset="0.136" stop-color="#06030b"/><stop offset="0.193" stop-color="#17092a"/><stop offset="0.224" stop-color="#260f45"/><stop offset="0.287" stop-color="#581f8f"/><stop offset="0.296" stop-color="#612193"/><stop offset="0.344" stop-color="#912d84"/><stop offset="0.38" stop-color="#b13872"/><stop offset="0.442" stop-color="#d24750"/><stop offset="0.522" stop-color="#e65d2b"/><stop offset="0.633" stop-color="#f17618"/><stop offset="0.762" stop-color="#f48216"/><stop offset="0.984" stop-color="#f27a17"/><stop offset="1" stop-color="#f17917"/></linearGradient>
<linearGradient id="f38" gradientUnits="userSpaceOnUse" x1="290.0" x2="514.8"><stop offset="0" stop-color="#000000"/><stop offset="0.136" stop-color="#06030b"/><stop offset="0.193" stop-color="#17092a"/><stop offset="0.229" stop-color="#291049"/><stop offset="0.291" stop-color="#5b2093"/><stop offset="0.344" stop-color="#8f2c85"/><stop offset="0.38" stop-color="#af3773"/><stop offset="0.442" stop-color="#d24751"/><stop offset="0.522" stop-color="#e65d2b"/><stop offset="0.633" stop-color="#f17718"/><stop offset="0.762" stop-color="#f48316"/><stop offset="0.976" stop-color="#f27d17"/><stop offset="1" stop-color="#f27b17"/></linearGradient>
<linearGradient id="f39" gradientUnits="userSpaceOnUse" x1="290.0" x2="514.8"><stop offset="0" stop-color="#000000"/><stop offset="0.136" stop-color="#06030b"/><stop offset="0.193" stop-color="#17092a"/><stop offset="0.229" stop-color="#281049"/><stop offset="0.291" stop-color="#5a1f91"/><stop offset="0.336" stop-color="#84298a"/><stop offset="0.38" stop-color="#ae3774"/><stop offset="0.447" stop-color="#d3484f"/><stop offset="0.522" stop-color="#e65d2c"/><stop offset="0.629" stop-color="#f17618"/><stop offset="0.762" stop-color="#f48316"/><stop offset="0.976" stop-color="#f37f17"/><stop offset="1" stop-color="#f27d17"/></linearGradient>
<linearGradient id="f40" gradientUnits="userSpaceOnUse" x1="290.0" x2="514.8"><stop offset="0" stop-color="#000000"/><stop offset="0.136" stop-color="#06030b"/><stop offset="0.193" stop-color="#17092a"/><stop offset="0.229" stop-color="#281048"/><stop offset="0.296" stop-color="#5d2094"/><stop offset="0.349" stop-color="#902d85"/><stop offset="0.384" stop-color="#b03773"/><stop offset="0.447" stop-color="#d24750"/><stop offset="0.527" stop-color="#e75e2b"/><stop offset="0.629" stop-color="#f17618"/><stop offset="0.762" stop-color="#f48416"/><stop offset="0.971" stop-color="#f38016"/><stop offset="1" stop-color="#f37e17"/></linearGradient>
<linearGradient id="f41" gradientUnits="userSpaceOnUse" x1="290.0" x2="514.8"><stop offset="0" stop-color="#000000"/><stop offset="0.136" stop-color="#06030b"/><stop offset="0.193" stop-color="#160929"/><stop offset="0.229" stop-color="#270f47"/><stop offset="0.296" stop-color="#5b2093"/><stop offset="0.349" stop-color="#8e2c86"/><stop offset="0.384" stop-color="#ae3774"/><stop offset="0.451" stop-color="#d3484f"/><stop offset="0.527" stop-color="#e75e2b"/><stop offset="0.629" stop-color="#f17618"/><stop offset="0.762" stop-color="#f48416"/><stop offset="0.971" stop-color="#f48216"/><stop offset="1" stop-color="#f38016"/></linearGradient>
<linearGradient id="f42" gradientUnits="userSpaceOnUse" x1="290.0" x2="514.8"><stop offset="0" stop-color="#000000"/><stop offset="0.136" stop-color="#06030b"/><stop offset="0.193" stop-color="#160929"/><stop offset="0.229" stop-color="#270f46"/><stop offset="0.3" stop-color="#5d2094"/><stop offset="0.353" stop-color="#902d85"/><stop offset="0.389" stop-color="#b03773"/><stop offset="0.451" stop-color="#d24750"/><stop offset="0.527" stop-color="#e65d2b"/><stop offset="0.629" stop-color="#f17718"/><stop offset="0.767" stop-color="#f58516"/><stop offset="0.971" stop-color="#f48316"/><stop offset="1" stop-color="#f48116"/></linearGradient>
<linearGradient id="f43" gradientUnits="userSpaceOnUse" x1="290.0" x2="514.8"><stop offset="0" stop-color="#000000"/><stop offset="0.136" stop-color="#06030b"/><stop offset="0.198" stop-color="#17092b"/><stop offset="0.233" stop-color="#29104a"/><stop offset="0.3" stop-color="#5c2093"/><stop offset="0.353" stop-color="#8e2c86"/><stop offset="0.389" stop-color="#ae3774"/><stop offset="0.456" stop-color="#d3484f"/><stop offset="0.531" stop-color="#e75e2a"/><stop offset="0.629" stop-color="#f17718"/><stop offset="0.767" stop-color="#f58616"/><stop offset="0.971" stop-color="#f48416"/><stop offset="1" stop-color="#f48316"/></linearGradient>
<linearGradient id="f44" gradientUnits="userSpaceOnUse" x1="290.0" x2="514.8"><stop offset="0" stop-color="#000000"/><stop offset="0.136" stop-color="#06020b"/><stop offset="0.198" stop-color="#17092a"/><stop offset="0.233" stop-color="#281049"/><stop offset="0.304" stop-color="#5d2094"/><stop offset="0.358" stop-color="#902d85"/><stop offset="0.393" stop-color="#b03773"/><stop offset="0.456" stop-color="#d24750"/><stop offset="0.531" stop-color="#e75e2b"/><stop offset="0.629" stop-color="#f17718"/><stop offset="0.771" stop-color="#f58615"/><stop offset="0.976" stop-color="#f58516"/><stop offset="1" stop-color="#f48416"/></linearGradient>
<linearGradient id="f45" gradientUnits="userSpaceOnUse" x1="290.0" x2="514.8"><stop offset="0" stop-color="#000000"/><stop offset="0.136" stop-color="#06020b"/><stop offset="0.198" stop-color="#160929"/><stop offset="0.233" stop-color="#270f47"/><stop offset="0.304" stop-color="#5b2093"/><stop offset="0.358" stop-color="#8d2c86"/><stop offset="0.393" stop-color="#ae3674"/><stop offset="0.46" stop-color="#d3484f"/><stop offset="0.536" stop-color="#e75f2a"/><stop offset="0.629" stop-color="#f17718"/><stop offset="0.771" stop-color="#f58715"/><stop offset="0.98" stop-color="#f58616"/><stop offset="1" stop-color="#f58516"/></linearGradient>
<linearGradient id="f46" gradientUnits="userSpaceOnUse" x1="290.0" x2="514.8"><stop offset="0" stop-color="#000000"/><stop offset="0.136" stop-color="#06020b"/><stop offset="0.198" stop-color="#160928"/><stop offset="0.233" stop-color="#270f46"/><stop offset="0.309" stop-color="#5d2094"/><stop offset="0.362" stop-color="#8f2d85"/><stop offset="0.398" stop-color="#af3773"/><stop offset="0.464" stop-color="#d4494e"/><stop offset="0.536" stop-color="#e75e2b"/><stop offset="0.629" stop-color="#f17718"/><stop offset="0.776" stop-color="#f58715"/><stop offset="0.989" stop-color="#f58616"/><stop offset="1" stop-color="#f58616"/></linearGradient>
<linearGradient id="f47" gradientUnits="userSpaceOnUse" x1="290.0" x2="514.8"><stop offset="0" stop-color="#000000"/><stop offset="0.14" stop-color="#07030c"/><stop offset="0.207" stop-color="#180a2d"/><stop offset="0.282" stop-color="#461a76"/><stop offset="0.309" stop-color="#5b2093"/><stop offset="0.362" stop-color="#8d2c86"/><stop offset="0.398" stop-color="#ad3675"/><stop offset="0.464" stop-color="#d3484f"/><stop offset="0.54" stop-color="#e75f2a"/><stop offset="0.629" stop-color="#f17718"/><stop offset="0.776" stop-color="#f58715"/><stop offset="1" stop-color="#f58715"/></linearGradient>
<linearGradient id="f48" gradientUnits="userSpaceOnUse" x1="290.0" x2="514.8"><stop offset="0" stop-color="#000000"/><stop offset="0.14" stop-color="#07030c"/><stop offset="0.207" stop-color="#180a2c"/><stop offset="0.282" stop-color="#441974"/><stop offset="0.313" stop-color="#5c2094"/><stop offset="0.367" stop-color="#8e2c86"/><stop offset="0.402" stop-color="#ae3674"/><stop offset="0.469" stop-color="#d3484e"/><stop offset="0.54" stop-color="#e75e2a"/><stop offset="0.629" stop-color="#f17718"/><stop offset="0.776" stop-color="#f58715"/><stop offset="1" stop-color="#f58715"/></linearGradient>
<linearGradient id="f49" gradientUnits="userSpaceOnUse" x1="290.0" x2="514.8"><stop offset="0" stop-color="#000000"/><stop offset="0.14" stop-color="#07030c"/><stop offset="0.207" stop-color="#17092c"/><stop offset="0.287" stop-color="#451975"/><stop offset="0.318" stop-color="#5e2094"/><stop offset="0.371" stop-color="#8f2d85"/><stop offset="0.407" stop-color="#af3774"/><stop offset="0.473" stop-color="#d4494e"/><stop offset="0.544" stop-color="#e75f2a"/><stop offset="0.629" stop-color="#f17718"/><stop offset="0.776" stop-color="#f58715"/><stop offset="1" stop-color="#f58815"/></linearGradient>
<linearGradient id="f50" gradientUnits="userSpaceOnUse" x1="290.0" x2="514.8"><stop offset="0" stop-color="#000000"/><stop offset="0.14" stop-color="#07030c"/><stop offset="0.207" stop-color="#17092b"/><stop offset="0.287" stop-color="#431972"/><stop offset="0.318" stop-color="#5b2093"/><stop offset="0.371" stop-color="#8c2c87"/><stop offset="0.411" stop-color="#af3774"/><stop offset="0.473" stop-color="#d24750"/><stop offset="0.544" stop-color="#e75e2b"/><stop offset="0.629" stop-color="#f17618"/><stop offset="0.78" stop-color="#f58715"/><stop offset="1" stop-color="#f68815"/></linearGradient>
<linearGradient id="f51" gradientUnits="userSpaceOnUse" x1="290.0" x2="514.8"><stop offset="0" stop-color="#000000"/><stop offset="0.14" stop-color="#06030b"/><stop offset="0.207" stop-color="#16092a"/><stop offset="0.296" stop-color="#471a78"/><stop offset="0.322" stop-color="#5c2094"/><stop offset="0.38" stop-color="#912d84"/><stop offset="0.416" stop-color="#af3773"/><stop offset="0.478" stop-color="#d24750"/><stop offset="0.549" stop-color="#e75e2a"/><stop offset="0.633" stop-color="#f17618"/><stop offset="0.784" stop-color="#f58715"/><stop offset="1" stop-color="#f68915"/></linearGradient>
<linearGradient id="f52" gradientUnits="userSpaceOnUse" x1="290.0" x2="514.8"><stop offset="0" stop-color="#000000"/><stop offset="0.14" stop-color="#06020b"/><stop offset="0.207" stop-color="#160929"/><stop offset="0.296" stop-color="#441974"/><stop offset="0.327" stop-color="#5d2094"/><stop offset="0.384" stop-color="#912d84"/><stop offset="0.42" stop-color="#af3773"/><stop offset="0.482" stop-color="#d34850"/><stop offset="0.553" stop-color="#e75f2a"/><stop offset="0.633" stop-color="#f17618"/><stop offset="0.793" stop-color="#f58715"/><stop offset="1" stop-color="#f68915"/></linearGradient>
<linearGradient id="f53" gradientUnits="userSpaceOnUse" x1="290.0" x2="514.8"><stop offset="0" stop-color="#000000"/><stop offset="0.14" stop-color="#06020b"/><stop offset="0.211" stop-color="#17092b"/><stop offset="0.304" stop-color="#481a79"/><stop offset="0.331" stop-color="#5e2094"/><stop offset="0.389" stop-color="#922d84"/><stop offset="0.429" stop-color="#b23871"/><stop offset="0.487" stop-color="#d34850"/><stop offset="0.558" stop-color="#e75f2a"/><stop offset="0.638" stop-color="#f17618"/><stop offset="0.807" stop-color="#f58815"/><stop offset="1" stop-color="#f68a15"/></linearGradient>
<linearGradient id="f54" gradientUnits="userSpaceOnUse" x1="290.0" x2="514.8"><stop offset="0" stop-color="#000000"/><stop offset="0.144" stop-color="#06030c"/><stop offset="0.216" stop-color="#180a2d"/><stop offset="0.304" stop-color="#451975"/><stop offset="0.336" stop-color="#5e2193"/><stop offset="0.393" stop-color="#922d84"/><stop offset="0.433" stop-color="#b23871"/><stop offset="0.491" stop-color="#d24750"/><stop offset="0.558" stop-color="#e75e2b"/><stop offset="0.642" stop-color="#f17618"/><stop offset="0.82" stop-color="#f68815"/><stop offset="1" stop-color="#f68a15"/></linearGradient>
<linearGradient id="f55" gradientUnits="userSpaceOnUse" x1="290.0" x2="514.8"><stop offset="0" stop-color="#000000"/><stop offset="0.144" stop-color="#06020b"/><stop offset="0.216" stop-color="#17092c"/><stop offset="0.309" stop-color="#461976"/><stop offset="0.336" stop-color="#5b2093"/><stop offset="0.393" stop-color="#8d2c86"/><stop offset="0.433" stop-color="#af3773"/><stop offset="0.496" stop-color="#d24750"/><stop offset="0.562" stop-color="#e75e2a"/><stop offset="0.642" stop-color="#f07518"/><stop offset="0.829" stop-color="#f68915"/><stop offset="1" stop-color="#f68a15"/></linearGradient>
<linearGradient id="f56" gradientUnits="userSpaceOnUse" x1="290.0" x2="514.8"><stop offset="0" stop-color="#000000"/><stop offset="0.144" stop-color="#06020b"/><stop offset="0.216" stop-color="#17092a"/><stop offset="0.309" stop-color="#431973"/><stop offset="0.34" stop-color="#5c2094"/><stop offset="0.402" stop-color="#912d84"/><stop offset="0.442" stop-color="#b23871"/><stop offset="0.5" stop-color="#d24750"/><stop offset="0.567" stop-color="#e75f2a"/><stop offset="0.647" stop-color="#f07618"/><stop offset="0.847" stop-color="#f68915"/><stop offset="1" stop-color="#f68a15"/></linearGradient>
<linearGradient id="f57" gradientUnits="userSpaceOnUse" x1="290.0" x2="514.8"><stop offset="0" stop-color="#000000"/><stop offset="0.144" stop-color="#06020b"/><stop offset="0.216" stop-color="#160929"/><stop offset="0.309" stop-color="#41186f"/><stop offset="0.344" stop-color="#5d2094"/><stop offset="0.407" stop-color="#912d84"/><stop offset="0.447" stop-color="#b23871"/><stop offset="0.504" stop-color="#d24750"/><stop offset="0.567" stop-color="#e65d2b"/><stop offset="0.651" stop-color="#f07518"/><stop offset="0.86" stop-color="#f68a15"/><stop offset="1" stop-color="#f68a15"/></linearGradient>
<linearGradient id="f58" gradientUnits="userSpaceOnUse" x1="290.0" x2="514.8"><stop offset="0" stop-color="#000000"/><stop offset="0.144" stop-color="#06020a"/><stop offset="0.216" stop-color="#160928"/><stop offset="0.313" stop-color="#411870"/><stop offset="0.349" stop-color="#5d2094"/><stop offset="0.411" stop-color="#912d84"/><stop offset="0.451" stop-color="#b23871"/><stop offset="0.513" stop-color="#d4494d"/><stop offset="0.571" stop-color="#e75e2b"/><stop offset="0.656" stop-color="#f07518"/><stop offset="0.873" stop-color="#f68915"/><stop offset="1" stop-color="#f68a15"/></linearGradient>
<linearGradient id="f59" gradientUnits="userSpaceOnUse" x1="290.0" x2="514.8"><stop offset="0" stop-color="#000000"/><stop offset="0.149" stop-color="#06020b"/><stop offset="0.216" stop-color="#150827"/><stop offset="0.313" stop-color="#3f176c"/><stop offset="0.353" stop-color="#5d2094"/><stop offset="0.411" stop-color="#8c2c87"/><stop offset="0.456" stop-color="#b23871"/><stop offset="0.518" stop-color="#d4494d"/><stop offset="0.576" stop-color="#e75e2b"/><stop offset="0.664" stop-color="#f07518"/><stop offset="0.882" stop-color="#f68915"/><stop offset="1" stop-color="#f68915"/></linearGradient>
<linearGradient id="f60" gradientUnits="userSpaceOnUse" x1="290.0" x2="514.8"><stop offset="0" stop-color="#000000"/><stop offset="0.149" stop-color="#06020b"/><stop offset="0.216" stop-color="#140825"/><stop offset="0.313" stop-color="#3c1769"/><stop offset="0.358" stop-color="#5d2094"/><stop offset="0.42" stop-color="#902d85"/><stop offset="0.46" stop-color="#b13871"/><stop offset="0.522" stop-color="#d4494d"/><stop offset="0.58" stop-color="#e75e2b"/><stop offset="0.673" stop-color="#f07518"/><stop offset="0.887" stop-color="#f58815"/><stop offset="1" stop-color="#f68915"/></linearGradient>
<linearGradient id="f61" gradientUnits="userSpaceOnUse" x1="290.0" x2="514.8"><stop offset="0" stop-color="#000000"/><stop offset="0.149" stop-color="#06020a"/><stop offset="0.216" stop-color="#130824"/><stop offset="0.313" stop-color="#3a1665"/><stop offset="0.362" stop-color="#5c2094"/><stop offset="0.424" stop-color="#8f2d85"/><stop offset="0.464" stop-color="#b13872"/><stop offset="0.527" stop-color="#d4494d"/><stop offset="0.584" stop-color="#e65d2b"/><stop offset="0.687" stop-color="#f07618"/><stop offset="0.9" stop-color="#f58715"/><stop offset="1" stop-color="#f68815"/></linearGradient>
<linearGradient id="f62" gradientUnits="userSpaceOnUse" x1="290.0" x2="514.8"><stop offset="0" stop-color="#000000"/><stop offset="0.149" stop-color="#05020a"/><stop offset="0.216" stop-color="#130823"/><stop offset="0.313" stop-color="#381562"/><stop offset="0.367" stop-color="#5c2094"/><stop offset="0.429" stop-color="#8f2c85"/><stop offset="0.469" stop-color="#b13872"/><stop offset="0.531" stop-color="#d4494d"/><stop offset="0.589" stop-color="#e65d2b"/><stop offset="0.696" stop-color="#f07518"/><stop offset="0.909" stop-color="#f58615"/><stop offset="1" stop-color="#f58815"/></linearGradient>
<linearGradient id="f63" gradientUnits="userSpaceOnUse" x1="290.0" x2="514.8"><stop offset="0" stop-color="#000000"/><stop offset="0.153" stop-color="#06020a"/><stop offset="0.22" stop-color="#140824"/><stop offset="0.318" stop-color="#381562"/><stop offset="0.371" stop-color="#5b2093"/><stop offset="0.429" stop-color="#8a2b88"/><stop offset="0.469" stop-color="#ae3675"/><stop offset="0.536" stop-color="#d4494e"/><stop offset="0.593" stop-color="#e65d2c"/><stop offset="0.709" stop-color="#f07518"/><stop offset="0.922" stop-color="#f58616"/><stop offset="1" stop-color="#f58715"/></linearGradient>
<linearGradient id="f64" gradientUnits="userSpaceOnUse" x1="290.0" x2="514.8"><stop offset="0" stop-color="#000000"/><stop offset="0.153" stop-color="#06020a"/><stop offset="0.22" stop-color="#130823"/><stop offset="0.318" stop-color="#36145f"/><stop offset="0.38" stop-color="#5e2094"/><stop offset="0.438" stop-color="#8e2c86"/><stop offset="0.478" stop-color="#b03773"/><stop offset="0.54" stop-color="#d3484e"/><stop offset="0.602" stop-color="#e65d2b"/><stop offset="0.727" stop-color="#f17618"/><stop offset="0.94" stop-color="#f58616"/><stop offset="1" stop-color="#f58715"/></linearGradient>
<linearGradient id="f65" gradientUnits="userSpaceOnUse" x1="290.0" x2="514.8"><stop offset="0" stop-color="#000000"/><stop offset="0.153" stop-color="#05020a"/><stop offset="0.22" stop-color="#120721"/><stop offset="0.318" stop-color="#33145b"/><stop offset="0.384" stop-color="#5d2094"/><stop offset="0.442" stop-color="#8d2c86"/><stop offset="0.482" stop-color="#af3773"/><stop offset="0.549" stop-color="#d54a4c"/><stop offset="0.607" stop-color="#e65d2c"/><stop offset="0.74" stop-color="#f17618"/><stop offset="0.953" stop-color="#f58516"/><stop offset="1" stop-color="#f58616"/></linearGradient>
<linearGradient id="f66" gradientUnits="userSpaceOnUse" x1="290.0" x2="514.8"><stop offset="0" stop-color="#000000"/><stop offset="0.153" stop-color="#050209"/><stop offset="0.22" stop-color="#110720"/><stop offset="0.318" stop-color="#311357"/><stop offset="0.389" stop-color="#5d2094"/><stop offset="0.447" stop-color="#8c2c86"/><stop offset="0.487" stop-color="#af3774"/><stop offset="0.553" stop-color="#d4494d"/><stop offset="0.616" stop-color="#e65d2b"/><stop offset="0.753" stop-color="#f17618"/><stop offset="0.967" stop-color="#f58516"/><stop offset="1" stop-color="#f58516"/></linearGradient>
<linearGradient id="f67" gradientUnits="userSpaceOnUse" x1="290.0" x2="514.8"><stop offset="0" stop-color="#000000"/><stop offset="0.158" stop-color="#05020a"/><stop offset="0.22" stop-color="#11071f"/><stop offset="0.318" stop-color="#2f1254"/><stop offset="0.393" stop-color="#5c2094"/><stop offset="0.456" stop-color="#902d85"/><stop offset="0.496" stop-color="#b03773"/><stop offset="0.558" stop-color="#d3484e"/><stop offset="0.62" stop-color="#e65c2d"/><stop offset="0.767" stop-color="#f17618"/><stop offset="0.976" stop-color="#f48416"/><stop offset="1" stop-color="#f48416"/></linearGradient>
<linearGradient id="f68" gradientUnits="userSpaceOnUse" x1="290.0" x2="514.8"><stop offset="0" stop-color="#000000"/><stop offset="0.158" stop-color="#050209"/><stop offset="0.22" stop-color="#10061e"/><stop offset="0.318" stop-color="#2d1150"/><stop offset="0.398" stop-color="#5c2094"/><stop offset="0.46" stop-color="#8e2c86"/><stop offset="0.5" stop-color="#af3774"/><stop offset="0.567" stop-color="#d4494d"/><stop offset="0.629" stop-color="#e65b2d"/><stop offset="0.78" stop-color="#f17618"/><stop offset="0.984" stop-color="#f48316"/><stop offset="1" stop-color="#f48316"/></linearGradient>
<linearGradient id="f69" gradientUnits="userSpaceOnUse" x1="290.0" x2="514.8"><stop offset="0" stop-color="#000000"/><stop offset="0.158" stop-color="#050209"/><stop offset="0.22" stop-color="#10061c"/><stop offset="0.313" stop-color="#281049"/><stop offset="0.384" stop-color="#4f1c83"/><stop offset="0.402" stop-color="#5c2093"/><stop offset="0.464" stop-color="#8d2c86"/><stop offset="0.509" stop-color="#b03773"/><stop offset="0.571" stop-color="#d3484e"/><stop offset="0.638" stop-color="#e55b2d"/><stop offset="0.793" stop-color="#f17618"/><stop offset="1" stop-color="#f48216"/></linearGradient>
<linearGradient id="f70" gradientUnits="userSpaceOnUse" x1="290.0" x2="514.8"><stop offset="0" stop-color="#000000"/><stop offset="0.158" stop-color="#050208"/><stop offset="0.22" stop-color="#0f061b"/><stop offset="0.313" stop-color="#260f45"/><stop offset="0.384" stop-color="#4c1b7e"/><stop offset="0.411" stop-color="#5e2094"/><stop offset="0.473" stop-color="#8f2c85"/><stop offset="0.522" stop-color="#b4396f"/><stop offset="0.58" stop-color="#d4494e"/><stop offset="0.651" stop-color="#e65b2d"/><stop offset="0.807" stop-color="#f17718"/><stop offset="1" stop-color="#f38016"/></linearGradient>
<linearGradient id="f71" gradientUnits="userSpaceOnUse" x1="290.0" x2="514.8"><stop offset="0" stop-color="#000000"/><stop offset="0.162" stop-color="#050209"/><stop offset="0.224" stop-color="#0f061c"/><stop offset="0.313" stop-color="#240e42"/><stop offset="0.384" stop-color="#491a7a"/><stop offset="0.416" stop-color="#5e2094"/><stop offset="0.482" stop-color="#902d85"/><stop offset="0.531" stop-color="#b5396e"/><stop offset="0.584" stop-color="#d24750"/><stop offset="0.66" stop-color="#e55b2d"/><stop offset="0.82" stop-color="#f17718"/><stop offset="1" stop-color="#f37f17"/></linearGradient>
<linearGradient id="f72" gradientUnits="userSpaceOnUse" x1="290.0" x2="514.8"><stop offset="0" stop-color="#000000"/><stop offset="0.162" stop-color="#050208"/><stop offset="0.224" stop-color="#0f061b"/><stop offset="0.318" stop-color="#240e42"/><stop offset="0.389" stop-color="#481a7a"/><stop offset="0.42" stop-color="#5d2094"/><stop offset="0.487" stop-color="#8e2c86"/><stop offset="0.536" stop-color="#b33870"/><stop offset="0.593" stop-color="#d3484f"/><stop offset="0.678" stop-color="#e65c2c"/><stop offset="0.833" stop-color="#f17718"/><stop offset="1" stop-color="#f37d17"/></linearGradient>
<linearGradient id="f73" gradientUnits="userSpaceOnUse" x1="290.0" x2="514.8"><stop offset="0" stop-color="#000000"/><stop offset="0.162" stop-color="#050208"/><stop offset="0.224" stop-color="#0e061a"/><stop offset="0.318" stop-color="#220d3e"/><stop offset="0.393" stop-color="#481a79"/><stop offset="0.424" stop-color="#5c2094"/><stop offset="0.496" stop-color="#8f2c85"/><stop offset="0.544" stop-color="#b4396f"/><stop offset="0.602" stop-color="#d3484f"/><stop offset="0.691" stop-color="#e65c2c"/><stop offset="0.847" stop-color="#f17618"/><stop offset="1" stop-color="#f27c17"/></linearGradient>
<linearGradient id="f74" gradientUnits="userSpaceOnUse" x1="290.0" x2="514.8"><stop offset="0" stop-color="#000000"/><stop offset="0.167" stop-color="#050209"/><stop offset="0.229" stop-color="#0f061b"/><stop offset="0.322" stop-color="#220d3e"/><stop offset="0.398" stop-color="#481a78"/><stop offset="0.433" stop-color="#5e2094"/><stop offset="0.504" stop-color="#902d85"/><stop offset="0.549" stop-color="#b23871"/><stop offset="0.611" stop-color="#d34850"/><stop offset="0.704" stop-color="#e65c2c"/><stop offset="0.864" stop-color="#f17618"/><stop offset="1" stop-color="#f27b17"/></linearGradient>
<linearGradient id="f75" gradientUnits="userSpaceOnUse" x1="290.0" x2="514.8"><stop offset="0" stop-color="#000000"/><stop offset="0.167" stop-color="#050209"/><stop offset="0.233" stop-color="#0f061c"/><stop offset="0.322" stop-color="#200d3c"/><stop offset="0.407" stop-color="#491b7b"/><stop offset="0.438" stop-color="#5c2094"/><stop offset="0.509" stop-color="#8d2c86"/><stop offset="0.553" stop-color="#b03773"/><stop offset="0.62" stop-color="#d24750"/><stop offset="0.722" stop-color="#e65d2b"/><stop offset="0.878" stop-color="#f07518"/><stop offset="1" stop-color="#f17917"/></linearGradient>
<linearGradient id="f76" gradientUnits="userSpaceOnUse" x1="290.0" x2="514.8"><stop offset="0" stop-color="#000000"/><stop offset="0.167" stop-color="#050208"/><stop offset="0.233" stop-color="#0f061b"/><stop offset="0.327" stop-color="#200d3c"/><stop offset="0.416" stop-color="#4b1b7d"/><stop offset="0.447" stop-color="#5d2094"/><stop offset="0.518" stop-color="#8d2c86"/><stop offset="0.562" stop-color="#b03772"/><stop offset="0.629" stop-color="#d24751"/><stop offset="0.736" stop-color="#e65c2c"/><stop offset="0.891" stop-color="#f07418"/><stop offset="1" stop-color="#f17817"/></linearGradient>
<linearGradient id="f77" gradientUnits="userSpaceOnUse" x1="290.0" x2="514.8"><stop offset="0" stop-color="#000000"/><stop offset="0.171" stop-color="#050209"/><stop offset="0.247" stop-color="#11071f"/><stop offset="0.327" stop-color="#1f0c39"/><stop offset="0.424" stop-color="#4c1b7e"/><stop offset="0.456" stop-color="#5d2094"/><stop offset="0.527" stop-color="#8e2c86"/><stop offset="0.571" stop-color="#b13872"/><stop offset="0.638" stop-color="#d14653"/><stop offset="0.753" stop-color="#e65c2c"/><stop offset="0.9" stop-color="#ef7319"/><stop offset="1" stop-color="#f17718"/></linearGradient>
<linearGradient id="f78" gradientUnits="userSpaceOnUse" x1="290.0" x2="514.8"><stop offset="0" stop-color="#000000"/><stop offset="0.171" stop-color="#050209"/><stop offset="0.309" stop-color="#190a2f"/><stop offset="0.376" stop-color="#301256"/><stop offset="0.464" stop-color="#5d2094"/><stop offset="0.531" stop-color="#8a2b87"/><stop offset="0.576" stop-color="#ae3774"/><stop offset="0.651" stop-color="#d14653"/><stop offset="0.78" stop-color="#e75e2b"/><stop offset="0.918" stop-color="#ef721a"/><stop offset="1" stop-color="#f17618"/></linearGradient>
<linearGradient id="f79" gradientUnits="userSpaceOnUse" x1="290.0" x2="514.8"><stop offset="0" stop-color="#000000"/><stop offset="0.171" stop-color="#050209"/><stop offset="0.313" stop-color="#190a2f"/><stop offset="0.38" stop-color="#301255"/><stop offset="0.473" stop-color="#5d2094"/><stop offset="0.54" stop-color="#8b2b87"/><stop offset="0.584" stop-color="#ae3774"/><stop offset="0.664" stop-color="#d14653"/><stop offset="0.798" stop-color="#e75e2a"/><stop offset="0.944" stop-color="#ef721a"/><stop offset="1" stop-color="#f07518"/></linearGradient>
<linearGradient id="f80" gradientUnits="userSpaceOnUse" x1="290.0" x2="514.8"><stop offset="0" stop-color="#000000"/><stop offset="0.176" stop-color="#050209"/><stop offset="0.327" stop-color="#1b0b33"/><stop offset="0.442" stop-color="#491a7a"/><stop offset="0.482" stop-color="#5d2094"/><stop offset="0.549" stop-color="#8b2b87"/><stop offset="0.593" stop-color="#ae3774"/><stop offset="0.682" stop-color="#d14653"/><stop offset="0.816" stop-color="#e75f2a"/><stop offset="0.984" stop-color="#ef7319"/><stop offset="1" stop-color="#f07319"/></linearGradient>
<linearGradient id="f81" gradientUnits="userSpaceOnUse" x1="290.0" x2="514.8"><stop offset="0" stop-color="#000000"/><stop offset="0.176" stop-color="#050209"/><stop offset="0.327" stop-color="#1a0a31"/><stop offset="0.424" stop-color="#3d176a"/><stop offset="0.491" stop-color="#5d2094"/><stop offset="0.558" stop-color="#8c2c87"/><stop offset="0.602" stop-color="#ae3675"/><stop offset="0.7" stop-color="#d14652"/><stop offset="0.833" stop-color="#e75f2a"/><stop offset="1" stop-color="#ef721a"/></linearGradient>
<linearGradient id="f82" gradientUnits="userSpaceOnUse" x1="290.0" x2="514.8"><stop offset="0" stop-color="#000000"/><stop offset="0.18" stop-color="#050209"/><stop offset="0.327" stop-color="#190a2f"/><stop offset="0.407" stop-color="#33145b"/><stop offset="0.5" stop-color="#5d2094"/><stop offset="0.567" stop-color="#8d2c86"/><stop offset="0.611" stop-color="#ad3675"/><stop offset="0.722" stop-color="#d24751"/><stop offset="0.842" stop-color="#e75e2b"/><stop offset="1" stop-color="#ee701c"/></linearGradient>
<linearGradient id="f83" gradientUnits="userSpaceOnUse" x1="290.0" x2="514.8"><stop offset="0" stop-color="#000000"/><stop offset="0.18" stop-color="#050209"/><stop offset="0.327" stop-color="#180a2d"/><stop offset="0.398" stop-color="#2d1251"/><stop offset="0.509" stop-color="#5d2094"/><stop offset="0.576" stop-color="#8d2c86"/><stop offset="0.62" stop-color="#ac3676"/><stop offset="0.744" stop-color="#d3484f"/><stop offset="0.856" stop-color="#e65d2c"/><stop offset="1" stop-color="#ed6e1d"/></linearGradient>
<linearGradient id="f84" gradientUnits="userSpaceOnUse" x1="290.0" x2="514.8"><stop offset="0" stop-color="#000000"/><stop offset="0.18" stop-color="#050209"/><stop offset="0.327" stop-color="#17092b"/><stop offset="0.393" stop-color="#2a104b"/><stop offset="0.5" stop-color="#541e89"/><stop offset="0.518" stop-color="#5e2094"/><stop offset="0.589" stop-color="#912d85"/><stop offset="0.633" stop-color="#ac3676"/><stop offset="0.762" stop-color="#d3484e"/><stop offset="0.873" stop-color="#e65d2c"/><stop offset="1" stop-color="#ec6b20"/></linearGradient>
<linearGradient id="f85" gradientUnits="userSpaceOnUse" x1="290.0" x2="514.8"><stop offset="0" stop-color="#000000"/><stop offset="0.18" stop-color="#050209"/><stop offset="0.327" stop-color="#160929"/><stop offset="0.398" stop-color="#29104a"/><stop offset="0.504" stop-color="#521d87"/><stop offset="0.527" stop-color="#5f2193"/><stop offset="0.602" stop-color="#932e84"/><stop offset="0.651" stop-color="#ad3675"/><stop offset="0.784" stop-color="#d54a4c"/><stop offset="0.887" stop-color="#e65b2d"/><stop offset="1" stop-color="#eb6822"/></linearGradient>
<linearGradient id="f86" gradientUnits="userSpaceOnUse" x1="290.0" x2="514.8"><stop offset="0" stop-color="#000000"/><stop offset="0.18" stop-color="#050208"/><stop offset="0.327" stop-color="#150827"/><stop offset="0.402" stop-color="#281049"/><stop offset="0.504" stop-color="#4e1c81"/><stop offset="0.531" stop-color="#5c2094"/><stop offset="0.616" stop-color="#942e83"/><stop offset="0.669" stop-color="#ae3675"/><stop offset="0.802" stop-color="#d54a4b"/><stop offset="0.909" stop-color="#e55b2d"/><stop offset="1" stop-color="#ea6524"/></linearGradient>
<linearGradient id="f87" gradientUnits="userSpaceOnUse" x1="290.0" x2="514.8"><stop offset="0" stop-color="#000000"/><stop offset="0.18" stop-color="#040208"/><stop offset="0.331" stop-color="#150826"/><stop offset="0.416" stop-color="#2b104d"/><stop offset="0.509" stop-color="#4c1b7f"/><stop offset="0.54" stop-color="#5d2094"/><stop offset="0.633" stop-color="#962f82"/><stop offset="0.696" stop-color="#b13872"/><stop offset="0.816" stop-color="#d54a4c"/><stop offset="0.936" stop-color="#e65b2d"/><stop offset="1" stop-color="#e86227"/></linearGradient>
<linearGradient id="f88" gradientUnits="userSpaceOnUse" x1="290.0" x2="514.8"><stop offset="0" stop-color="#000000"/><stop offset="0.18" stop-color="#040208"/><stop offset="0.331" stop-color="#140824"/><stop offset="0.433" stop-color="#2e1252"/><stop offset="0.518" stop-color="#4d1c7f"/><stop offset="0.549" stop-color="#5d2094"/><stop offset="0.651" stop-color="#982f81"/><stop offset="0.713" stop-color="#b23871"/><stop offset="0.829" stop-color="#d4494d"/><stop offset="0.962" stop-color="#e65b2d"/><stop offset="1" stop-color="#e75f2a"/></linearGradient>
<linearGradient id="f89" gradientUnits="userSpaceOnUse" x1="290.0" x2="514.8"><stop offset="0" stop-color="#000000"/><stop offset="0.18" stop-color="#040207"/><stop offset="0.331" stop-color="#130722"/><stop offset="0.451" stop-color="#301356"/><stop offset="0.531" stop-color="#4f1c83"/><stop offset="0.558" stop-color="#5e2094"/><stop offset="0.669" stop-color="#993081"/><stop offset="0.74" stop-color="#b5396e"/><stop offset="0.842" stop-color="#d3484e"/><stop offset="0.989" stop-color="#e55b2d"/><stop offset="1" stop-color="#e65c2d"/></linearGradient>
<linearGradient id="f90" gradientUnits="userSpaceOnUse" x1="290.0" x2="514.8"><stop offset="0" stop-color="#000000"/><stop offset="0.18" stop-color="#040207"/><stop offset="0.331" stop-color="#120721"/><stop offset="0.46" stop-color="#301356"/><stop offset="0.54" stop-color="#501c83"/><stop offset="0.567" stop-color="#5d2094"/><stop offset="0.682" stop-color="#992f81"/><stop offset="0.762" stop-color="#b73a6c"/><stop offset="0.86" stop-color="#d3484e"/><stop offset="1" stop-color="#e35831"/></linearGradient>
<linearGradient id="f91" gradientUnits="userSpaceOnUse" x1="290.0" x2="514.8"><stop offset="0" stop-color="#000000"/><stop offset="0.184" stop-color="#040207"/><stop offset="0.336" stop-color="#120721"/><stop offset="0.478" stop-color="#33135a"/><stop offset="0.571" stop-color="#5b2093"/><stop offset="0.678" stop-color="#8f2d85"/><stop offset="0.758" stop-color="#b13872"/><stop offset="0.873" stop-color="#d24750"/><stop offset="1" stop-color="#e15636"/></linearGradient>
<linearGradient id="f92" gradientUnits="userSpaceOnUse" x1="290.0" x2="514.8"><stop offset="0" stop-color="#000000"/><stop offset="0.189" stop-color="#040207"/><stop offset="0.336" stop-color="#11071f"/><stop offset="0.473" stop-color="#2f1254"/><stop offset="0.553" stop-color="#4e1c81"/><stop offset="0.584" stop-color="#5d2094"/><stop offset="0.704" stop-color="#952e83"/><stop offset="0.789" stop-color="#b63a6d"/><stop offset="0.891" stop-color="#d24751"/><stop offset="1" stop-color="#de533b"/></linearGradient>
<linearGradient id="f93" gradientUnits="userSpaceOnUse" x1="290.0" x2="514.8"><stop offset="0" stop-color="#000000"/><stop offset="0.193" stop-color="#040207"/><stop offset="0.34" stop-color="#11071f"/><stop offset="0.478" stop-color="#2e1252"/><stop offset="0.558" stop-color="#4c1b7e"/><stop offset="0.593" stop-color="#5d2094"/><stop offset="0.718" stop-color="#942e83"/><stop offset="0.802" stop-color="#b5396e"/><stop offset="0.913" stop-color="#d24751"/><stop offset="1" stop-color="#db5040"/></linearGradient>
<linearGradient id="f94" gradientUnits="userSpaceOnUse" x1="290.0" x2="514.8"><stop offset="0" stop-color="#000000"/><stop offset="0.198" stop-color="#040207"/><stop offset="0.344" stop-color="#11071e"/><stop offset="0.478" stop-color="#2b114e"/><stop offset="0.562" stop-color="#4a1b7c"/><stop offset="0.602" stop-color="#5d2094"/><stop offset="0.731" stop-color="#932e83"/><stop offset="0.816" stop-color="#b4396f"/><stop offset="0.94" stop-color="#d24751"/><stop offset="1" stop-color="#d84d45"/></linearGradient>
<linearGradient id="f95" gradientUnits="userSpaceOnUse" x1="290.0" x2="514.8"><stop offset="0" stop-color="#000000"/><stop offset="0.207" stop-color="#040208"/><stop offset="0.353" stop-color="#11071f"/><stop offset="0.482" stop-color="#2a104c"/><stop offset="0.571" stop-color="#4a1b7c"/><stop offset="0.616" stop-color="#5e2094"/><stop offset="0.744" stop-color="#922d84"/><stop offset="0.824" stop-color="#b23871"/><stop offset="0.962" stop-color="#d24751"/><stop offset="1" stop-color="#d54a4b"/></linearGradient>
<linearGradient id="f96" gradientUnits="userSpaceOnUse" x1="290.0" x2="514.8"><stop offset="0" stop-color="#000000"/><stop offset="0.211" stop-color="#040208"/><stop offset="0.358" stop-color="#11071f"/><stop offset="0.487" stop-color="#29104a"/><stop offset="0.58" stop-color="#4b1b7d"/><stop offset="0.624" stop-color="#5d2094"/><stop offset="0.758" stop-color="#912d84"/><stop offset="0.838" stop-color="#b13872"/><stop offset="0.989" stop-color="#d14651"/><stop offset="1" stop-color="#d24750"/></linearGradient>
<linearGradient id="f97" gradientUnits="userSpaceOnUse" x1="290.0" x2="514.8"><stop offset="0" stop-color="#000000"/><stop offset="0.216" stop-color="#040208"/><stop offset="0.367" stop-color="#11071f"/><stop offset="0.491" stop-color="#270f48"/><stop offset="0.589" stop-color="#4b1b7d"/><stop offset="0.633" stop-color="#5c2094"/><stop offset="0.771" stop-color="#902d85"/><stop offset="0.851" stop-color="#af3773"/><stop offset="1" stop-color="#cf4456"/></linearGradient>
<linearGradient id="f98" gradientUnits="userSpaceOnUse" x1="290.0" x2="514.8"><stop offset="0" stop-color="#000000"/><stop offset="0.224" stop-color="#050209"/><stop offset="0.376" stop-color="#110720"/><stop offset="0.496" stop-color="#260f46"/><stop offset="0.611" stop-color="#501c84"/><stop offset="0.647" stop-color="#5d2094"/><stop offset="0.784" stop-color="#8f2c85"/><stop offset="0.864" stop-color="#ae3675"/><stop offset="1" stop-color="#ca425b"/></linearGradient>
<linearGradient id="f99" gradientUnits="userSpaceOnUse" x1="290.0" x2="514.8"><stop offset="0" stop-color="#000000"/><stop offset="0.229" stop-color="#050209"/><stop offset="0.38" stop-color="#11071f"/><stop offset="0.5" stop-color="#250f44"/><stop offset="0.656" stop-color="#5b2093"/><stop offset="0.793" stop-color="#8c2c87"/><stop offset="0.882" stop-color="#ad3675"/><stop offset="1" stop-color="#c5405f"/></linearGradient>
<linearGradient id="f100" gradientUnits="userSpaceOnUse" x1="290.0" x2="514.8"><stop offset="0" stop-color="#000000"/><stop offset="0.233" stop-color="#050209"/><stop offset="0.384" stop-color="#11071f"/><stop offset="0.504" stop-color="#240e42"/><stop offset="0.669" stop-color="#5b2093"/><stop offset="0.811" stop-color="#8d2c86"/><stop offset="0.904" stop-color="#ad3675"/><stop offset="1" stop-color="#c03e64"/></linearGradient>
<linearGradient id="f101" gradientUnits="userSpaceOnUse" x1="290.0" x2="514.8"><stop offset="0" stop-color="#000000"/><stop offset="0.238" stop-color="#050209"/><stop offset="0.389" stop-color="#10071e"/><stop offset="0.513" stop-color="#240e42"/><stop offset="0.673" stop-color="#581f8f"/><stop offset="0.696" stop-color="#5f2193"/><stop offset="0.833" stop-color="#8f2c85"/><stop offset="0.931" stop-color="#ae3675"/><stop offset="1" stop-color="#ba3c69"/></linearGradient>
<linearGradient id="f102" gradientUnits="userSpaceOnUse" x1="290.0" x2="514.8"><stop offset="0" stop-color="#000000"/><stop offset="0.242" stop-color="#050209"/><stop offset="0.393" stop-color="#10061d"/><stop offset="0.518" stop-color="#230e40"/><stop offset="0.673" stop-color="#541e89"/><stop offset="0.709" stop-color="#5e2094"/><stop offset="0.856" stop-color="#902d85"/><stop offset="0.958" stop-color="#ae3774"/><stop offset="1" stop-color="#b5396e"/></linearGradient>
<linearGradient id="f103" gradientUnits="userSpaceOnUse" x1="290.0" x2="514.8"><stop offset="0" stop-color="#000000"/><stop offset="0.247" stop-color="#050209"/><stop offset="0.398" stop-color="#10061d"/><stop offset="0.522" stop-color="#220d3f"/><stop offset="0.678" stop-color="#511d85"/><stop offset="0.722" stop-color="#5e2094"/><stop offset="0.882" stop-color="#932e84"/><stop offset="0.989" stop-color="#af3774"/><stop offset="1" stop-color="#b03773"/></linearGradient>
<linearGradient id="f104" gradientUnits="userSpaceOnUse" x1="290.0" x2="514.8"><stop offset="0" stop-color="#000000"/><stop offset="0.251" stop-color="#050209"/><stop offset="0.402" stop-color="#0f061c"/><stop offset="0.527" stop-color="#210d3d"/><stop offset="0.682" stop-color="#4e1c81"/><stop offset="0.74" stop-color="#5e2094"/><stop offset="0.913" stop-color="#952e82"/><stop offset="1" stop-color="#ab3577"/></linearGradient>
<linearGradient id="f105" gradientUnits="userSpaceOnUse" x1="290.0" x2="514.8"><stop offset="0" stop-color="#000000"/><stop offset="0.256" stop-color="#050209"/><stop offset="0.407" stop-color="#0f061c"/><stop offset="0.531" stop-color="#200d3b"/><stop offset="0.691" stop-color="#4c1b7f"/><stop offset="0.753" stop-color="#5d2094"/><stop offset="0.949" stop-color="#982f81"/><stop offset="1" stop-color="#a4337c"/></linearGradient>
<linearGradient id="f106" gradientUnits="userSpaceOnUse" x1="290.0" x2="514.8"><stop offset="0" stop-color="#000000"/><stop offset="0.26" stop-color="#050209"/><stop offset="0.411" stop-color="#0f061b"/><stop offset="0.536" stop-color="#1f0c3a"/><stop offset="0.7" stop-color="#4b1b7d"/><stop offset="0.771" stop-color="#5e2094"/><stop offset="0.984" stop-color="#9a3080"/><stop offset="1" stop-color="#9d317f"/></linearGradient>
<linearGradient id="f107" gradientUnits="userSpaceOnUse" x1="290.0" x2="514.8"><stop offset="0" stop-color="#000000"/><stop offset="0.264" stop-color="#050209"/><stop offset="0.411" stop-color="#0e061a"/><stop offset="0.54" stop-color="#1e0c38"/><stop offset="0.718" stop-color="#4c1b7e"/><stop offset="0.784" stop-color="#5d2094"/><stop offset="1" stop-color="#952e83"/></linearGradient>
<linearGradient id="f108" gradientUnits="userSpaceOnUse" x1="290.0" x2="514.8"><stop offset="0" stop-color="#000000"/><stop offset="0.269" stop-color="#050209"/><stop offset="0.416" stop-color="#0e0619"/><stop offset="0.544" stop-color="#1e0c37"/><stop offset="0.753" stop-color="#521d86"/><stop offset="0.802" stop-color="#5e2193"/><stop offset="1" stop-color="#8e2c86"/></linearGradient>
<clipPath id="gclip"><rect x="117.5" y="785.0" width="305.0" height="153.0"/></clipPath></defs>
<rect width="520" height="996" fill="#fff"/>
<rect x="36.5" y="6.5" width="139.0" height="177.0" fill="none" stroke="#6e6e6e" stroke-width="1.1"/>
<path d="M36.5 184.0h3.5M175.5 184.0h-3.5M36.5 166.3h2.2M175.5 166.3h-2.2M36.5 148.6h3.5M175.5 148.6h-3.5M36.5 130.9h2.2M175.5 130.9h-2.2M36.5 113.2h3.5M175.5 113.2h-3.5M36.5 95.5h2.2M175.5 95.5h-2.2M36.5 77.8h3.5M175.5 77.8h-3.5M36.5 60.1h2.2M175.5 60.1h-2.2M36.5 42.4h3.5M175.5 42.4h-3.5M36.5 24.7h2.2M175.5 24.7h-2.2M36.5 7.0h3.5M175.5 7.0h-3.5M36.5 183.5v-3.2M36.5 6.5v3.2M49.8 183.5v-2.2M49.8 6.5v2.2M63.1 183.5v-2.2M63.1 6.5v2.2M76.4 183.5v-2.2M76.4 6.5v2.2M89.7 183.5v-2.2M89.7 6.5v2.2M103.0 183.5v-3.2M103.0 6.5v3.2M116.3 183.5v-2.2M116.3 6.5v2.2M129.6 183.5v-2.2M129.6 6.5v2.2M142.9 183.5v-2.2M142.9 6.5v2.2M156.2 183.5v-2.2M156.2 6.5v2.2M169.5 183.5v-3.2M169.5 6.5v3.2" stroke="#6e6e6e" stroke-width="1" fill="none"/>
<rect x="196.5" y="6.5" width="145.0" height="177.0" fill="none" stroke="#6e6e6e" stroke-width="1.1"/>
<path d="M196.5 183.5h3.5M341.5 183.5h-3.5M196.5 165.8h2.2M341.5 165.8h-2.2M196.5 148.2h3.5M341.5 148.2h-3.5M196.5 130.6h2.2M341.5 130.6h-2.2M196.5 112.9h3.5M341.5 112.9h-3.5M196.5 95.2h2.2M341.5 95.2h-2.2M196.5 77.6h3.5M341.5 77.6h-3.5M196.5 60.0h2.2M341.5 60.0h-2.2M196.5 42.3h3.5M341.5 42.3h-3.5M196.5 24.7h2.2M341.5 24.7h-2.2M196.5 7.0h3.5M341.5 7.0h-3.5M196.6 183.5v-3.2M196.6 6.5v3.2M210.4 183.5v-2.2M210.4 6.5v2.2M224.3 183.5v-2.2M224.3 6.5v2.2M238.2 183.5v-2.2M238.2 6.5v2.2M252.0 183.5v-2.2M252.0 6.5v2.2M265.9 183.5v-3.2M265.9 6.5v3.2M279.7 183.5v-2.2M279.7 6.5v2.2M293.6 183.5v-2.2M293.6 6.5v2.2M307.4 183.5v-2.2M307.4 6.5v2.2M321.2 183.5v-2.2M321.2 6.5v2.2M335.1 183.5v-3.2M335.1 6.5v3.2" stroke="#6e6e6e" stroke-width="1" fill="none"/>
<rect x="366.5" y="6.5" width="141.0" height="177.0" fill="none" stroke="#6e6e6e" stroke-width="1.1"/>
<path d="M366.5 183.0h3.5M507.5 183.0h-3.5M366.5 165.3h2.2M507.5 165.3h-2.2M366.5 147.7h3.5M507.5 147.7h-3.5M366.5 130.1h2.2M507.5 130.1h-2.2M366.5 112.4h3.5M507.5 112.4h-3.5M366.5 94.8h2.2M507.5 94.8h-2.2M366.5 77.1h3.5M507.5 77.1h-3.5M366.5 59.5h2.2M507.5 59.5h-2.2M366.5 41.8h3.5M507.5 41.8h-3.5M366.5 24.2h2.2M507.5 24.2h-2.2M366.5 6.5h3.5M507.5 6.5h-3.5M366.3 183.5v-3.2M366.3 6.5v3.2M379.8 183.5v-2.2M379.8 6.5v2.2M393.3 183.5v-2.2M393.3 6.5v2.2M406.8 183.5v-2.2M406.8 6.5v2.2M420.3 183.5v-2.2M420.3 6.5v2.2M433.8 183.5v-3.2M433.8 6.5v3.2M447.3 183.5v-2.2M447.3 6.5v2.2M460.8 183.5v-2.2M460.8 6.5v2.2M474.3 183.5v-2.2M474.3 6.5v2.2M487.8 183.5v-2.2M487.8 6.5v2.2M501.3 183.5v-3.2M501.3 6.5v3.2" stroke="#6e6e6e" stroke-width="1" fill="none"/>
<text x="33.2" y="188.6" font-family="'Liberation Sans', Arial, sans-serif" font-size="12.8" font-weight="bold" text-anchor="end" fill="#000" stroke="#000" stroke-width="0.3">0</text>
<text x="33.2" y="153.2" font-family="'Liberation Sans', Arial, sans-serif" font-size="12.8" font-weight="bold" text-anchor="end" fill="#000" stroke="#000" stroke-width="0.3">1</text>
<text x="33.2" y="117.8" font-family="'Liberation Sans', Arial, sans-serif" font-size="12.8" font-weight="bold" text-anchor="end" fill="#000" stroke="#000" stroke-width="0.3">2</text>
<text x="33.2" y="82.4" font-family="'Liberation Sans', Arial, sans-serif" font-size="12.8" font-weight="bold" text-anchor="end" fill="#000" stroke="#000" stroke-width="0.3">3</text>
<text x="33.2" y="47.0" font-family="'Liberation Sans', Arial, sans-serif" font-size="12.8" font-weight="bold" text-anchor="end" fill="#000" stroke="#000" stroke-width="0.3">4</text>
<text x="33.2" y="11.6" font-family="'Liberation Sans', Arial, sans-serif" font-size="12.8" font-weight="bold" text-anchor="end" fill="#000" stroke="#000" stroke-width="0.3">5</text>
<text x="36.5" y="198.5" font-family="'Liberation Sans', Arial, sans-serif" font-size="12.8" font-weight="bold" text-anchor="middle" fill="#000" stroke="#000" stroke-width="0.3">0.0</text>
<text x="103.0" y="198.5" font-family="'Liberation Sans', Arial, sans-serif" font-size="12.8" font-weight="bold" text-anchor="middle" fill="#000" stroke="#000" stroke-width="0.3">0.5</text>
<text x="169.5" y="198.5" font-family="'Liberation Sans', Arial, sans-serif" font-size="12.8" font-weight="bold" text-anchor="middle" fill="#000" stroke="#000" stroke-width="0.3">1.0</text>
<text x="196.6" y="198.5" font-family="'Liberation Sans', Arial, sans-serif" font-size="12.8" font-weight="bold" text-anchor="middle" fill="#000" stroke="#000" stroke-width="0.3">0.0</text>
<text x="265.9" y="198.5" font-family="'Liberation Sans', Arial, sans-serif" font-size="12.8" font-weight="bold" text-anchor="middle" fill="#000" stroke="#000" stroke-width="0.3">0.5</text>
<text x="335.1" y="198.5" font-family="'Liberation Sans', Arial, sans-serif" font-size="12.8" font-weight="bold" text-anchor="middle" fill="#000" stroke="#000" stroke-width="0.3">1.0</text>
<text x="366.3" y="198.5" font-family="'Liberation Sans', Arial, sans-serif" font-size="12.8" font-weight="bold" text-anchor="middle" fill="#000" stroke="#000" stroke-width="0.3">0.0</text>
<text x="433.8" y="198.5" font-family="'Liberation Sans', Arial, sans-serif" font-size="12.8" font-weight="bold" text-anchor="middle" fill="#000" stroke="#000" stroke-width="0.3">0.5</text>
<text x="501.3" y="198.5" font-family="'Liberation Sans', Arial, sans-serif" font-size="12.8" font-weight="bold" text-anchor="middle" fill="#000" stroke="#000" stroke-width="0.3">1.0</text>
<text x="101.7" y="210.2" font-family="'Liberation Sans', Arial, sans-serif" font-size="14.0" font-weight="bold" text-anchor="middle" fill="#000">&#951;</text>
<text transform="translate(17.1 105.5) rotate(-90)" font-family="'Liberation Sans', Arial, sans-serif" text-anchor="middle" fill="#000"><tspan font-size="14" font-weight="bold">F</tspan><tspan font-size="12" dx="4.5">(&#951;)</tspan></text>
<text x="49.4" y="29.5" font-family="'Liberation Sans', Arial, sans-serif" font-size="14.0" font-weight="normal" text-anchor="start" fill="#000">(a)</text>
<text x="104.1" y="28.6" font-family="'Liberation Sans', Arial, sans-serif" font-size="13" fill="#000">D=2<tspan font-weight="bold">&#956;m</tspan></text>
<text x="211.0" y="29.5" font-family="'Liberation Sans', Arial, sans-serif" font-size="14.0" font-weight="normal" text-anchor="start" fill="#000">(b)</text>
<text x="263.5" y="28.6" font-family="'Liberation Sans', Arial, sans-serif" font-size="13" fill="#000">D=3<tspan font-weight="bold">&#956;m</tspan></text>
<text x="382.0" y="29.5" font-family="'Liberation Sans', Arial, sans-serif" font-size="14.0" font-weight="normal" text-anchor="start" fill="#000">(c)</text>
<text x="433.0" y="28.6" font-family="'Liberation Sans', Arial, sans-serif" font-size="13" fill="#000">D=4<tspan font-weight="bold">&#956;m</tspan></text>
<path d="M36.5 183.6 C42.1 183.6 62.8 183.4 70.0 183.4 C77.2 183.4 76.7 183.7 80.0 183.3 C83.3 182.9 86.4 182.6 89.6 180.9 C92.8 179.2 96.0 176.6 99.2 173.3 C102.4 170.0 105.6 165.8 108.8 161.0 C112.0 156.2 115.3 149.7 118.5 144.6 C121.7 139.5 124.9 135.0 128.1 130.2 C131.3 125.4 134.8 120.1 137.7 115.8 C140.6 111.5 142.8 108.0 145.4 104.2 C148.0 100.4 150.5 95.9 153.1 92.7 C155.7 89.5 158.7 87.4 160.8 85.0 C162.9 82.6 164.5 80.2 165.6 78.3 C166.7 76.4 167.1 78.2 167.5 73.5 C167.9 68.8 168.0 61.0 168.2 50.0 C168.4 39.0 168.5 14.6 168.6 7.5" fill="none" stroke="#f59a3a" stroke-width="2.4" stroke-linejoin="round"/>
<path d="M169.9 7.5 L169.9 184.0" fill="none" stroke="#f59a3a" stroke-width="2.3" stroke-linejoin="round"/>
<path d="M92.0 183.6 C93.2 183.6 94.8 184.1 99.2 183.5 C103.6 182.9 113.7 181.4 118.5 180.2 C123.3 179.0 124.9 177.9 128.1 176.3 C131.3 174.7 134.5 173.0 137.7 170.6 C140.9 168.2 144.4 165.3 147.3 161.9 C150.2 158.5 152.9 154.6 155.0 150.4 C157.1 146.2 158.5 141.4 159.8 136.9 C161.1 132.4 161.7 128.3 162.7 123.5 C163.7 118.7 164.8 113.9 165.6 108.1 C166.4 102.3 167.0 95.2 167.5 88.8 C168.0 82.4 168.5 79.4 168.8 69.6 C169.1 59.8 169.2 40.4 169.3 30.0 C169.4 19.6 169.5 11.2 169.5 7.5" fill="none" stroke="#e8141e" stroke-width="2.4" stroke-dasharray="8 3 2 3" stroke-linejoin="round"/>
<path d="M169.9 7.5 L169.9 184.0" fill="none" stroke="#e8141e" stroke-width="2.3" stroke-dasharray="8 3 2 3" stroke-linejoin="round"/>
<path d="M36.5 183.6 C42.1 183.6 62.8 183.5 70.0 183.4 C77.2 183.3 76.7 183.6 80.0 183.1 C83.3 182.6 86.4 182.0 89.6 180.2 C92.8 178.4 96.0 175.6 99.2 172.5 C102.4 169.4 105.6 165.8 108.8 161.9 C112.0 158.1 115.3 153.4 118.5 149.4 C121.7 145.4 124.9 141.6 128.1 137.9 C131.3 134.2 134.8 129.8 137.7 127.3 C140.6 124.8 143.3 123.9 145.4 123.1 C147.5 122.3 148.3 122.0 150.2 122.5 C152.1 123.0 155.1 124.8 156.9 126.3 C158.7 127.8 159.5 129.1 160.8 131.2 C162.1 133.3 163.5 135.3 164.6 138.8 C165.7 142.3 166.8 147.5 167.5 152.3 C168.2 157.1 168.5 162.5 168.8 167.7 C169.2 172.9 169.5 180.7 169.6 183.3" fill="none" stroke="#1414dc" stroke-width="2.4" stroke-dasharray="8 4" stroke-linejoin="round"/>
<path d="M196.6 183.5 C199.7 183.5 210.3 183.6 215.0 183.5 C219.7 183.4 222.5 183.3 225.0 183.2 C227.5 183.0 228.0 183.0 230.0 182.6 C232.0 182.2 234.6 181.9 236.9 180.9 C239.2 179.9 241.2 178.9 243.9 176.4 C246.6 173.9 249.6 170.8 253.1 166.2 C256.6 161.6 260.8 154.9 264.6 148.9 C268.5 142.9 272.4 136.0 276.2 130.4 C280.0 124.8 283.8 119.4 287.7 115.4 C291.6 111.4 296.6 108.2 299.3 106.2 C302.0 104.2 302.0 103.8 303.9 103.6 C305.8 103.4 308.5 104.0 310.8 104.8 C313.1 105.6 315.9 106.9 317.8 108.5 C319.7 110.1 320.5 110.9 322.4 114.2 C324.3 117.5 327.6 124.2 329.3 128.1 C331.0 131.9 332.0 134.7 332.8 137.3 C333.6 140.0 333.8 142.9 334.0 144.0" fill="none" stroke="#f59a3a" stroke-width="2.4" stroke-linejoin="round"/>
<path d="M250.0 183.5 C250.5 183.5 246.7 183.7 253.0 183.4 C259.3 183.1 278.8 182.7 287.7 181.9 C296.6 181.2 300.4 180.6 306.2 178.9 C312.0 177.2 318.2 174.5 322.4 172.0 C326.6 169.5 329.7 165.8 331.6 163.9 C333.5 162.0 333.5 161.0 333.9 160.4" fill="none" stroke="#e8141e" stroke-width="2.4" stroke-dasharray="8 3 2 3" stroke-linejoin="round"/>
<path d="M334.6 183.5 L334.6 28.0" fill="none" stroke="#e8141e" stroke-width="2.6" stroke-linejoin="round"/>
<path d="M196.6 183.5 C199.7 183.5 210.3 183.6 215.0 183.5 C219.7 183.4 222.5 183.3 225.0 183.2 C227.5 183.0 228.0 183.0 230.0 182.6 C232.0 182.2 234.6 181.9 236.9 180.9 C239.2 179.9 241.2 178.9 243.9 176.4 C246.6 173.9 249.6 170.8 253.1 166.2 C256.6 161.6 260.8 154.9 264.6 148.9 C268.5 142.9 272.4 136.0 276.2 130.4 C280.0 124.9 284.4 119.1 287.7 115.6 C291.0 112.1 293.7 110.8 296.0 109.5 C298.3 108.2 299.5 108.0 301.6 108.0 C303.7 108.0 306.2 108.0 308.5 109.6 C310.8 111.2 313.2 114.2 315.5 117.7 C317.8 121.2 320.3 125.8 322.4 130.4 C324.5 135.0 326.7 140.6 328.2 145.4 C329.7 150.2 330.7 153.9 331.6 159.3 C332.6 164.7 333.4 173.8 333.9 177.8 C334.4 181.8 334.3 182.6 334.4 183.5" fill="none" stroke="#1414dc" stroke-width="2.4" stroke-dasharray="8 4" stroke-linejoin="round"/>
<path d="M366.3 183.0 C371.1 183.0 389.4 183.1 395.0 182.8 C400.6 182.6 397.7 182.6 400.0 181.5 C402.3 180.4 405.9 179.4 408.8 176.3 C411.8 173.2 414.8 168.5 417.7 163.0 C420.6 157.5 423.6 149.4 426.5 143.1 C429.4 136.8 432.4 130.9 435.4 125.4 C438.3 119.9 441.8 113.3 444.2 109.9 C446.6 106.5 448.1 106.1 450.0 105.0 C451.9 103.9 453.5 103.3 455.3 103.3 C457.1 103.3 459.1 103.9 461.0 104.8 C462.9 105.7 464.0 106.1 466.4 108.8 C468.8 111.5 472.2 116.0 475.2 121.0 C478.1 126.0 481.2 132.4 484.1 138.7 C487.1 145.0 490.5 153.4 492.9 158.6 C495.3 163.8 497.2 165.7 498.5 169.6 C499.8 173.5 500.3 179.8 500.7 181.8" fill="none" stroke="#f59a3a" stroke-width="2.4" stroke-linejoin="round"/>
<path d="M425.0 183.0 C431.9 183.0 455.8 183.3 466.4 182.9 C477.0 182.5 483.1 181.4 488.5 180.7 C493.9 180.0 496.5 179.3 498.5 178.5 C500.5 177.7 500.2 176.4 500.5 176.0" fill="none" stroke="#e8141e" stroke-width="2.4" stroke-dasharray="8 3 2 3" stroke-linejoin="round"/>
<path d="M501.1 164.0 L501.3 183.0" fill="none" stroke="#e8141e" stroke-width="2.2" stroke-linejoin="round"/>
<path d="M366.3 183.0 C371.1 183.0 389.4 183.1 395.0 182.8 C400.6 182.6 397.7 182.6 400.0 181.5 C402.3 180.4 405.9 179.4 408.8 176.3 C411.8 173.2 414.8 168.5 417.7 163.0 C420.6 157.5 423.6 149.4 426.5 143.1 C429.4 136.8 432.4 130.9 435.4 125.4 C438.3 119.9 441.8 113.3 444.2 109.9 C446.6 106.5 448.1 106.1 450.0 105.0 C451.9 103.9 453.5 103.3 455.3 103.3 C457.1 103.3 459.1 103.9 461.0 104.8 C462.9 105.7 464.0 106.1 466.4 108.8 C468.8 111.5 472.2 116.0 475.2 121.0 C478.1 126.0 481.2 132.4 484.1 138.7 C487.1 145.0 490.5 153.4 492.9 158.6 C495.3 163.8 497.2 165.7 498.5 169.6 C499.8 173.5 500.3 179.8 500.7 181.8" fill="none" stroke="#1414dc" stroke-width="2.4" stroke-dasharray="8 4" stroke-linejoin="round"/>
<rect x="49.5" y="53.8" width="76.5" height="58.9" fill="#000"/>
<rect x="46.9" y="51.2" width="76.7" height="59.4" fill="#fff" stroke="#9a9a9a" stroke-width="1"/>
<path d="M50.7 63.4H85.3" stroke="#f59a3a" stroke-width="2.4"/>
<path d="M50.7 81.5H85.3" stroke="#e8141e" stroke-width="2.4" stroke-dasharray="11 4.3 2.6 4.3"/>
<path d="M50.7 99.7H85.3" stroke="#1414dc" stroke-width="2.4" stroke-dasharray="9.7 8"/>
<text x="88.0" y="68.1" font-family="'Liberation Sans', Arial, sans-serif" font-size="13.0" font-weight="bold" text-anchor="start" fill="#000" stroke="#000" stroke-width="0.35">All</text>
<text x="88.0" y="86.2" font-family="'Liberation Sans', Arial, sans-serif" font-size="13.0" font-weight="bold" text-anchor="start" fill="#000" stroke="#000" stroke-width="0.35">i=0-3</text>
<text x="88.0" y="104.4" font-family="'Liberation Sans', Arial, sans-serif" font-size="13.0" font-weight="bold" text-anchor="start" fill="#000" stroke="#000" stroke-width="0.35">i&gt;=4</text>
<g shape-rendering="crispEdges"><rect x="134.2" y="229.00" width="231.3" height="2.00" fill="url(#d0)"/>
<rect x="134.2" y="231.00" width="231.3" height="2.00" fill="url(#d1)"/>
<rect x="134.2" y="233.00" width="231.3" height="2.00" fill="url(#d2)"/>
<rect x="134.2" y="235.00" width="231.3" height="2.00" fill="url(#d3)"/>
<rect x="134.2" y="237.00" width="231.3" height="2.00" fill="url(#d4)"/>
<rect x="134.2" y="239.00" width="231.3" height="2.00" fill="url(#d5)"/>
<rect x="134.2" y="241.00" width="231.3" height="2.00" fill="url(#d6)"/>
<rect x="134.2" y="243.00" width="231.3" height="2.00" fill="url(#d7)"/>
<rect x="134.2" y="245.00" width="231.3" height="2.00" fill="url(#d8)"/>
<rect x="134.2" y="247.00" width="231.3" height="2.00" fill="url(#d9)"/>
<rect x="134.2" y="249.00" width="231.3" height="2.00" fill="url(#d10)"/>
<rect x="134.2" y="251.00" width="231.3" height="2.00" fill="url(#d11)"/>
<rect x="134.2" y="253.00" width="231.3" height="2.00" fill="url(#d12)"/>
<rect x="134.2" y="255.00" width="231.3" height="2.00" fill="url(#d13)"/>
<rect x="134.2" y="257.00" width="231.3" height="2.00" fill="url(#d14)"/>
<rect x="134.2" y="259.00" width="231.3" height="2.00" fill="url(#d15)"/>
<rect x="134.2" y="261.00" width="231.3" height="2.00" fill="url(#d16)"/>
<rect x="134.2" y="263.00" width="231.3" height="2.00" fill="url(#d17)"/>
<rect x="134.2" y="265.00" width="231.3" height="2.00" fill="url(#d18)"/>
<rect x="134.2" y="267.00" width="231.3" height="2.00" fill="url(#d19)"/>
<rect x="134.2" y="269.00" width="231.3" height="2.00" fill="url(#d20)"/>
<rect x="134.2" y="271.00" width="231.3" height="2.00" fill="url(#d21)"/>
<rect x="134.2" y="273.00" width="231.3" height="2.00" fill="url(#d22)"/>
<rect x="134.2" y="275.00" width="231.3" height="2.00" fill="url(#d23)"/>
<rect x="134.2" y="277.00" width="231.3" height="2.00" fill="url(#d24)"/>
<rect x="134.2" y="279.00" width="231.3" height="2.00" fill="url(#d25)"/>
<rect x="134.2" y="281.00" width="231.3" height="2.00" fill="url(#d26)"/>
<rect x="134.2" y="283.00" width="231.3" height="2.00" fill="url(#d27)"/>
<rect x="134.2" y="285.00" width="231.3" height="2.00" fill="url(#d28)"/>
<rect x="134.2" y="287.00" width="231.3" height="2.00" fill="url(#d29)"/>
<rect x="134.2" y="289.00" width="231.3" height="2.00" fill="url(#d30)"/>
<rect x="134.2" y="291.00" width="231.3" height="2.00" fill="url(#d31)"/>
<rect x="134.2" y="293.00" width="231.3" height="2.00" fill="url(#d32)"/>
<rect x="134.2" y="295.00" width="231.3" height="2.00" fill="url(#d33)"/>
<rect x="134.2" y="297.00" width="231.3" height="2.00" fill="url(#d34)"/>
<rect x="134.2" y="299.00" width="231.3" height="2.00" fill="url(#d35)"/>
<rect x="134.2" y="301.00" width="231.3" height="2.00" fill="url(#d36)"/>
<rect x="134.2" y="303.00" width="231.3" height="2.00" fill="url(#d37)"/>
<rect x="134.2" y="305.00" width="231.3" height="2.00" fill="url(#d38)"/>
<rect x="134.2" y="307.00" width="231.3" height="2.00" fill="url(#d39)"/>
<rect x="134.2" y="309.00" width="231.3" height="2.00" fill="url(#d40)"/>
<rect x="134.2" y="311.00" width="231.3" height="2.00" fill="url(#d41)"/>
<rect x="134.2" y="313.00" width="231.3" height="2.00" fill="url(#d42)"/>
<rect x="134.2" y="315.00" width="231.3" height="2.00" fill="url(#d43)"/>
<rect x="134.2" y="317.00" width="231.3" height="2.00" fill="url(#d44)"/>
<rect x="134.2" y="319.00" width="231.3" height="2.00" fill="url(#d45)"/>
<rect x="134.2" y="321.00" width="231.3" height="2.00" fill="url(#d46)"/>
<rect x="134.2" y="323.00" width="231.3" height="2.00" fill="url(#d47)"/>
<rect x="134.2" y="325.00" width="231.3" height="2.00" fill="url(#d48)"/>
<rect x="134.2" y="327.00" width="231.3" height="2.00" fill="url(#d49)"/>
<rect x="134.2" y="329.00" width="231.3" height="2.00" fill="url(#d50)"/>
<rect x="134.2" y="331.00" width="231.3" height="2.00" fill="url(#d51)"/>
<rect x="134.2" y="333.00" width="231.3" height="2.00" fill="url(#d52)"/>
<rect x="134.2" y="335.00" width="231.3" height="2.00" fill="url(#d53)"/>
<rect x="134.2" y="337.00" width="231.3" height="2.00" fill="url(#d54)"/>
<rect x="134.2" y="339.00" width="231.3" height="2.00" fill="url(#d55)"/>
<rect x="134.2" y="341.00" width="231.3" height="2.00" fill="url(#d56)"/>
<rect x="134.2" y="343.00" width="231.3" height="2.00" fill="url(#d57)"/>
<rect x="134.2" y="345.00" width="231.3" height="2.00" fill="url(#d58)"/>
<rect x="134.2" y="347.00" width="231.3" height="2.00" fill="url(#d59)"/>
<rect x="134.2" y="349.00" width="231.3" height="2.00" fill="url(#d60)"/>
<rect x="134.2" y="351.00" width="231.3" height="2.00" fill="url(#d61)"/>
<rect x="134.2" y="353.00" width="231.3" height="2.00" fill="url(#d62)"/>
<rect x="134.2" y="355.00" width="231.3" height="2.00" fill="url(#d63)"/>
<rect x="134.2" y="357.00" width="231.3" height="2.00" fill="url(#d64)"/>
<rect x="134.2" y="359.00" width="231.3" height="2.00" fill="url(#d65)"/>
<rect x="134.2" y="361.00" width="231.3" height="2.00" fill="url(#d66)"/>
<rect x="134.2" y="363.00" width="231.3" height="2.00" fill="url(#d67)"/>
<rect x="134.2" y="365.00" width="231.3" height="2.00" fill="url(#d68)"/>
<rect x="134.2" y="367.00" width="231.3" height="2.00" fill="url(#d69)"/>
<rect x="134.2" y="369.00" width="231.3" height="2.00" fill="url(#d70)"/>
<rect x="134.2" y="371.00" width="231.3" height="2.00" fill="url(#d71)"/>
<rect x="134.2" y="373.00" width="231.3" height="2.00" fill="url(#d72)"/>
<rect x="134.2" y="375.00" width="231.3" height="2.00" fill="url(#d73)"/>
<rect x="134.2" y="377.00" width="231.3" height="2.00" fill="url(#d74)"/>
<rect x="134.2" y="379.00" width="231.3" height="2.00" fill="url(#d75)"/>
<rect x="134.2" y="381.00" width="231.3" height="2.00" fill="url(#d76)"/>
<rect x="134.2" y="383.00" width="231.3" height="2.00" fill="url(#d77)"/>
<rect x="134.2" y="385.00" width="231.3" height="2.00" fill="url(#d78)"/>
<rect x="134.2" y="387.00" width="231.3" height="2.00" fill="url(#d79)"/>
<rect x="134.2" y="389.00" width="231.3" height="2.00" fill="url(#d80)"/>
<rect x="134.2" y="391.00" width="231.3" height="2.00" fill="url(#d81)"/>
<rect x="134.2" y="393.00" width="231.3" height="2.00" fill="url(#d82)"/>
<rect x="134.2" y="395.00" width="231.3" height="2.00" fill="url(#d83)"/>
<rect x="134.2" y="397.00" width="231.3" height="2.00" fill="url(#d84)"/>
<rect x="134.2" y="399.00" width="231.3" height="2.00" fill="url(#d85)"/>
<rect x="134.2" y="401.00" width="231.3" height="2.00" fill="url(#d86)"/>
<rect x="134.2" y="403.00" width="231.3" height="2.00" fill="url(#d87)"/>
<rect x="134.2" y="405.00" width="231.3" height="2.00" fill="url(#d88)"/>
<rect x="134.2" y="407.00" width="231.3" height="2.00" fill="url(#d89)"/>
<rect x="134.2" y="409.00" width="231.3" height="2.00" fill="url(#d90)"/>
<rect x="134.2" y="411.00" width="231.3" height="2.00" fill="url(#d91)"/>
<rect x="134.2" y="413.00" width="231.3" height="2.00" fill="url(#d92)"/>
<rect x="134.2" y="415.00" width="231.3" height="2.00" fill="url(#d93)"/>
<rect x="134.2" y="417.00" width="231.3" height="2.00" fill="url(#d94)"/>
<rect x="134.2" y="419.00" width="231.3" height="2.00" fill="url(#d95)"/>
<rect x="134.2" y="421.00" width="231.3" height="2.00" fill="url(#d96)"/>
<rect x="134.2" y="423.00" width="231.3" height="2.00" fill="url(#d97)"/>
<rect x="134.2" y="425.00" width="231.3" height="2.00" fill="url(#d98)"/>
<rect x="134.2" y="427.00" width="231.3" height="2.00" fill="url(#d99)"/>
<rect x="134.2" y="429.00" width="231.3" height="2.00" fill="url(#d100)"/>
<rect x="134.2" y="431.00" width="231.3" height="2.00" fill="url(#d101)"/>
<rect x="134.2" y="433.00" width="231.3" height="2.00" fill="url(#d102)"/>
<rect x="134.2" y="435.00" width="231.3" height="2.00" fill="url(#d103)"/>
<rect x="134.2" y="437.00" width="231.3" height="2.00" fill="url(#d104)"/>
<rect x="134.2" y="439.00" width="231.3" height="2.00" fill="url(#d105)"/>
<rect x="134.2" y="441.00" width="231.3" height="2.00" fill="url(#d106)"/>
<rect x="134.2" y="443.00" width="231.3" height="2.00" fill="url(#d107)"/>
<rect x="134.2" y="445.00" width="231.3" height="2.00" fill="url(#d108)"/>
<rect x="134.2" y="447.00" width="231.3" height="2.00" fill="url(#d109)"/>
<rect x="134.2" y="449.00" width="231.3" height="2.00" fill="url(#d110)"/>
<rect x="134.2" y="451.00" width="231.3" height="2.00" fill="url(#d111)"/>
<rect x="134.2" y="453.00" width="231.3" height="2.00" fill="url(#d112)"/>
<rect x="134.2" y="455.00" width="231.3" height="2.00" fill="url(#d113)"/>
<rect x="134.2" y="457.00" width="231.3" height="1.20" fill="url(#d114)"/></g>
<rect x="134.2" y="226.4" width="231.3" height="3.3" fill="#000"/>
<rect x="134.2" y="229.6" width="231.3" height="2.7" fill="#1818b0"/>
<path d="M134.2 231.0H365.5" stroke="#a0a0a0" stroke-width="2.2" stroke-dasharray="5 8.3" stroke-dashoffset="4.1"/>
<rect x="134.2" y="232.3" width="231.3" height="2.4" fill="url(#dline)"/>
<rect x="134.2" y="234.7" width="231.3" height="1.3" fill="url(#dline)" opacity="0.5"/>
<path d="M134.2 234.5h2.6M365.5 234.5h-2.6M134.2 242.0h2.6M365.5 242.0h-2.6M134.2 249.4h2.6M365.5 249.4h-2.6M134.2 256.9h2.6M365.5 256.9h-2.6M134.2 264.3h2.6M365.5 264.3h-2.6M134.2 271.8h2.6M365.5 271.8h-2.6M134.2 279.2h2.6M365.5 279.2h-2.6M134.2 286.7h2.6M365.5 286.7h-2.6M134.2 294.2h2.6M365.5 294.2h-2.6M134.2 301.6h2.6M365.5 301.6h-2.6M134.2 309.1h2.6M365.5 309.1h-2.6M134.2 316.5h2.6M365.5 316.5h-2.6M134.2 324.0h2.6M365.5 324.0h-2.6M134.2 331.4h2.6M365.5 331.4h-2.6M134.2 338.9h2.6M365.5 338.9h-2.6M134.2 346.4h2.6M365.5 346.4h-2.6M134.2 353.8h2.6M365.5 353.8h-2.6M134.2 361.3h2.6M365.5 361.3h-2.6M134.2 368.7h2.6M365.5 368.7h-2.6M134.2 376.2h2.6M365.5 376.2h-2.6M134.2 383.6h2.6M365.5 383.6h-2.6M134.2 391.1h2.6M365.5 391.1h-2.6M134.2 398.5h2.6M365.5 398.5h-2.6M134.2 406.0h2.6M365.5 406.0h-2.6M134.2 413.5h2.6M365.5 413.5h-2.6M134.2 420.9h2.6M365.5 420.9h-2.6M134.2 428.4h2.6M365.5 428.4h-2.6M134.2 435.8h2.6M365.5 435.8h-2.6M134.2 443.3h2.6M365.5 443.3h-2.6M134.2 450.7h2.6M365.5 450.7h-2.6M134.2 458.2h2.6M365.5 458.2h-2.6M134.2 458.2v-2.6M145.8 458.2v-2.6M157.3 458.2v-2.6M168.9 458.2v-2.6M180.5 458.2v-2.6M192.0 458.2v-2.6M203.6 458.2v-2.6M215.2 458.2v-2.6M226.7 458.2v-2.6M238.3 458.2v-2.6M249.8 458.2v-2.6M261.4 458.2v-2.6M273.0 458.2v-2.6M284.5 458.2v-2.6M296.1 458.2v-2.6M307.7 458.2v-2.6M319.2 458.2v-2.6M330.8 458.2v-2.6M342.4 458.2v-2.6M353.9 458.2v-2.6M365.5 458.2v-2.6" stroke="#1a0010" stroke-width="1.8" fill="none"/>
<path d="M134.2 457.8H365.5" stroke="#000" stroke-width="1.2"/>
<path d="M134.5 232V458.2M365.2 232V458.2" stroke="#000" stroke-width="0.8" fill="none"/>
<path d="M134.2 234.5 C135.2 236.0 138.1 240.5 140.0 243.3 C141.9 246.1 143.8 248.8 145.8 251.3 C147.7 253.8 149.6 256.1 151.5 258.4 C153.5 260.7 155.4 262.8 157.3 265.0 C159.3 267.1 161.2 269.2 163.1 271.4 C165.0 273.5 167.0 275.7 168.9 277.8 C170.8 279.9 172.8 282.0 174.7 284.1 C176.6 286.1 178.5 288.1 180.5 290.1 C182.4 292.0 184.3 293.8 186.2 295.5 C188.2 297.3 190.1 299.0 192.0 300.7 C194.0 302.5 195.9 304.2 197.8 305.9 C199.7 307.7 201.7 309.5 203.6 311.2 C205.5 312.9 207.4 314.6 209.4 316.2 C211.3 317.8 213.2 319.3 215.2 320.8 C217.1 322.3 219.0 323.6 220.9 325.0 C222.9 326.4 224.8 327.8 226.7 329.2 C228.6 330.6 230.6 332.0 232.5 333.4 C234.4 334.8 236.4 336.2 238.3 337.5 C240.2 338.9 242.1 340.3 244.1 341.6 C246.0 343.0 247.9 344.3 249.8 345.6 C251.8 346.9 253.7 348.2 255.6 349.4 C257.6 350.7 259.5 351.9 261.4 353.1 C263.3 354.3 265.3 355.6 267.2 356.8 C269.1 358.0 271.1 359.3 273.0 360.5 C274.9 361.8 276.8 363.1 278.8 364.4 C280.7 365.6 282.6 366.9 284.5 368.1 C286.5 369.4 288.4 370.6 290.3 371.8 C292.3 373.0 294.2 374.1 296.1 375.2 C298.0 376.4 300.0 377.5 301.9 378.6 C303.8 379.7 305.7 380.8 307.7 381.8 C309.6 382.9 311.5 383.9 313.5 385.0 C315.4 386.0 317.3 387.0 319.2 388.0 C321.2 389.0 323.1 390.0 325.0 390.9 C327.0 391.9 328.9 392.9 330.8 393.8 C332.7 394.7 334.7 395.6 336.6 396.4 C338.5 397.3 340.4 398.1 342.4 398.9 C344.3 399.6 346.2 400.4 348.2 401.1 C350.1 401.9 352.0 402.6 353.9 403.3 C355.9 404.0 357.8 404.7 359.7 405.3 C361.6 405.9 364.5 406.8 365.5 407.1" fill="none" stroke="#ffe2d4" stroke-width="2.4" stroke-dasharray="4 2.1 1.8 2.1" stroke-linejoin="round"/>
<circle cx="135.0" cy="234.7" r="1.6" fill="#201008"/>
<path d="M267.3 273.5 L270.0 274.5 L273.0 274.6 L275.0 279.0 L276.6 282.7 L280.0 283.9 L284.0 288.0 L288.0 293.0 L292.7 302.3 L300.0 308.5 L307.7 315.0 L319.3 326.6 L330.8 334.7 L347.0 345.0 L364.3 356.6" fill="none" stroke="#4e4e48" stroke-width="1.6" stroke-linejoin="round"/>
<path d="M261.0 268.4 C262.8 270.0 268.1 274.5 272.0 278.0 C275.9 281.5 280.6 285.9 284.6 289.6 C288.6 293.3 292.1 296.5 296.0 300.0 C299.9 303.5 303.9 307.1 307.7 310.4 C311.5 313.7 315.1 316.7 319.0 319.8 C322.9 322.9 327.0 325.9 330.8 328.9 C334.6 331.9 338.1 334.7 342.0 338.0 C345.9 341.3 350.1 344.6 354.0 348.5 C357.9 352.4 363.6 359.1 365.5 361.2" fill="none" stroke="#2a2890" stroke-width="2.2" stroke-dasharray="4 3" stroke-linejoin="round"/>
<path d="M139 374.2H163" stroke="#a8a8a8" stroke-width="1.6"/>
<path d="M139 397.7H163" stroke="#2424a0" stroke-width="2" stroke-dasharray="5.8 3.4"/>
<path d="M139 421.3H163" stroke="#f4f4f4" stroke-width="1.8" stroke-dasharray="4.6 6.9 1.6 5.3"/>
<text x="169.6" y="380.0" font-family="'Liberation Sans', Arial, sans-serif" font-size="12.0" font-weight="bold" text-anchor="start" fill="#fff" textLength="20.2" lengthAdjust="spacingAndGlyphs">Sim</text>
<text x="169.6" y="400.8" font-family="'Liberation Sans', Arial, sans-serif" font-size="12.0" font-weight="bold" text-anchor="start" fill="#fff" textLength="38.5" lengthAdjust="spacingAndGlyphs">Theory</text>
<text x="169.6" y="422.8" font-family="'Liberation Sans', Arial, sans-serif" font-size="12.0" font-weight="bold" text-anchor="start" fill="#fff" textLength="45.0" lengthAdjust="spacingAndGlyphs">Classical</text>
<text x="147.3" y="450.8" font-family="'Liberation Serif', 'Times New Roman', serif" font-size="15.5" font-weight="bold" text-anchor="start" fill="#fff" textLength="20" lengthAdjust="spacingAndGlyphs">(d)</text>
<text x="130.2" y="239.9" font-family="'Liberation Sans', Arial, sans-serif" font-size="14.5" font-weight="normal" text-anchor="end" fill="#000">1.0</text>
<text x="130.2" y="312.8" font-family="'Liberation Sans', Arial, sans-serif" font-size="14.5" font-weight="normal" text-anchor="end" fill="#000">0.8</text>
<text x="130.2" y="386.8" font-family="'Liberation Sans', Arial, sans-serif" font-size="14.5" font-weight="normal" text-anchor="end" fill="#000">0.6</text>
<text x="130.2" y="461.9" font-family="'Liberation Sans', Arial, sans-serif" font-size="14.5" font-weight="normal" text-anchor="end" fill="#000">0.4</text>
<text x="134.2" y="475.3" font-family="'Liberation Sans', Arial, sans-serif" font-size="13.5" font-weight="normal" text-anchor="middle" fill="#000">0</text>
<text x="192.0" y="475.3" font-family="'Liberation Sans', Arial, sans-serif" font-size="13.5" font-weight="normal" text-anchor="middle" fill="#000">1</text>
<text x="249.8" y="475.3" font-family="'Liberation Sans', Arial, sans-serif" font-size="13.5" font-weight="normal" text-anchor="middle" fill="#000">2</text>
<text x="307.7" y="475.3" font-family="'Liberation Sans', Arial, sans-serif" font-size="13.5" font-weight="normal" text-anchor="middle" fill="#000">3</text>
<text x="365.5" y="475.3" font-family="'Liberation Sans', Arial, sans-serif" font-size="13.5" font-weight="normal" text-anchor="middle" fill="#000">4</text>
<text x="250.5" y="492.5" font-family="'Liberation Sans', Arial, sans-serif" font-size="15" text-anchor="middle"><tspan font-style="italic">D</tspan> [&#956;m]</text>
<text transform="translate(103 342.5) rotate(-90)" font-family="'Liberation Sans', Arial, sans-serif" font-size="15.5" text-anchor="middle">&#951;</text>
<rect x="386.0" y="232.2" width="16.0" height="225.4" fill="url(#cbar)" stroke="#d8d8d8" stroke-width="0.6"/>
<text x="408.2" y="464.1" font-family="'Liberation Sans', Arial, sans-serif" font-size="13.8" font-weight="normal" text-anchor="start" fill="#000">0</text>
<text x="408.2" y="406.5" font-family="'Liberation Sans', Arial, sans-serif" font-size="13.8" font-weight="normal" text-anchor="start" fill="#000">1</text>
<text x="408.2" y="350.5" font-family="'Liberation Sans', Arial, sans-serif" font-size="13.8" font-weight="normal" text-anchor="start" fill="#000">2</text>
<text x="408.2" y="292.8" font-family="'Liberation Sans', Arial, sans-serif" font-size="13.8" font-weight="normal" text-anchor="start" fill="#000">3</text>
<text x="408.2" y="238.8" font-family="'Liberation Sans', Arial, sans-serif" font-size="13.8" font-weight="normal" text-anchor="start" fill="#000">4</text>
<g shape-rendering="crispEdges"><rect x="33.2" y="518.00" width="225.8" height="2.00" fill="url(#e0)"/>
<rect x="33.2" y="520.00" width="225.8" height="2.00" fill="url(#e1)"/>
<rect x="33.2" y="522.00" width="225.8" height="2.00" fill="url(#e2)"/>
<rect x="33.2" y="524.00" width="225.8" height="2.00" fill="url(#e3)"/>
<rect x="33.2" y="526.00" width="225.8" height="2.00" fill="url(#e4)"/>
<rect x="33.2" y="528.00" width="225.8" height="2.00" fill="url(#e5)"/>
<rect x="33.2" y="530.00" width="225.8" height="2.00" fill="url(#e6)"/>
<rect x="33.2" y="532.00" width="225.8" height="2.00" fill="url(#e7)"/>
<rect x="33.2" y="534.00" width="225.8" height="2.00" fill="url(#e8)"/>
<rect x="33.2" y="536.00" width="225.8" height="2.00" fill="url(#e9)"/>
<rect x="33.2" y="538.00" width="225.8" height="2.00" fill="url(#e10)"/>
<rect x="33.2" y="540.00" width="225.8" height="2.00" fill="url(#e11)"/>
<rect x="33.2" y="542.00" width="225.8" height="2.00" fill="url(#e12)"/>
<rect x="33.2" y="544.00" width="225.8" height="2.00" fill="url(#e13)"/>
<rect x="33.2" y="546.00" width="225.8" height="2.00" fill="url(#e14)"/>
<rect x="33.2" y="548.00" width="225.8" height="2.00" fill="url(#e15)"/>
<rect x="33.2" y="550.00" width="225.8" height="2.00" fill="url(#e16)"/>
<rect x="33.2" y="552.00" width="225.8" height="2.00" fill="url(#e17)"/>
<rect x="33.2" y="554.00" width="225.8" height="2.00" fill="url(#e18)"/>
<rect x="33.2" y="556.00" width="225.8" height="2.00" fill="url(#e19)"/>
<rect x="33.2" y="558.00" width="225.8" height="2.00" fill="url(#e20)"/>
<rect x="33.2" y="560.00" width="225.8" height="2.00" fill="url(#e21)"/>
<rect x="33.2" y="562.00" width="225.8" height="2.00" fill="url(#e22)"/>
<rect x="33.2" y="564.00" width="225.8" height="2.00" fill="url(#e23)"/>
<rect x="33.2" y="566.00" width="225.8" height="2.00" fill="url(#e24)"/>
<rect x="33.2" y="568.00" width="225.8" height="2.00" fill="url(#e25)"/>
<rect x="33.2" y="570.00" width="225.8" height="2.00" fill="url(#e26)"/>
<rect x="33.2" y="572.00" width="225.8" height="2.00" fill="url(#e27)"/>
<rect x="33.2" y="574.00" width="225.8" height="2.00" fill="url(#e28)"/>
<rect x="33.2" y="576.00" width="225.8" height="2.00" fill="url(#e29)"/>
<rect x="33.2" y="578.00" width="225.8" height="2.00" fill="url(#e30)"/>
<rect x="33.2" y="580.00" width="225.8" height="2.00" fill="url(#e31)"/>
<rect x="33.2" y="582.00" width="225.8" height="2.00" fill="url(#e32)"/>
<rect x="33.2" y="584.00" width="225.8" height="2.00" fill="url(#e33)"/>
<rect x="33.2" y="586.00" width="225.8" height="2.00" fill="url(#e34)"/>
<rect x="33.2" y="588.00" width="225.8" height="2.00" fill="url(#e35)"/>
<rect x="33.2" y="590.00" width="225.8" height="2.00" fill="url(#e36)"/>
<rect x="33.2" y="592.00" width="225.8" height="2.00" fill="url(#e37)"/>
<rect x="33.2" y="594.00" width="225.8" height="2.00" fill="url(#e38)"/>
<rect x="33.2" y="596.00" width="225.8" height="2.00" fill="url(#e39)"/>
<rect x="33.2" y="598.00" width="225.8" height="2.00" fill="url(#e40)"/>
<rect x="33.2" y="600.00" width="225.8" height="2.00" fill="url(#e41)"/>
<rect x="33.2" y="602.00" width="225.8" height="2.00" fill="url(#e42)"/>
<rect x="33.2" y="604.00" width="225.8" height="2.00" fill="url(#e43)"/>
<rect x="33.2" y="606.00" width="225.8" height="2.00" fill="url(#e44)"/>
<rect x="33.2" y="608.00" width="225.8" height="2.00" fill="url(#e45)"/>
<rect x="33.2" y="610.00" width="225.8" height="2.00" fill="url(#e46)"/>
<rect x="33.2" y="612.00" width="225.8" height="2.00" fill="url(#e47)"/>
<rect x="33.2" y="614.00" width="225.8" height="2.00" fill="url(#e48)"/>
<rect x="33.2" y="616.00" width="225.8" height="2.00" fill="url(#e49)"/>
<rect x="33.2" y="618.00" width="225.8" height="2.00" fill="url(#e50)"/>
<rect x="33.2" y="620.00" width="225.8" height="2.00" fill="url(#e51)"/>
<rect x="33.2" y="622.00" width="225.8" height="2.00" fill="url(#e52)"/>
<rect x="33.2" y="624.00" width="225.8" height="2.00" fill="url(#e53)"/>
<rect x="33.2" y="626.00" width="225.8" height="2.00" fill="url(#e54)"/>
<rect x="33.2" y="628.00" width="225.8" height="2.00" fill="url(#e55)"/>
<rect x="33.2" y="630.00" width="225.8" height="2.00" fill="url(#e56)"/>
<rect x="33.2" y="632.00" width="225.8" height="2.00" fill="url(#e57)"/>
<rect x="33.2" y="634.00" width="225.8" height="2.00" fill="url(#e58)"/>
<rect x="33.2" y="636.00" width="225.8" height="2.00" fill="url(#e59)"/>
<rect x="33.2" y="638.00" width="225.8" height="2.00" fill="url(#e60)"/>
<rect x="33.2" y="640.00" width="225.8" height="2.00" fill="url(#e61)"/>
<rect x="33.2" y="642.00" width="225.8" height="2.00" fill="url(#e62)"/>
<rect x="33.2" y="644.00" width="225.8" height="2.00" fill="url(#e63)"/>
<rect x="33.2" y="646.00" width="225.8" height="2.00" fill="url(#e64)"/>
<rect x="33.2" y="648.00" width="225.8" height="2.00" fill="url(#e65)"/>
<rect x="33.2" y="650.00" width="225.8" height="2.00" fill="url(#e66)"/>
<rect x="33.2" y="652.00" width="225.8" height="2.00" fill="url(#e67)"/>
<rect x="33.2" y="654.00" width="225.8" height="2.00" fill="url(#e68)"/>
<rect x="33.2" y="656.00" width="225.8" height="2.00" fill="url(#e69)"/>
<rect x="33.2" y="658.00" width="225.8" height="2.00" fill="url(#e70)"/>
<rect x="33.2" y="660.00" width="225.8" height="2.00" fill="url(#e71)"/>
<rect x="33.2" y="662.00" width="225.8" height="2.00" fill="url(#e72)"/>
<rect x="33.2" y="664.00" width="225.8" height="2.00" fill="url(#e73)"/>
<rect x="33.2" y="666.00" width="225.8" height="2.00" fill="url(#e74)"/>
<rect x="33.2" y="668.00" width="225.8" height="2.00" fill="url(#e75)"/>
<rect x="33.2" y="670.00" width="225.8" height="2.00" fill="url(#e76)"/>
<rect x="33.2" y="672.00" width="225.8" height="2.00" fill="url(#e77)"/>
<rect x="33.2" y="674.00" width="225.8" height="2.00" fill="url(#e78)"/>
<rect x="33.2" y="676.00" width="225.8" height="2.00" fill="url(#e79)"/>
<rect x="33.2" y="678.00" width="225.8" height="2.00" fill="url(#e80)"/>
<rect x="33.2" y="680.00" width="225.8" height="2.00" fill="url(#e81)"/>
<rect x="33.2" y="682.00" width="225.8" height="2.00" fill="url(#e82)"/>
<rect x="33.2" y="684.00" width="225.8" height="2.00" fill="url(#e83)"/>
<rect x="33.2" y="686.00" width="225.8" height="2.00" fill="url(#e84)"/>
<rect x="33.2" y="688.00" width="225.8" height="2.00" fill="url(#e85)"/>
<rect x="33.2" y="690.00" width="225.8" height="2.00" fill="url(#e86)"/>
<rect x="33.2" y="692.00" width="225.8" height="2.00" fill="url(#e87)"/>
<rect x="33.2" y="694.00" width="225.8" height="2.00" fill="url(#e88)"/>
<rect x="33.2" y="696.00" width="225.8" height="2.00" fill="url(#e89)"/>
<rect x="33.2" y="698.00" width="225.8" height="2.00" fill="url(#e90)"/>
<rect x="33.2" y="700.00" width="225.8" height="2.00" fill="url(#e91)"/>
<rect x="33.2" y="702.00" width="225.8" height="2.00" fill="url(#e92)"/>
<rect x="33.2" y="704.00" width="225.8" height="2.00" fill="url(#e93)"/>
<rect x="33.2" y="706.00" width="225.8" height="2.00" fill="url(#e94)"/>
<rect x="33.2" y="708.00" width="225.8" height="2.00" fill="url(#e95)"/>
<rect x="33.2" y="710.00" width="225.8" height="2.00" fill="url(#e96)"/>
<rect x="33.2" y="712.00" width="225.8" height="2.00" fill="url(#e97)"/>
<rect x="33.2" y="714.00" width="225.8" height="2.00" fill="url(#e98)"/>
<rect x="33.2" y="716.00" width="225.8" height="2.00" fill="url(#e99)"/>
<rect x="33.2" y="718.00" width="225.8" height="2.00" fill="url(#e100)"/>
<rect x="33.2" y="720.00" width="225.8" height="2.00" fill="url(#e101)"/>
<rect x="33.2" y="722.00" width="225.8" height="2.00" fill="url(#e102)"/>
<rect x="33.2" y="724.00" width="225.8" height="2.00" fill="url(#e103)"/>
<rect x="33.2" y="726.00" width="225.8" height="2.00" fill="url(#e104)"/>
<rect x="33.2" y="728.00" width="225.8" height="2.00" fill="url(#e105)"/>
<rect x="33.2" y="730.00" width="225.8" height="0.70" fill="url(#e106)"/></g>
<rect x="33.2" y="511.5" width="225.8" height="6.8" fill="#000"/>
<rect x="33.2" y="518.3" width="225.8" height="1.4" fill="url(#eline)"/>
<text x="27.8" y="527.3" font-family="'Liberation Sans', Arial, sans-serif" font-size="17.5" font-weight="normal" text-anchor="end" fill="#000">1.0</text>
<text x="27.8" y="595.8" font-family="'Liberation Sans', Arial, sans-serif" font-size="17.5" font-weight="normal" text-anchor="end" fill="#000">0.8</text>
<text x="27.8" y="665.6" font-family="'Liberation Sans', Arial, sans-serif" font-size="17.5" font-weight="normal" text-anchor="end" fill="#000">0.6</text>
<text x="27.8" y="737.3" font-family="'Liberation Sans', Arial, sans-serif" font-size="17.5" font-weight="normal" text-anchor="end" fill="#000">0.4</text>
<text x="33.2" y="750.5" font-family="'Liberation Sans', Arial, sans-serif" font-size="16.5" font-weight="normal" text-anchor="middle" fill="#000">0</text>
<text x="89.7" y="750.5" font-family="'Liberation Sans', Arial, sans-serif" font-size="16.5" font-weight="normal" text-anchor="middle" fill="#000">1</text>
<text x="146.1" y="750.5" font-family="'Liberation Sans', Arial, sans-serif" font-size="16.5" font-weight="normal" text-anchor="middle" fill="#000">2</text>
<text x="202.6" y="750.5" font-family="'Liberation Sans', Arial, sans-serif" font-size="16.5" font-weight="normal" text-anchor="middle" fill="#000">3</text>
<text x="259.0" y="750.5" font-family="'Liberation Sans', Arial, sans-serif" font-size="16.5" font-weight="normal" text-anchor="middle" fill="#000">4</text>
<text x="41.0" y="718.1" font-family="'Liberation Sans', Arial, sans-serif" font-size="18.0" font-weight="bold" text-anchor="start" fill="#fff" textLength="22" lengthAdjust="spacingAndGlyphs">(e)</text>
<g shape-rendering="crispEdges"><rect x="290.0" y="513.30" width="224.8" height="1.70" fill="url(#f0)"/>
<rect x="290.0" y="515.00" width="224.8" height="2.00" fill="url(#f1)"/>
<rect x="290.0" y="517.00" width="224.8" height="2.00" fill="url(#f2)"/>
<rect x="290.0" y="519.00" width="224.8" height="2.00" fill="url(#f3)"/>
<rect x="290.0" y="521.00" width="224.8" height="2.00" fill="url(#f4)"/>
<rect x="290.0" y="523.00" width="224.8" height="2.00" fill="url(#f5)"/>
<rect x="290.0" y="525.00" width="224.8" height="2.00" fill="url(#f6)"/>
<rect x="290.0" y="527.00" width="224.8" height="2.00" fill="url(#f7)"/>
<rect x="290.0" y="529.00" width="224.8" height="2.00" fill="url(#f8)"/>
<rect x="290.0" y="531.00" width="224.8" height="2.00" fill="url(#f9)"/>
<rect x="290.0" y="533.00" width="224.8" height="2.00" fill="url(#f10)"/>
<rect x="290.0" y="535.00" width="224.8" height="2.00" fill="url(#f11)"/>
<rect x="290.0" y="537.00" width="224.8" height="2.00" fill="url(#f12)"/>
<rect x="290.0" y="539.00" width="224.8" height="2.00" fill="url(#f13)"/>
<rect x="290.0" y="541.00" width="224.8" height="2.00" fill="url(#f14)"/>
<rect x="290.0" y="543.00" width="224.8" height="2.00" fill="url(#f15)"/>
<rect x="290.0" y="545.00" width="224.8" height="2.00" fill="url(#f16)"/>
<rect x="290.0" y="547.00" width="224.8" height="2.00" fill="url(#f17)"/>
<rect x="290.0" y="549.00" width="224.8" height="2.00" fill="url(#f18)"/>
<rect x="290.0" y="551.00" width="224.8" height="2.00" fill="url(#f19)"/>
<rect x="290.0" y="553.00" width="224.8" height="2.00" fill="url(#f20)"/>
<rect x="290.0" y="555.00" width="224.8" height="2.00" fill="url(#f21)"/>
<rect x="290.0" y="557.00" width="224.8" height="2.00" fill="url(#f22)"/>
<rect x="290.0" y="559.00" width="224.8" height="2.00" fill="url(#f23)"/>
<rect x="290.0" y="561.00" width="224.8" height="2.00" fill="url(#f24)"/>
<rect x="290.0" y="563.00" width="224.8" height="2.00" fill="url(#f25)"/>
<rect x="290.0" y="565.00" width="224.8" height="2.00" fill="url(#f26)"/>
<rect x="290.0" y="567.00" width="224.8" height="2.00" fill="url(#f27)"/>
<rect x="290.0" y="569.00" width="224.8" height="2.00" fill="url(#f28)"/>
<rect x="290.0" y="571.00" width="224.8" height="2.00" fill="url(#f29)"/>
<rect x="290.0" y="573.00" width="224.8" height="2.00" fill="url(#f30)"/>
<rect x="290.0" y="575.00" width="224.8" height="2.00" fill="url(#f31)"/>
<rect x="290.0" y="577.00" width="224.8" height="2.00" fill="url(#f32)"/>
<rect x="290.0" y="579.00" width="224.8" height="2.00" fill="url(#f33)"/>
<rect x="290.0" y="581.00" width="224.8" height="2.00" fill="url(#f34)"/>
<rect x="290.0" y="583.00" width="224.8" height="2.00" fill="url(#f35)"/>
<rect x="290.0" y="585.00" width="224.8" height="2.00" fill="url(#f36)"/>
<rect x="290.0" y="587.00" width="224.8" height="2.00" fill="url(#f37)"/>
<rect x="290.0" y="589.00" width="224.8" height="2.00" fill="url(#f38)"/>
<rect x="290.0" y="591.00" width="224.8" height="2.00" fill="url(#f39)"/>
<rect x="290.0" y="593.00" width="224.8" height="2.00" fill="url(#f40)"/>
<rect x="290.0" y="595.00" width="224.8" height="2.00" fill="url(#f41)"/>
<rect x="290.0" y="597.00" width="224.8" height="2.00" fill="url(#f42)"/>
<rect x="290.0" y="599.00" width="224.8" height="2.00" fill="url(#f43)"/>
<rect x="290.0" y="601.00" width="224.8" height="2.00" fill="url(#f44)"/>
<rect x="290.0" y="603.00" width="224.8" height="2.00" fill="url(#f45)"/>
<rect x="290.0" y="605.00" width="224.8" height="2.00" fill="url(#f46)"/>
<rect x="290.0" y="607.00" width="224.8" height="2.00" fill="url(#f47)"/>
<rect x="290.0" y="609.00" width="224.8" height="2.00" fill="url(#f48)"/>
<rect x="290.0" y="611.00" width="224.8" height="2.00" fill="url(#f49)"/>
<rect x="290.0" y="613.00" width="224.8" height="2.00" fill="url(#f50)"/>
<rect x="290.0" y="615.00" width="224.8" height="2.00" fill="url(#f51)"/>
<rect x="290.0" y="617.00" width="224.8" height="2.00" fill="url(#f52)"/>
<rect x="290.0" y="619.00" width="224.8" height="2.00" fill="url(#f53)"/>
<rect x="290.0" y="621.00" width="224.8" height="2.00" fill="url(#f54)"/>
<rect x="290.0" y="623.00" width="224.8" height="2.00" fill="url(#f55)"/>
<rect x="290.0" y="625.00" width="224.8" height="2.00" fill="url(#f56)"/>
<rect x="290.0" y="627.00" width="224.8" height="2.00" fill="url(#f57)"/>
<rect x="290.0" y="629.00" width="224.8" height="2.00" fill="url(#f58)"/>
<rect x="290.0" y="631.00" width="224.8" height="2.00" fill="url(#f59)"/>
<rect x="290.0" y="633.00" width="224.8" height="2.00" fill="url(#f60)"/>
<rect x="290.0" y="635.00" width="224.8" height="2.00" fill="url(#f61)"/>
<rect x="290.0" y="637.00" width="224.8" height="2.00" fill="url(#f62)"/>
<rect x="290.0" y="639.00" width="224.8" height="2.00" fill="url(#f63)"/>
<rect x="290.0" y="641.00" width="224.8" height="2.00" fill="url(#f64)"/>
<rect x="290.0" y="643.00" width="224.8" height="2.00" fill="url(#f65)"/>
<rect x="290.0" y="645.00" width="224.8" height="2.00" fill="url(#f66)"/>
<rect x="290.0" y="647.00" width="224.8" height="2.00" fill="url(#f67)"/>
<rect x="290.0" y="649.00" width="224.8" height="2.00" fill="url(#f68)"/>
<rect x="290.0" y="651.00" width="224.8" height="2.00" fill="url(#f69)"/>
<rect x="290.0" y="653.00" width="224.8" height="2.00" fill="url(#f70)"/>
<rect x="290.0" y="655.00" width="224.8" height="2.00" fill="url(#f71)"/>
<rect x="290.0" y="657.00" width="224.8" height="2.00" fill="url(#f72)"/>
<rect x="290.0" y="659.00" width="224.8" height="2.00" fill="url(#f73)"/>
<rect x="290.0" y="661.00" width="224.8" height="2.00" fill="url(#f74)"/>
<rect x="290.0" y="663.00" width="224.8" height="2.00" fill="url(#f75)"/>
<rect x="290.0" y="665.00" width="224.8" height="2.00" fill="url(#f76)"/>
<rect x="290.0" y="667.00" width="224.8" height="2.00" fill="url(#f77)"/>
<rect x="290.0" y="669.00" width="224.8" height="2.00" fill="url(#f78)"/>
<rect x="290.0" y="671.00" width="224.8" height="2.00" fill="url(#f79)"/>
<rect x="290.0" y="673.00" width="224.8" height="2.00" fill="url(#f80)"/>
<rect x="290.0" y="675.00" width="224.8" height="2.00" fill="url(#f81)"/>
<rect x="290.0" y="677.00" width="224.8" height="2.00" fill="url(#f82)"/>
<rect x="290.0" y="679.00" width="224.8" height="2.00" fill="url(#f83)"/>
<rect x="290.0" y="681.00" width="224.8" height="2.00" fill="url(#f84)"/>
<rect x="290.0" y="683.00" width="224.8" height="2.00" fill="url(#f85)"/>
<rect x="290.0" y="685.00" width="224.8" height="2.00" fill="url(#f86)"/>
<rect x="290.0" y="687.00" width="224.8" height="2.00" fill="url(#f87)"/>
<rect x="290.0" y="689.00" width="224.8" height="2.00" fill="url(#f88)"/>
<rect x="290.0" y="691.00" width="224.8" height="2.00" fill="url(#f89)"/>
<rect x="290.0" y="693.00" width="224.8" height="2.00" fill="url(#f90)"/>
<rect x="290.0" y="695.00" width="224.8" height="2.00" fill="url(#f91)"/>
<rect x="290.0" y="697.00" width="224.8" height="2.00" fill="url(#f92)"/>
<rect x="290.0" y="699.00" width="224.8" height="2.00" fill="url(#f93)"/>
<rect x="290.0" y="701.00" width="224.8" height="2.00" fill="url(#f94)"/>
<rect x="290.0" y="703.00" width="224.8" height="2.00" fill="url(#f95)"/>
<rect x="290.0" y="705.00" width="224.8" height="2.00" fill="url(#f96)"/>
<rect x="290.0" y="707.00" width="224.8" height="2.00" fill="url(#f97)"/>
<rect x="290.0" y="709.00" width="224.8" height="2.00" fill="url(#f98)"/>
<rect x="290.0" y="711.00" width="224.8" height="2.00" fill="url(#f99)"/>
<rect x="290.0" y="713.00" width="224.8" height="2.00" fill="url(#f100)"/>
<rect x="290.0" y="715.00" width="224.8" height="2.00" fill="url(#f101)"/>
<rect x="290.0" y="717.00" width="224.8" height="2.00" fill="url(#f102)"/>
<rect x="290.0" y="719.00" width="224.8" height="2.00" fill="url(#f103)"/>
<rect x="290.0" y="721.00" width="224.8" height="2.00" fill="url(#f104)"/>
<rect x="290.0" y="723.00" width="224.8" height="2.00" fill="url(#f105)"/>
<rect x="290.0" y="725.00" width="224.8" height="2.00" fill="url(#f106)"/>
<rect x="290.0" y="727.00" width="224.8" height="2.00" fill="url(#f107)"/>
<rect x="290.0" y="729.00" width="224.8" height="1.90" fill="url(#f108)"/></g>
<path d="M514.8 520.5h-2.4M514.8 538.0h-2.4M514.8 555.6h-2.4M514.8 573.1h-2.4M514.8 590.6h-2.4M514.8 608.2h-2.4M514.8 625.7h-2.4M514.8 643.2h-2.4M514.8 660.8h-2.4M514.8 678.3h-2.4M514.8 695.8h-2.4M514.8 713.4h-2.4M514.8 730.9h-2.4M301.2 730.9v-2M312.5 730.9v-2M323.7 730.9v-2M335.0 730.9v-2M346.2 730.9v-2M357.4 730.9v-2M368.7 730.9v-2M379.9 730.9v-2M391.2 730.9v-2M402.4 730.9v-2M413.6 730.9v-2M424.9 730.9v-2M436.1 730.9v-2M447.4 730.9v-2M458.6 730.9v-2M469.8 730.9v-2M481.1 730.9v-2M492.3 730.9v-2M503.6 730.9v-2" stroke="#1a0818" stroke-width="1.5" fill="none"/>
<text x="290.0" y="749.8" font-family="'Liberation Sans', Arial, sans-serif" font-size="16.5" font-weight="normal" text-anchor="middle" fill="#000">0</text>
<text x="346.2" y="752.3" font-family="'Liberation Sans', Arial, sans-serif" font-size="16.5" font-weight="normal" text-anchor="middle" fill="#000">1</text>
<text x="402.4" y="749.8" font-family="'Liberation Sans', Arial, sans-serif" font-size="16.5" font-weight="normal" text-anchor="middle" fill="#000">2</text>
<text x="458.6" y="749.8" font-family="'Liberation Sans', Arial, sans-serif" font-size="16.5" font-weight="normal" text-anchor="middle" fill="#000">3</text>
<text x="514.8" y="749.8" font-family="'Liberation Sans', Arial, sans-serif" font-size="16.5" font-weight="normal" text-anchor="middle" fill="#000">4</text>
<text x="301.0" y="715.3" font-family="'Liberation Sans', Arial, sans-serif" font-size="18.0" font-weight="bold" text-anchor="start" fill="#fff" textLength="19.5" lengthAdjust="spacingAndGlyphs">(f)</text>
<rect x="117.5" y="785.5" width="305.0" height="153.0" fill="none" stroke="#a0a0a0" stroke-width="1.1"/>
<path d="M117.5 938.5h4.0M422.5 938.5h-4.0M117.5 932.4h2.2M422.5 932.4h-2.2M117.5 926.3h2.2M422.5 926.3h-2.2M117.5 920.1h2.2M422.5 920.1h-2.2M117.5 914.0h2.2M422.5 914.0h-2.2M117.5 907.9h4.0M422.5 907.9h-4.0M117.5 901.8h2.2M422.5 901.8h-2.2M117.5 895.7h2.2M422.5 895.7h-2.2M117.5 889.5h2.2M422.5 889.5h-2.2M117.5 883.4h2.2M422.5 883.4h-2.2M117.5 877.3h4.0M422.5 877.3h-4.0M117.5 871.2h2.2M422.5 871.2h-2.2M117.5 865.1h2.2M422.5 865.1h-2.2M117.5 858.9h2.2M422.5 858.9h-2.2M117.5 852.8h2.2M422.5 852.8h-2.2M117.5 846.7h4.0M422.5 846.7h-4.0M117.5 840.6h2.2M422.5 840.6h-2.2M117.5 834.5h2.2M422.5 834.5h-2.2M117.5 828.3h2.2M422.5 828.3h-2.2M117.5 822.2h2.2M422.5 822.2h-2.2M117.5 816.1h4.0M422.5 816.1h-4.0M117.5 810.0h2.2M422.5 810.0h-2.2M117.5 803.9h2.2M422.5 803.9h-2.2M117.5 797.7h2.2M422.5 797.7h-2.2M117.5 791.6h2.2M422.5 791.6h-2.2M117.5 785.5h4.0M422.5 785.5h-4.0M117.5 938.5v-4.0M117.5 785.5v4.0M132.8 938.5v-2.2M132.8 785.5v2.2M148.0 938.5v-2.2M148.0 785.5v2.2M163.2 938.5v-2.2M163.2 785.5v2.2M178.5 938.5v-4.0M178.5 785.5v4.0M193.8 938.5v-2.2M193.8 785.5v2.2M209.0 938.5v-2.2M209.0 785.5v2.2M224.2 938.5v-2.2M224.2 785.5v2.2M239.5 938.5v-4.0M239.5 785.5v4.0M254.8 938.5v-2.2M254.8 785.5v2.2M270.0 938.5v-2.2M270.0 785.5v2.2M285.2 938.5v-2.2M285.2 785.5v2.2M300.5 938.5v-4.0M300.5 785.5v4.0M315.8 938.5v-2.2M315.8 785.5v2.2M331.0 938.5v-2.2M331.0 785.5v2.2M346.2 938.5v-2.2M346.2 785.5v2.2M361.5 938.5v-4.0M361.5 785.5v4.0M376.8 938.5v-2.2M376.8 785.5v2.2M392.0 938.5v-2.2M392.0 785.5v2.2M407.2 938.5v-2.2M407.2 785.5v2.2M422.5 938.5v-4.0M422.5 785.5v4.0" stroke="#a0a0a0" stroke-width="0.9" fill="none"/>
<text x="113.8" y="945.5" font-family="'Liberation Serif', 'Times New Roman', serif" font-size="20.5" font-weight="normal" text-anchor="end" fill="#000">0</text>
<text x="113.8" y="914.9" font-family="'Liberation Serif', 'Times New Roman', serif" font-size="20.5" font-weight="normal" text-anchor="end" fill="#000">1</text>
<text x="113.8" y="884.3" font-family="'Liberation Serif', 'Times New Roman', serif" font-size="20.5" font-weight="normal" text-anchor="end" fill="#000">2</text>
<text x="113.8" y="853.7" font-family="'Liberation Serif', 'Times New Roman', serif" font-size="20.5" font-weight="normal" text-anchor="end" fill="#000">3</text>
<text x="113.8" y="823.1" font-family="'Liberation Serif', 'Times New Roman', serif" font-size="20.5" font-weight="normal" text-anchor="end" fill="#000">4</text>
<text x="113.8" y="792.5" font-family="'Liberation Serif', 'Times New Roman', serif" font-size="20.5" font-weight="normal" text-anchor="end" fill="#000">5</text>
<text x="117.5" y="961.3" font-family="'Liberation Serif', 'Times New Roman', serif" font-size="20.5" font-weight="normal" text-anchor="middle" fill="#000">0.0</text>
<text x="178.5" y="961.3" font-family="'Liberation Serif', 'Times New Roman', serif" font-size="20.5" font-weight="normal" text-anchor="middle" fill="#000">0.2</text>
<text x="239.5" y="961.3" font-family="'Liberation Serif', 'Times New Roman', serif" font-size="20.5" font-weight="normal" text-anchor="middle" fill="#000">0.4</text>
<text x="300.5" y="961.3" font-family="'Liberation Serif', 'Times New Roman', serif" font-size="20.5" font-weight="normal" text-anchor="middle" fill="#000">0.6</text>
<text x="361.5" y="961.3" font-family="'Liberation Serif', 'Times New Roman', serif" font-size="20.5" font-weight="normal" text-anchor="middle" fill="#000">0.8</text>
<text x="422.5" y="961.3" font-family="'Liberation Serif', 'Times New Roman', serif" font-size="20.5" font-weight="normal" text-anchor="middle" fill="#000">1.0</text>
<text x="245" y="988.8" font-family="'Liberation Serif', 'Times New Roman', serif" font-size="21" textLength="47.5" lengthAdjust="spacingAndGlyphs"><tspan font-style="italic">&#969;</tspan><tspan font-style="italic" font-size="14.5" dy="3">&#947;</tspan><tspan dy="-3">/</tspan><tspan font-style="italic">E</tspan><tspan font-size="14.5" dy="3">0</tspan></text>
<text transform="translate(87.2 863) rotate(-90)" font-family="'Liberation Serif', 'Times New Roman', serif" font-size="20.8" text-anchor="middle">dN<tspan font-style="italic" font-size="14" dy="3.5">&#947;</tspan><tspan dy="-3.5">/d</tspan><tspan font-style="italic">&#969;</tspan><tspan font-style="italic" font-size="14" dy="3.5">&#947;</tspan><tspan dy="-3.5">[Norm]</tspan></text>
<g clip-path="url(#gclip)">
<path d="M127.7 780.9 C128.0 783.9 128.8 793.4 129.3 798.7 C129.8 804.0 130.3 808.6 130.8 812.8 C131.4 816.9 131.9 820.0 132.4 823.6 C132.9 827.2 133.4 830.7 134.0 834.3 C134.5 837.8 135.0 841.7 135.5 844.8 C136.0 847.9 136.6 850.3 137.1 852.7 C137.6 855.1 138.1 857.1 138.6 859.2 C139.2 861.3 139.7 863.2 140.2 865.1 C140.7 867.0 141.2 868.8 141.8 870.6 C142.3 872.3 142.8 874.0 143.3 875.5 C143.8 877.1 144.4 878.6 144.9 880.0 C145.4 881.4 145.9 882.6 146.4 883.9 C147.0 885.1 146.4 884.4 148.0 887.2 C149.6 890.0 153.4 896.8 156.1 900.8 C158.8 904.8 161.6 908.1 164.3 911.0 C167.0 913.9 169.7 916.2 172.4 918.1 C175.1 920.1 177.8 921.5 180.5 922.8 C183.2 924.1 186.0 925.2 188.7 926.2 C191.4 927.2 194.1 928.0 196.8 928.8 C199.5 929.6 202.2 930.3 204.9 931.0 C207.6 931.6 210.4 932.2 213.1 932.8 C215.8 933.3 218.5 933.7 221.2 934.1 C223.9 934.6 226.6 934.9 229.3 935.2 C232.0 935.5 234.8 935.8 237.5 936.0 C240.2 936.3 242.9 936.5 245.6 936.7 C248.3 936.9 251.0 937.0 253.7 937.2 C256.4 937.3 259.2 937.4 261.9 937.5 C264.6 937.6 263.6 937.7 270.0 937.8 C276.4 937.9 285.2 938.2 300.5 938.3 C315.8 938.4 341.2 938.5 361.5 938.5 C381.8 938.5 412.3 938.5 422.5 938.5" fill="none" stroke="#000" stroke-width="2.6" stroke-linejoin="round"/>
<path d="M127.7 781.0 C128.0 784.1 128.8 794.1 129.3 799.7 C129.8 805.2 130.3 810.0 130.8 814.4 C131.4 818.7 131.9 822.0 132.4 825.8 C132.9 829.5 133.4 833.2 134.0 836.9 C134.5 840.5 135.0 844.5 135.5 847.7 C136.0 850.9 136.6 853.4 137.1 855.9 C137.6 858.4 138.1 860.6 138.6 862.7 C139.2 864.9 139.7 866.8 140.2 868.7 C140.7 870.6 141.2 872.5 141.8 874.2 C142.3 875.9 142.8 877.6 143.3 879.1 C143.8 880.6 144.4 882.1 144.9 883.4 C145.4 884.7 145.9 886.0 146.4 887.1 C147.0 888.3 146.4 887.7 148.0 890.3 C149.6 893.0 153.4 899.3 156.1 903.1 C158.8 906.8 161.6 910.0 164.3 912.7 C167.0 915.4 169.7 917.5 172.4 919.4 C175.1 921.2 177.8 922.5 180.5 923.7 C183.2 925.0 186.0 926.0 188.7 926.9 C191.4 927.9 194.1 928.6 196.8 929.4 C199.5 930.1 202.2 930.8 204.9 931.4 C207.6 932.0 210.4 932.6 213.1 933.1 C215.8 933.6 218.5 934.0 221.2 934.4 C223.9 934.8 226.6 935.1 229.3 935.4 C232.0 935.7 234.8 936.0 237.5 936.2 C240.2 936.4 242.9 936.6 245.6 936.8 C248.3 937.0 251.0 937.1 253.7 937.2 C256.4 937.4 259.2 937.5 261.9 937.6 C264.6 937.7 263.6 937.7 270.0 937.8 C276.4 938.0 285.2 938.2 300.5 938.3 C315.8 938.4 341.2 938.5 361.5 938.5 C381.8 938.5 412.3 938.5 422.5 938.5" fill="none" stroke="#1a1ad8" stroke-width="2.4" stroke-dasharray="5 3" stroke-linejoin="round"/>
<path d="M127.3 780.9 C127.5 783.5 128.3 791.3 128.9 796.3 C129.4 801.3 129.9 806.2 130.5 810.8 C131.0 815.5 131.5 820.0 132.0 824.3 C132.6 828.6 133.1 832.7 133.6 836.8 C134.2 840.9 134.7 845.4 135.2 849.1 C135.8 852.9 136.3 856.4 136.8 859.2 C137.4 862.1 137.9 864.1 138.4 866.1 C139.0 868.2 139.5 869.9 140.0 871.6 C140.6 873.2 141.1 874.7 141.6 876.2 C142.2 877.7 142.7 879.1 143.2 880.5 C143.7 881.9 144.3 883.3 144.8 884.6 C145.3 885.9 145.9 887.1 146.4 888.2 C146.9 889.4 146.4 888.4 148.0 891.6 C149.6 894.8 153.4 903.0 156.1 907.2 C158.8 911.4 161.6 914.2 164.3 916.7 C167.0 919.2 169.7 920.6 172.4 922.3 C175.1 923.9 177.8 925.2 180.5 926.5 C183.2 927.8 186.0 929.0 188.7 930.1 C191.4 931.2 194.1 932.2 196.8 932.9 C199.5 933.7 202.2 934.2 204.9 934.7 C207.6 935.2 210.4 935.5 213.1 935.8 C215.8 936.2 218.5 936.4 221.2 936.6 C223.9 936.8 226.6 937.0 229.3 937.2 C232.0 937.3 234.8 937.4 237.5 937.5 C240.2 937.7 242.9 937.7 245.6 937.8 C248.3 937.9 251.0 937.9 253.7 938.0 C256.4 938.1 259.2 938.1 261.9 938.1 C264.6 938.2 263.6 938.2 270.0 938.2 C276.4 938.3 285.2 938.4 300.5 938.4 C315.8 938.5 341.2 938.5 361.5 938.5 C381.8 938.5 412.3 938.5 422.5 938.5" fill="none" stroke="#e01818" stroke-width="2.6" stroke-dasharray="2.6 2.2" stroke-linejoin="round"/>
</g>
<path d="M210.8 812.9H235.6" stroke="#000" stroke-width="2.4"/>
<path d="M210.8 840.7H235.6" stroke="#1a1ad8" stroke-width="2.2" stroke-dasharray="5.5 2.8"/>
<path d="M210.8 869H235.6" stroke="#e01818" stroke-width="2.2" stroke-dasharray="2.6 2.2"/>
<text x="256.8" y="817.2" font-size="17" fill="#000" textLength="61" lengthAdjust="spacingAndGlyphs"><tspan font-family="'Liberation Sans', Arial, sans-serif">D=</tspan><tspan font-family="'Liberation Serif', 'Times New Roman', serif" font-size="19">1</tspan><tspan font-family="'Liberation Serif', 'Times New Roman', serif" font-style="italic" font-size="19">&#956;</tspan><tspan font-family="'Liberation Serif', 'Times New Roman', serif" font-size="19">m</tspan></text>
<text x="256.8" y="845.0" font-size="17" fill="#000" textLength="61" lengthAdjust="spacingAndGlyphs"><tspan font-family="'Liberation Sans', Arial, sans-serif">D=</tspan><tspan font-family="'Liberation Serif', 'Times New Roman', serif" font-size="19">2</tspan><tspan font-family="'Liberation Serif', 'Times New Roman', serif" font-style="italic" font-size="19">&#956;</tspan><tspan font-family="'Liberation Serif', 'Times New Roman', serif" font-size="19">m</tspan></text>
<text x="256.8" y="873.3" font-size="17" fill="#000" textLength="61" lengthAdjust="spacingAndGlyphs"><tspan font-family="'Liberation Sans', Arial, sans-serif">D=</tspan><tspan font-family="'Liberation Serif', 'Times New Roman', serif" font-size="19">4</tspan><tspan font-family="'Liberation Serif', 'Times New Roman', serif" font-style="italic" font-size="19">&#956;</tspan><tspan font-family="'Liberation Serif', 'Times New Roman', serif" font-size="19">m</tspan></text>
<text x="358.8" y="815.2" font-family="'Liberation Serif', 'Times New Roman', serif" font-size="21.0" font-weight="normal" text-anchor="start" fill="#000">(g)</text>
</svg></body></html>
